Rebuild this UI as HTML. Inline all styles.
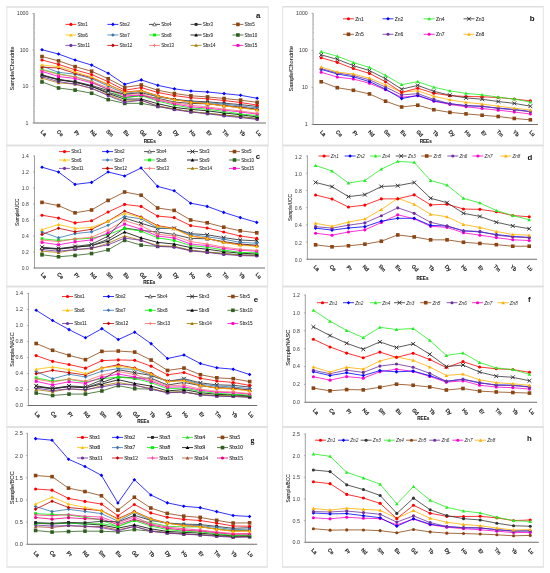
<!DOCTYPE html>
<html><head><meta charset="utf-8"><style>
html,body{margin:0;padding:0;background:#fff;width:550px;height:573px;overflow:hidden}
svg{display:block;filter:blur(0.55px)}

</style></head><body>
<svg width="550" height="573" viewBox="0 0 550 573" font-family='"Liberation Sans", sans-serif'>
<rect width="550" height="573" fill="#fff"/>
<path d="M6.2,6.9H268.8M6.2,145.6H268.8" fill="none" stroke="#e0e0e0" stroke-width="1.5"/>
<path d="M6.8,6.9V145.6M268.2,6.9V145.6" fill="none" stroke="#e6e6e6" stroke-width="1.1"/>
<path d="M34,13.0V123" fill="none" stroke="#8a8a8a" stroke-width="1.0"/>
<path d="M33.5,123H266" fill="none" stroke="#6e6e6e" stroke-width="1.1"/>
<path d="M32.5,13.50H34" stroke="#8c8c8c" stroke-width="0.6"/>
<text x="28.5" y="15.41" font-size="5.3" text-anchor="end" fill="#3a3a3a" stroke="#3a3a3a" stroke-width="0.0">1000</text>
<path d="M32.5,50.00H34" stroke="#8c8c8c" stroke-width="0.6"/>
<text x="28.5" y="51.91" font-size="5.3" text-anchor="end" fill="#3a3a3a" stroke="#3a3a3a" stroke-width="0.0">100</text>
<path d="M32.5,86.50H34" stroke="#8c8c8c" stroke-width="0.6"/>
<text x="28.5" y="88.41" font-size="5.3" text-anchor="end" fill="#3a3a3a" stroke="#3a3a3a" stroke-width="0.0">10</text>
<path d="M32.5,123.00H34" stroke="#8c8c8c" stroke-width="0.6"/>
<text x="28.5" y="124.91" font-size="5.3" text-anchor="end" fill="#3a3a3a" stroke="#3a3a3a" stroke-width="0.0">1</text>
<path d="M34,112.01H35.0" stroke="#9a9a9a" stroke-width="0.5"/>
<path d="M34,105.59H35.0" stroke="#9a9a9a" stroke-width="0.5"/>
<path d="M34,101.02H35.0" stroke="#9a9a9a" stroke-width="0.5"/>
<path d="M34,97.49H35.0" stroke="#9a9a9a" stroke-width="0.5"/>
<path d="M34,94.60H35.0" stroke="#9a9a9a" stroke-width="0.5"/>
<path d="M34,92.15H35.0" stroke="#9a9a9a" stroke-width="0.5"/>
<path d="M34,90.04H35.0" stroke="#9a9a9a" stroke-width="0.5"/>
<path d="M34,88.17H35.0" stroke="#9a9a9a" stroke-width="0.5"/>
<path d="M34,75.51H35.0" stroke="#9a9a9a" stroke-width="0.5"/>
<path d="M34,69.09H35.0" stroke="#9a9a9a" stroke-width="0.5"/>
<path d="M34,64.52H35.0" stroke="#9a9a9a" stroke-width="0.5"/>
<path d="M34,60.99H35.0" stroke="#9a9a9a" stroke-width="0.5"/>
<path d="M34,58.10H35.0" stroke="#9a9a9a" stroke-width="0.5"/>
<path d="M34,55.65H35.0" stroke="#9a9a9a" stroke-width="0.5"/>
<path d="M34,53.54H35.0" stroke="#9a9a9a" stroke-width="0.5"/>
<path d="M34,51.67H35.0" stroke="#9a9a9a" stroke-width="0.5"/>
<path d="M34,39.01H35.0" stroke="#9a9a9a" stroke-width="0.5"/>
<path d="M34,32.59H35.0" stroke="#9a9a9a" stroke-width="0.5"/>
<path d="M34,28.02H35.0" stroke="#9a9a9a" stroke-width="0.5"/>
<path d="M34,24.49H35.0" stroke="#9a9a9a" stroke-width="0.5"/>
<path d="M34,21.60H35.0" stroke="#9a9a9a" stroke-width="0.5"/>
<path d="M34,19.15H35.0" stroke="#9a9a9a" stroke-width="0.5"/>
<path d="M34,17.04H35.0" stroke="#9a9a9a" stroke-width="0.5"/>
<path d="M34,15.17H35.0" stroke="#9a9a9a" stroke-width="0.5"/>
<polyline points="42.00,81.95 58.55,87.98 75.10,90.11 91.65,93.25 108.20,99.59 124.75,103.36 141.30,103.30 157.85,106.41 174.40,109.05 190.95,111.68 207.50,113.37 224.05,115.03 240.60,116.56 257.15,118.39" fill="none" stroke="#2f5f1f" stroke-width="0.8"/>
<rect x="40.20" y="80.15" width="3.60" height="3.60" fill="#2f5f1f"/>
<rect x="56.75" y="86.18" width="3.60" height="3.60" fill="#2f5f1f"/>
<rect x="73.30" y="88.31" width="3.60" height="3.60" fill="#2f5f1f"/>
<rect x="89.85" y="91.45" width="3.60" height="3.60" fill="#2f5f1f"/>
<rect x="106.40" y="97.79" width="3.60" height="3.60" fill="#2f5f1f"/>
<rect x="122.95" y="101.56" width="3.60" height="3.60" fill="#2f5f1f"/>
<rect x="139.50" y="101.50" width="3.60" height="3.60" fill="#2f5f1f"/>
<rect x="156.05" y="104.61" width="3.60" height="3.60" fill="#2f5f1f"/>
<rect x="172.60" y="107.25" width="3.60" height="3.60" fill="#2f5f1f"/>
<rect x="189.15" y="109.88" width="3.60" height="3.60" fill="#2f5f1f"/>
<rect x="205.70" y="111.57" width="3.60" height="3.60" fill="#2f5f1f"/>
<rect x="222.25" y="113.23" width="3.60" height="3.60" fill="#2f5f1f"/>
<rect x="238.80" y="114.76" width="3.60" height="3.60" fill="#2f5f1f"/>
<rect x="255.35" y="116.59" width="3.60" height="3.60" fill="#2f5f1f"/>
<polyline points="42.00,78.13 58.55,82.92 75.10,84.12 91.65,88.64 108.20,94.65 124.75,101.06 141.30,100.29 157.85,105.84 174.40,109.05 190.95,111.68 207.50,113.37 224.05,115.03 240.60,117.04 257.15,118.89" fill="none" stroke="#a67c00" stroke-width="0.8"/>
<polygon points="42.00,76.33 43.80,79.57 40.20,79.57" fill="#a67c00"/>
<polygon points="58.55,81.12 60.35,84.36 56.75,84.36" fill="#a67c00"/>
<polygon points="75.10,82.32 76.90,85.56 73.30,85.56" fill="#a67c00"/>
<polygon points="91.65,86.84 93.45,90.08 89.85,90.08" fill="#a67c00"/>
<polygon points="108.20,92.85 110.00,96.09 106.40,96.09" fill="#a67c00"/>
<polygon points="124.75,99.26 126.55,102.50 122.95,102.50" fill="#a67c00"/>
<polygon points="141.30,98.49 143.10,101.73 139.50,101.73" fill="#a67c00"/>
<polygon points="157.85,104.04 159.65,107.28 156.05,107.28" fill="#a67c00"/>
<polygon points="174.40,107.25 176.20,110.49 172.60,110.49" fill="#a67c00"/>
<polygon points="190.95,109.88 192.75,113.12 189.15,113.12" fill="#a67c00"/>
<polygon points="207.50,111.57 209.30,114.81 205.70,114.81" fill="#a67c00"/>
<polygon points="224.05,113.23 225.85,116.47 222.25,116.47" fill="#a67c00"/>
<polygon points="240.60,115.24 242.40,118.48 238.80,118.48" fill="#a67c00"/>
<polygon points="257.15,117.09 258.95,120.33 255.35,120.33" fill="#a67c00"/>
<polyline points="42.00,76.69 58.55,81.67 75.10,84.05 91.65,88.13 108.20,95.71 124.75,102.13 141.30,100.29 157.85,106.41 174.40,109.65 190.95,112.05 207.50,113.78 224.05,115.93 240.60,117.55 257.15,119.41" fill="none" stroke="#7030a0" stroke-width="0.8"/>
<circle cx="42.00" cy="76.69" r="1.56" fill="#7030a0"/>
<circle cx="58.55" cy="81.67" r="1.56" fill="#7030a0"/>
<circle cx="75.10" cy="84.05" r="1.56" fill="#7030a0"/>
<circle cx="91.65" cy="88.13" r="1.56" fill="#7030a0"/>
<circle cx="108.20" cy="95.71" r="1.56" fill="#7030a0"/>
<circle cx="124.75" cy="102.13" r="1.56" fill="#7030a0"/>
<circle cx="141.30" cy="100.29" r="1.56" fill="#7030a0"/>
<circle cx="157.85" cy="106.41" r="1.56" fill="#7030a0"/>
<circle cx="174.40" cy="109.65" r="1.56" fill="#7030a0"/>
<circle cx="190.95" cy="112.05" r="1.56" fill="#7030a0"/>
<circle cx="207.50" cy="113.78" r="1.56" fill="#7030a0"/>
<circle cx="224.05" cy="115.93" r="1.56" fill="#7030a0"/>
<circle cx="240.60" cy="117.55" r="1.56" fill="#7030a0"/>
<circle cx="257.15" cy="119.41" r="1.56" fill="#7030a0"/>
<polyline points="42.00,75.36 58.55,79.88 75.10,82.11 91.65,86.33 108.20,93.38 124.75,99.20 141.30,98.97 157.85,103.72 174.40,107.38 190.95,109.34 207.50,110.82 224.05,112.97 240.60,114.74 257.15,116.97" fill="none" stroke="#000000" stroke-width="0.8"/>
<polygon points="42.00,73.56 43.80,76.80 40.20,76.80" fill="#000000"/>
<polygon points="58.55,78.08 60.35,81.32 56.75,81.32" fill="#000000"/>
<polygon points="75.10,80.31 76.90,83.55 73.30,83.55" fill="#000000"/>
<polygon points="91.65,84.53 93.45,87.77 89.85,87.77" fill="#000000"/>
<polygon points="108.20,91.58 110.00,94.82 106.40,94.82" fill="#000000"/>
<polygon points="124.75,97.40 126.55,100.64 122.95,100.64" fill="#000000"/>
<polygon points="141.30,97.17 143.10,100.41 139.50,100.41" fill="#000000"/>
<polygon points="157.85,101.92 159.65,105.16 156.05,105.16" fill="#000000"/>
<polygon points="174.40,105.58 176.20,108.82 172.60,108.82" fill="#000000"/>
<polygon points="190.95,107.54 192.75,110.78 189.15,110.78" fill="#000000"/>
<polygon points="207.50,109.02 209.30,112.26 205.70,112.26" fill="#000000"/>
<polygon points="224.05,111.17 225.85,114.41 222.25,114.41" fill="#000000"/>
<polygon points="240.60,112.94 242.40,116.18 238.80,116.18" fill="#000000"/>
<polygon points="257.15,115.17 258.95,118.41 255.35,118.41" fill="#000000"/>
<polyline points="42.00,75.36 58.55,79.55 75.10,82.11 91.65,86.33 108.20,92.28 124.75,97.53 141.30,95.43 157.85,98.32 174.40,102.05 190.95,103.44 207.50,103.84 224.05,105.42 240.60,107.08 257.15,109.24" fill="none" stroke="#262626" stroke-width="0.8"/>
<polygon points="42.00,73.56 43.80,76.80 40.20,76.80" fill="#fff" stroke="#262626" stroke-width="0.6"/>
<polygon points="58.55,77.75 60.35,80.99 56.75,80.99" fill="#fff" stroke="#262626" stroke-width="0.6"/>
<polygon points="75.10,80.31 76.90,83.55 73.30,83.55" fill="#fff" stroke="#262626" stroke-width="0.6"/>
<polygon points="91.65,84.53 93.45,87.77 89.85,87.77" fill="#fff" stroke="#262626" stroke-width="0.6"/>
<polygon points="108.20,90.48 110.00,93.72 106.40,93.72" fill="#fff" stroke="#262626" stroke-width="0.6"/>
<polygon points="124.75,95.73 126.55,98.97 122.95,98.97" fill="#fff" stroke="#262626" stroke-width="0.6"/>
<polygon points="141.30,93.63 143.10,96.87 139.50,96.87" fill="#fff" stroke="#262626" stroke-width="0.6"/>
<polygon points="157.85,96.52 159.65,99.76 156.05,99.76" fill="#fff" stroke="#262626" stroke-width="0.6"/>
<polygon points="174.40,100.25 176.20,103.49 172.60,103.49" fill="#fff" stroke="#262626" stroke-width="0.6"/>
<polygon points="190.95,101.64 192.75,104.88 189.15,104.88" fill="#fff" stroke="#262626" stroke-width="0.6"/>
<polygon points="207.50,102.04 209.30,105.28 205.70,105.28" fill="#fff" stroke="#262626" stroke-width="0.6"/>
<polygon points="224.05,103.62 225.85,106.86 222.25,106.86" fill="#fff" stroke="#262626" stroke-width="0.6"/>
<polygon points="240.60,105.28 242.40,108.52 238.80,108.52" fill="#fff" stroke="#262626" stroke-width="0.6"/>
<polygon points="257.15,107.44 258.95,110.68 255.35,110.68" fill="#fff" stroke="#262626" stroke-width="0.6"/>
<polyline points="42.00,69.37 58.55,73.84 75.10,76.95 91.65,81.83 108.20,89.84 124.75,97.75 141.30,95.74 157.85,101.12 174.40,105.16 190.95,107.86 207.50,109.21 224.05,111.49 240.60,113.91 257.15,115.66" fill="none" stroke="#00ee00" stroke-width="0.8"/>
<rect x="40.56" y="67.93" width="2.88" height="2.88" fill="#00ee00"/>
<rect x="57.11" y="72.40" width="2.88" height="2.88" fill="#00ee00"/>
<rect x="73.66" y="75.51" width="2.88" height="2.88" fill="#00ee00"/>
<rect x="90.21" y="80.39" width="2.88" height="2.88" fill="#00ee00"/>
<rect x="106.76" y="88.40" width="2.88" height="2.88" fill="#00ee00"/>
<rect x="123.31" y="96.31" width="2.88" height="2.88" fill="#00ee00"/>
<rect x="139.86" y="94.30" width="2.88" height="2.88" fill="#00ee00"/>
<rect x="156.41" y="99.68" width="2.88" height="2.88" fill="#00ee00"/>
<rect x="172.96" y="103.72" width="2.88" height="2.88" fill="#00ee00"/>
<rect x="189.51" y="106.42" width="2.88" height="2.88" fill="#00ee00"/>
<rect x="206.06" y="107.77" width="2.88" height="2.88" fill="#00ee00"/>
<rect x="222.61" y="110.05" width="2.88" height="2.88" fill="#00ee00"/>
<rect x="239.16" y="112.47" width="2.88" height="2.88" fill="#00ee00"/>
<rect x="255.71" y="114.22" width="2.88" height="2.88" fill="#00ee00"/>
<polyline points="42.00,71.45 58.55,76.55 75.10,78.48 91.65,82.75 108.20,89.10 124.75,96.05 141.30,94.90 157.85,100.18 174.40,103.84 190.95,106.77 207.50,108.04 224.05,110.14 240.60,111.99 257.15,114.08" fill="none" stroke="#ff00cc" stroke-width="0.8"/>
<rect x="40.56" y="70.01" width="2.88" height="2.88" fill="#ff00cc"/>
<rect x="57.11" y="75.11" width="2.88" height="2.88" fill="#ff00cc"/>
<rect x="73.66" y="77.04" width="2.88" height="2.88" fill="#ff00cc"/>
<rect x="90.21" y="81.31" width="2.88" height="2.88" fill="#ff00cc"/>
<rect x="106.76" y="87.66" width="2.88" height="2.88" fill="#ff00cc"/>
<rect x="123.31" y="94.61" width="2.88" height="2.88" fill="#ff00cc"/>
<rect x="139.86" y="93.46" width="2.88" height="2.88" fill="#ff00cc"/>
<rect x="156.41" y="98.74" width="2.88" height="2.88" fill="#ff00cc"/>
<rect x="172.96" y="102.40" width="2.88" height="2.88" fill="#ff00cc"/>
<rect x="189.51" y="105.33" width="2.88" height="2.88" fill="#ff00cc"/>
<rect x="206.06" y="106.60" width="2.88" height="2.88" fill="#ff00cc"/>
<rect x="222.61" y="108.70" width="2.88" height="2.88" fill="#ff00cc"/>
<rect x="239.16" y="110.55" width="2.88" height="2.88" fill="#ff00cc"/>
<rect x="255.71" y="112.64" width="2.88" height="2.88" fill="#ff00cc"/>
<polyline points="42.00,70.03 58.55,74.50 75.10,76.73 91.65,81.28 108.20,87.92 124.75,94.82 141.30,93.56 157.85,99.37 174.40,102.82 190.95,105.26 207.50,106.95 224.05,109.20 240.60,110.95 257.15,113.34" fill="none" stroke="#ff6f6f" stroke-width="0.8"/>
<path d="M40.32,70.03L43.68,70.03M42.00,68.35L42.00,71.71" stroke="#ff6f6f" stroke-width="0.8"/>
<path d="M56.87,74.50L60.23,74.50M58.55,72.82L58.55,76.18" stroke="#ff6f6f" stroke-width="0.8"/>
<path d="M73.42,76.73L76.78,76.73M75.10,75.05L75.10,78.41" stroke="#ff6f6f" stroke-width="0.8"/>
<path d="M89.97,81.28L93.33,81.28M91.65,79.60L91.65,82.96" stroke="#ff6f6f" stroke-width="0.8"/>
<path d="M106.52,87.92L109.88,87.92M108.20,86.24L108.20,89.60" stroke="#ff6f6f" stroke-width="0.8"/>
<path d="M123.07,94.82L126.43,94.82M124.75,93.14L124.75,96.50" stroke="#ff6f6f" stroke-width="0.8"/>
<path d="M139.62,93.56L142.98,93.56M141.30,91.88L141.30,95.24" stroke="#ff6f6f" stroke-width="0.8"/>
<path d="M156.17,99.37L159.53,99.37M157.85,97.69L157.85,101.05" stroke="#ff6f6f" stroke-width="0.8"/>
<path d="M172.72,102.82L176.08,102.82M174.40,101.14L174.40,104.50" stroke="#ff6f6f" stroke-width="0.8"/>
<path d="M189.27,105.26L192.63,105.26M190.95,103.58L190.95,106.94" stroke="#ff6f6f" stroke-width="0.8"/>
<path d="M205.82,106.95L209.18,106.95M207.50,105.27L207.50,108.63" stroke="#ff6f6f" stroke-width="0.8"/>
<path d="M222.37,109.20L225.73,109.20M224.05,107.52L224.05,110.88" stroke="#ff6f6f" stroke-width="0.8"/>
<path d="M238.92,110.95L242.28,110.95M240.60,109.27L240.60,112.63" stroke="#ff6f6f" stroke-width="0.8"/>
<path d="M255.47,113.34L258.83,113.34M257.15,111.66L257.15,115.02" stroke="#ff6f6f" stroke-width="0.8"/>
<polyline points="42.00,74.74 58.55,79.42 75.10,81.57 91.65,85.45 108.20,90.61 124.75,93.99 141.30,92.65 157.85,96.77 174.40,99.41 190.95,101.06 207.50,101.80 224.05,103.18 240.60,104.63 257.15,106.44" fill="none" stroke="#262626" stroke-width="0.8"/>
<rect x="40.56" y="73.30" width="2.88" height="2.88" fill="#262626"/>
<rect x="57.11" y="77.98" width="2.88" height="2.88" fill="#262626"/>
<rect x="73.66" y="80.13" width="2.88" height="2.88" fill="#262626"/>
<rect x="90.21" y="84.01" width="2.88" height="2.88" fill="#262626"/>
<rect x="106.76" y="89.17" width="2.88" height="2.88" fill="#262626"/>
<rect x="123.31" y="92.55" width="2.88" height="2.88" fill="#262626"/>
<rect x="139.86" y="91.21" width="2.88" height="2.88" fill="#262626"/>
<rect x="156.41" y="95.33" width="2.88" height="2.88" fill="#262626"/>
<rect x="172.96" y="97.97" width="2.88" height="2.88" fill="#262626"/>
<rect x="189.51" y="99.62" width="2.88" height="2.88" fill="#262626"/>
<rect x="206.06" y="100.36" width="2.88" height="2.88" fill="#262626"/>
<rect x="222.61" y="101.74" width="2.88" height="2.88" fill="#262626"/>
<rect x="239.16" y="103.19" width="2.88" height="2.88" fill="#262626"/>
<rect x="255.71" y="105.00" width="2.88" height="2.88" fill="#262626"/>
<polyline points="42.00,66.05 58.55,72.39 75.10,74.14 91.65,78.74 108.20,86.03 124.75,93.52 141.30,91.14 157.85,96.65 174.40,99.60 190.95,101.43 207.50,102.79 224.05,104.04 240.60,106.06 257.15,107.90" fill="none" stroke="#3a76b0" stroke-width="0.8"/>
<polygon points="42.00,64.25 43.80,66.05 42.00,67.85 40.20,66.05" fill="#3a76b0"/>
<polygon points="58.55,70.59 60.35,72.39 58.55,74.19 56.75,72.39" fill="#3a76b0"/>
<polygon points="75.10,72.34 76.90,74.14 75.10,75.94 73.30,74.14" fill="#3a76b0"/>
<polygon points="91.65,76.94 93.45,78.74 91.65,80.54 89.85,78.74" fill="#3a76b0"/>
<polygon points="108.20,84.23 110.00,86.03 108.20,87.83 106.40,86.03" fill="#3a76b0"/>
<polygon points="124.75,91.72 126.55,93.52 124.75,95.32 122.95,93.52" fill="#3a76b0"/>
<polygon points="141.30,89.34 143.10,91.14 141.30,92.94 139.50,91.14" fill="#3a76b0"/>
<polygon points="157.85,94.85 159.65,96.65 157.85,98.45 156.05,96.65" fill="#3a76b0"/>
<polygon points="174.40,97.80 176.20,99.60 174.40,101.40 172.60,99.60" fill="#3a76b0"/>
<polygon points="190.95,99.63 192.75,101.43 190.95,103.23 189.15,101.43" fill="#3a76b0"/>
<polygon points="207.50,100.99 209.30,102.79 207.50,104.59 205.70,102.79" fill="#3a76b0"/>
<polygon points="224.05,102.24 225.85,104.04 224.05,105.84 222.25,104.04" fill="#3a76b0"/>
<polygon points="240.60,104.26 242.40,106.06 240.60,107.86 238.80,106.06" fill="#3a76b0"/>
<polygon points="257.15,106.10 258.95,107.90 257.15,109.70 255.35,107.90" fill="#3a76b0"/>
<polyline points="42.00,67.14 58.55,68.01 75.10,73.35 91.65,77.65 108.20,84.59 124.75,91.97 141.30,90.61 157.85,95.75 174.40,99.44 190.95,102.21 207.50,103.62 224.05,105.91 240.60,107.62 257.15,109.80" fill="none" stroke="#c00000" stroke-width="0.8"/>
<polygon points="42.00,65.34 43.80,67.14 42.00,68.94 40.20,67.14" fill="#c00000"/>
<polygon points="58.55,66.21 60.35,68.01 58.55,69.81 56.75,68.01" fill="#c00000"/>
<polygon points="75.10,71.55 76.90,73.35 75.10,75.15 73.30,73.35" fill="#c00000"/>
<polygon points="91.65,75.85 93.45,77.65 91.65,79.45 89.85,77.65" fill="#c00000"/>
<polygon points="108.20,82.79 110.00,84.59 108.20,86.39 106.40,84.59" fill="#c00000"/>
<polygon points="124.75,90.17 126.55,91.97 124.75,93.77 122.95,91.97" fill="#c00000"/>
<polygon points="141.30,88.81 143.10,90.61 141.30,92.41 139.50,90.61" fill="#c00000"/>
<polygon points="157.85,93.95 159.65,95.75 157.85,97.55 156.05,95.75" fill="#c00000"/>
<polygon points="174.40,97.64 176.20,99.44 174.40,101.24 172.60,99.44" fill="#c00000"/>
<polygon points="190.95,100.41 192.75,102.21 190.95,104.01 189.15,102.21" fill="#c00000"/>
<polygon points="207.50,101.82 209.30,103.62 207.50,105.42 205.70,103.62" fill="#c00000"/>
<polygon points="224.05,104.11 225.85,105.91 224.05,107.71 222.25,105.91" fill="#c00000"/>
<polygon points="240.60,105.82 242.40,107.62 240.60,109.42 238.80,107.62" fill="#c00000"/>
<polygon points="257.15,108.00 258.95,109.80 257.15,111.60 255.35,109.80" fill="#c00000"/>
<polyline points="42.00,65.02 58.55,66.58 75.10,71.90 91.65,76.92 108.20,84.59 124.75,92.54 141.30,90.79 157.85,96.02 174.40,99.60 190.95,102.21 207.50,103.62 224.05,105.91 240.60,107.89 257.15,110.09" fill="none" stroke="#ffc000" stroke-width="0.8"/>
<polygon points="42.00,63.22 43.80,66.46 40.20,66.46" fill="#ffc000"/>
<polygon points="58.55,64.78 60.35,68.02 56.75,68.02" fill="#ffc000"/>
<polygon points="75.10,70.10 76.90,73.34 73.30,73.34" fill="#ffc000"/>
<polygon points="91.65,75.12 93.45,78.36 89.85,78.36" fill="#ffc000"/>
<polygon points="108.20,82.79 110.00,86.03 106.40,86.03" fill="#ffc000"/>
<polygon points="124.75,90.74 126.55,93.98 122.95,93.98" fill="#ffc000"/>
<polygon points="141.30,88.99 143.10,92.23 139.50,92.23" fill="#ffc000"/>
<polygon points="157.85,94.22 159.65,97.46 156.05,97.46" fill="#ffc000"/>
<polygon points="174.40,97.80 176.20,101.04 172.60,101.04" fill="#ffc000"/>
<polygon points="190.95,100.41 192.75,103.65 189.15,103.65" fill="#ffc000"/>
<polygon points="207.50,101.82 209.30,105.06 205.70,105.06" fill="#ffc000"/>
<polygon points="224.05,104.11 225.85,107.35 222.25,107.35" fill="#ffc000"/>
<polygon points="240.60,106.09 242.40,109.33 238.80,109.33" fill="#ffc000"/>
<polygon points="257.15,108.29 258.95,111.53 255.35,111.53" fill="#ffc000"/>
<polyline points="42.00,59.98 58.55,64.40 75.10,69.84 91.65,74.51 108.20,81.74 124.75,90.18 141.30,87.61 157.85,92.51 174.40,95.62 190.95,97.75 207.50,98.85 224.05,100.50 240.60,102.52 257.15,105.10" fill="none" stroke="#ff0000" stroke-width="0.8"/>
<circle cx="42.00" cy="59.98" r="1.56" fill="#ff0000"/>
<circle cx="58.55" cy="64.40" r="1.56" fill="#ff0000"/>
<circle cx="75.10" cy="69.84" r="1.56" fill="#ff0000"/>
<circle cx="91.65" cy="74.51" r="1.56" fill="#ff0000"/>
<circle cx="108.20" cy="81.74" r="1.56" fill="#ff0000"/>
<circle cx="124.75" cy="90.18" r="1.56" fill="#ff0000"/>
<circle cx="141.30" cy="87.61" r="1.56" fill="#ff0000"/>
<circle cx="157.85" cy="92.51" r="1.56" fill="#ff0000"/>
<circle cx="174.40" cy="95.62" r="1.56" fill="#ff0000"/>
<circle cx="190.95" cy="97.75" r="1.56" fill="#ff0000"/>
<circle cx="207.50" cy="98.85" r="1.56" fill="#ff0000"/>
<circle cx="224.05" cy="100.50" r="1.56" fill="#ff0000"/>
<circle cx="240.60" cy="102.52" r="1.56" fill="#ff0000"/>
<circle cx="257.15" cy="105.10" r="1.56" fill="#ff0000"/>
<polyline points="42.00,56.54 58.55,60.87 75.10,66.64 91.65,71.25 108.20,78.76 124.75,87.35 141.30,84.96 157.85,90.22 174.40,93.50 190.95,95.78 207.50,96.91 224.05,98.52 240.60,100.13 257.15,102.35" fill="none" stroke="#8b4513" stroke-width="0.8"/>
<rect x="40.20" y="54.74" width="3.60" height="3.60" fill="#8b4513"/>
<rect x="56.75" y="59.07" width="3.60" height="3.60" fill="#8b4513"/>
<rect x="73.30" y="64.84" width="3.60" height="3.60" fill="#8b4513"/>
<rect x="89.85" y="69.45" width="3.60" height="3.60" fill="#8b4513"/>
<rect x="106.40" y="76.96" width="3.60" height="3.60" fill="#8b4513"/>
<rect x="122.95" y="85.55" width="3.60" height="3.60" fill="#8b4513"/>
<rect x="139.50" y="83.16" width="3.60" height="3.60" fill="#8b4513"/>
<rect x="156.05" y="88.42" width="3.60" height="3.60" fill="#8b4513"/>
<rect x="172.60" y="91.70" width="3.60" height="3.60" fill="#8b4513"/>
<rect x="189.15" y="93.98" width="3.60" height="3.60" fill="#8b4513"/>
<rect x="205.70" y="95.11" width="3.60" height="3.60" fill="#8b4513"/>
<rect x="222.25" y="96.72" width="3.60" height="3.60" fill="#8b4513"/>
<rect x="238.80" y="98.33" width="3.60" height="3.60" fill="#8b4513"/>
<rect x="255.35" y="100.55" width="3.60" height="3.60" fill="#8b4513"/>
<polyline points="42.00,49.73 58.55,54.04 75.10,60.06 91.65,65.08 108.20,73.20 124.75,84.32 141.30,79.92 157.85,85.34 174.40,88.86 190.95,91.02 207.50,92.00 224.05,93.61 240.60,95.32 257.15,98.25" fill="none" stroke="#0000ff" stroke-width="0.8"/>
<polygon points="42.00,47.93 43.80,49.73 42.00,51.53 40.20,49.73" fill="#0000ff"/>
<polygon points="58.55,52.24 60.35,54.04 58.55,55.84 56.75,54.04" fill="#0000ff"/>
<polygon points="75.10,58.26 76.90,60.06 75.10,61.86 73.30,60.06" fill="#0000ff"/>
<polygon points="91.65,63.28 93.45,65.08 91.65,66.88 89.85,65.08" fill="#0000ff"/>
<polygon points="108.20,71.40 110.00,73.20 108.20,75.00 106.40,73.20" fill="#0000ff"/>
<polygon points="124.75,82.52 126.55,84.32 124.75,86.12 122.95,84.32" fill="#0000ff"/>
<polygon points="141.30,78.12 143.10,79.92 141.30,81.72 139.50,79.92" fill="#0000ff"/>
<polygon points="157.85,83.54 159.65,85.34 157.85,87.14 156.05,85.34" fill="#0000ff"/>
<polygon points="174.40,87.06 176.20,88.86 174.40,90.66 172.60,88.86" fill="#0000ff"/>
<polygon points="190.95,89.22 192.75,91.02 190.95,92.82 189.15,91.02" fill="#0000ff"/>
<polygon points="207.50,90.20 209.30,92.00 207.50,93.80 205.70,92.00" fill="#0000ff"/>
<polygon points="224.05,91.81 225.85,93.61 224.05,95.41 222.25,93.61" fill="#0000ff"/>
<polygon points="240.60,93.52 242.40,95.32 240.60,97.12 238.80,95.32" fill="#0000ff"/>
<polygon points="257.15,96.45 258.95,98.25 257.15,100.05 255.35,98.25" fill="#0000ff"/>
<text x="43.80" y="133.00" font-size="5.2" text-anchor="middle" dominant-baseline="central" transform="rotate(45 43.80 133.00)" fill="#262626" stroke="#262626" stroke-width="0.25">La</text>
<text x="60.35" y="133.00" font-size="5.2" text-anchor="middle" dominant-baseline="central" transform="rotate(45 60.35 133.00)" fill="#262626" stroke="#262626" stroke-width="0.25">Ce</text>
<text x="76.90" y="133.00" font-size="5.2" text-anchor="middle" dominant-baseline="central" transform="rotate(45 76.90 133.00)" fill="#262626" stroke="#262626" stroke-width="0.25">Pr</text>
<text x="93.45" y="133.00" font-size="5.2" text-anchor="middle" dominant-baseline="central" transform="rotate(45 93.45 133.00)" fill="#262626" stroke="#262626" stroke-width="0.25">Nd</text>
<text x="110.00" y="133.00" font-size="5.2" text-anchor="middle" dominant-baseline="central" transform="rotate(45 110.00 133.00)" fill="#262626" stroke="#262626" stroke-width="0.25">Sm</text>
<text x="126.55" y="133.00" font-size="5.2" text-anchor="middle" dominant-baseline="central" transform="rotate(45 126.55 133.00)" fill="#262626" stroke="#262626" stroke-width="0.25">Eu</text>
<text x="143.10" y="133.00" font-size="5.2" text-anchor="middle" dominant-baseline="central" transform="rotate(45 143.10 133.00)" fill="#262626" stroke="#262626" stroke-width="0.25">Gd</text>
<text x="159.65" y="133.00" font-size="5.2" text-anchor="middle" dominant-baseline="central" transform="rotate(45 159.65 133.00)" fill="#262626" stroke="#262626" stroke-width="0.25">Tb</text>
<text x="176.20" y="133.00" font-size="5.2" text-anchor="middle" dominant-baseline="central" transform="rotate(45 176.20 133.00)" fill="#262626" stroke="#262626" stroke-width="0.25">Dy</text>
<text x="192.75" y="133.00" font-size="5.2" text-anchor="middle" dominant-baseline="central" transform="rotate(45 192.75 133.00)" fill="#262626" stroke="#262626" stroke-width="0.25">Ho</text>
<text x="209.30" y="133.00" font-size="5.2" text-anchor="middle" dominant-baseline="central" transform="rotate(45 209.30 133.00)" fill="#262626" stroke="#262626" stroke-width="0.25">Er</text>
<text x="225.85" y="133.00" font-size="5.2" text-anchor="middle" dominant-baseline="central" transform="rotate(45 225.85 133.00)" fill="#262626" stroke="#262626" stroke-width="0.25">Tm</text>
<text x="242.40" y="133.00" font-size="5.2" text-anchor="middle" dominant-baseline="central" transform="rotate(45 242.40 133.00)" fill="#262626" stroke="#262626" stroke-width="0.25">Yb</text>
<text x="258.95" y="133.00" font-size="5.2" text-anchor="middle" dominant-baseline="central" transform="rotate(45 258.95 133.00)" fill="#262626" stroke="#262626" stroke-width="0.25">Lu</text>
<path d="M65.4,24.4h11" stroke="#ff0000" stroke-width="0.8"/>
<circle cx="70.90" cy="24.40" r="1.56" fill="#ff0000"/>
<text x="77.60000000000001" y="26.29" font-size="4.5" fill="#262626" stroke="#262626" stroke-width="0.06" font-style="normal" font-family='"Liberation Sans", sans-serif'>Sbx1</text>
<path d="M107.4,24.4h11" stroke="#0000ff" stroke-width="0.8"/>
<polygon points="112.90,22.60 114.70,24.40 112.90,26.20 111.10,24.40" fill="#0000ff"/>
<text x="119.60000000000001" y="26.29" font-size="4.5" fill="#262626" stroke="#262626" stroke-width="0.06" font-style="normal" font-family='"Liberation Sans", sans-serif'>Sbx2</text>
<path d="M149,24.4h11" stroke="#262626" stroke-width="0.8"/>
<polygon points="154.50,22.60 156.30,25.84 152.70,25.84" fill="#fff" stroke="#262626" stroke-width="0.6"/>
<text x="161.2" y="26.29" font-size="4.5" fill="#262626" stroke="#262626" stroke-width="0.06" font-style="normal" font-family='"Liberation Sans", sans-serif'>Sbx4</text>
<path d="M190.6,24.4h11" stroke="#262626" stroke-width="0.8"/>
<rect x="194.66" y="22.96" width="2.88" height="2.88" fill="#262626"/>
<text x="202.79999999999998" y="26.29" font-size="4.5" fill="#262626" stroke="#262626" stroke-width="0.06" font-style="normal" font-family='"Liberation Sans", sans-serif'>Sbx3</text>
<path d="M232.4,24.4h11" stroke="#8b4513" stroke-width="0.8"/>
<rect x="236.10" y="22.60" width="3.60" height="3.60" fill="#8b4513"/>
<text x="244.6" y="26.29" font-size="4.5" fill="#262626" stroke="#262626" stroke-width="0.06" font-style="normal" font-family='"Liberation Sans", sans-serif'>Sbx5</text>
<path d="M65.4,35h11" stroke="#ffc000" stroke-width="0.8"/>
<polygon points="70.90,33.20 72.70,36.44 69.10,36.44" fill="#ffc000"/>
<text x="77.60000000000001" y="36.89" font-size="4.5" fill="#262626" stroke="#262626" stroke-width="0.06" font-style="normal" font-family='"Liberation Sans", sans-serif'>Sbx6</text>
<path d="M107.4,35h11" stroke="#3a76b0" stroke-width="0.8"/>
<polygon points="112.90,33.20 114.70,35.00 112.90,36.80 111.10,35.00" fill="#3a76b0"/>
<text x="119.60000000000001" y="36.89" font-size="4.5" fill="#262626" stroke="#262626" stroke-width="0.06" font-style="normal" font-family='"Liberation Sans", sans-serif'>Sbx7</text>
<path d="M149,35h11" stroke="#00ee00" stroke-width="0.8"/>
<rect x="153.06" y="33.56" width="2.88" height="2.88" fill="#00ee00"/>
<text x="161.2" y="36.89" font-size="4.5" fill="#262626" stroke="#262626" stroke-width="0.06" font-style="normal" font-family='"Liberation Sans", sans-serif'>Sbx8</text>
<path d="M190.6,35h11" stroke="#000000" stroke-width="0.8"/>
<polygon points="196.10,33.20 197.90,36.44 194.30,36.44" fill="#000000"/>
<text x="202.79999999999998" y="36.89" font-size="4.5" fill="#262626" stroke="#262626" stroke-width="0.06" font-style="normal" font-family='"Liberation Sans", sans-serif'>Sbx9</text>
<path d="M232.4,35h11" stroke="#2f5f1f" stroke-width="0.8"/>
<rect x="236.10" y="33.20" width="3.60" height="3.60" fill="#2f5f1f"/>
<text x="244.6" y="36.89" font-size="4.5" fill="#262626" stroke="#262626" stroke-width="0.06" font-style="normal" font-family='"Liberation Sans", sans-serif'>Sbx10</text>
<path d="M65.4,45.4h11" stroke="#7030a0" stroke-width="0.8"/>
<circle cx="70.90" cy="45.40" r="1.56" fill="#7030a0"/>
<text x="77.60000000000001" y="47.29" font-size="4.5" fill="#262626" stroke="#262626" stroke-width="0.06" font-style="normal" font-family='"Liberation Sans", sans-serif'>Sbx11</text>
<path d="M107.4,45.4h11" stroke="#c00000" stroke-width="0.8"/>
<polygon points="112.90,43.60 114.70,45.40 112.90,47.20 111.10,45.40" fill="#c00000"/>
<text x="119.60000000000001" y="47.29" font-size="4.5" fill="#262626" stroke="#262626" stroke-width="0.06" font-style="normal" font-family='"Liberation Sans", sans-serif'>Sbx12</text>
<path d="M149,45.4h11" stroke="#ff6f6f" stroke-width="0.8"/>
<path d="M152.82,45.40L156.18,45.40M154.50,43.72L154.50,47.08" stroke="#ff6f6f" stroke-width="0.8"/>
<text x="161.2" y="47.29" font-size="4.5" fill="#262626" stroke="#262626" stroke-width="0.06" font-style="normal" font-family='"Liberation Sans", sans-serif'>Sbx13</text>
<path d="M190.6,45.4h11" stroke="#a67c00" stroke-width="0.8"/>
<polygon points="196.10,43.60 197.90,46.84 194.30,46.84" fill="#a67c00"/>
<text x="202.79999999999998" y="47.29" font-size="4.5" fill="#262626" stroke="#262626" stroke-width="0.06" font-style="normal" font-family='"Liberation Sans", sans-serif'>Sbx14</text>
<path d="M232.4,45.4h11" stroke="#ff00cc" stroke-width="0.8"/>
<rect x="236.46" y="43.96" width="2.88" height="2.88" fill="#ff00cc"/>
<text x="244.6" y="47.29" font-size="4.5" fill="#262626" stroke="#262626" stroke-width="0.06" font-style="normal" font-family='"Liberation Sans", sans-serif'>Sbx15</text>
<text x="258.2" y="15.8" font-size="7.9" font-weight="bold" text-anchor="middle" dominant-baseline="central" fill="#111" font-family='"Liberation Sans", sans-serif'>a</text>
<text x="12" y="68.4" font-size="5.5" text-anchor="middle" dominant-baseline="central" transform="rotate(-90 12 68.4)" fill="#262626" stroke="#262626" stroke-width="0.08" font-weight="normal">Sample/Chondrite</text>
<text x="149.7" y="141.3" font-size="4.6" font-weight="bold" text-anchor="middle" dominant-baseline="central" fill="#262626" stroke="#262626" stroke-width="0.12">REEs</text>
<path d="M282.09999999999997,6.8H543.9M282.09999999999997,145.6H543.9" fill="none" stroke="#e0e0e0" stroke-width="1.5"/>
<path d="M282.7,6.8V145.6M543.3,6.8V145.6" fill="none" stroke="#e6e6e6" stroke-width="1.1"/>
<path d="M313,12.9V124.5" fill="none" stroke="#a0a0a0" stroke-width="1.0"/>
<path d="M312.5,124.5H538" fill="none" stroke="#6e6e6e" stroke-width="1.1"/>
<path d="M311.5,13.40H313" stroke="#8c8c8c" stroke-width="0.6"/>
<text x="307.8" y="15.31" font-size="5.3" text-anchor="end" fill="#3a3a3a" stroke="#3a3a3a" stroke-width="0.0">1000</text>
<path d="M311.5,50.43H313" stroke="#8c8c8c" stroke-width="0.6"/>
<text x="307.8" y="52.34" font-size="5.3" text-anchor="end" fill="#3a3a3a" stroke="#3a3a3a" stroke-width="0.0">100</text>
<path d="M311.5,87.47H313" stroke="#8c8c8c" stroke-width="0.6"/>
<text x="307.8" y="89.37" font-size="5.3" text-anchor="end" fill="#3a3a3a" stroke="#3a3a3a" stroke-width="0.0">10</text>
<path d="M311.5,124.50H313" stroke="#8c8c8c" stroke-width="0.6"/>
<text x="307.8" y="126.41" font-size="5.3" text-anchor="end" fill="#3a3a3a" stroke="#3a3a3a" stroke-width="0.0">1</text>
<path d="M313,113.35H314.0" stroke="#9a9a9a" stroke-width="0.5"/>
<path d="M313,106.83H314.0" stroke="#9a9a9a" stroke-width="0.5"/>
<path d="M313,102.20H314.0" stroke="#9a9a9a" stroke-width="0.5"/>
<path d="M313,98.61H314.0" stroke="#9a9a9a" stroke-width="0.5"/>
<path d="M313,95.68H314.0" stroke="#9a9a9a" stroke-width="0.5"/>
<path d="M313,93.20H314.0" stroke="#9a9a9a" stroke-width="0.5"/>
<path d="M313,91.06H314.0" stroke="#9a9a9a" stroke-width="0.5"/>
<path d="M313,89.16H314.0" stroke="#9a9a9a" stroke-width="0.5"/>
<path d="M313,76.32H314.0" stroke="#9a9a9a" stroke-width="0.5"/>
<path d="M313,69.80H314.0" stroke="#9a9a9a" stroke-width="0.5"/>
<path d="M313,65.17H314.0" stroke="#9a9a9a" stroke-width="0.5"/>
<path d="M313,61.58H314.0" stroke="#9a9a9a" stroke-width="0.5"/>
<path d="M313,58.65H314.0" stroke="#9a9a9a" stroke-width="0.5"/>
<path d="M313,56.17H314.0" stroke="#9a9a9a" stroke-width="0.5"/>
<path d="M313,54.02H314.0" stroke="#9a9a9a" stroke-width="0.5"/>
<path d="M313,52.13H314.0" stroke="#9a9a9a" stroke-width="0.5"/>
<path d="M313,39.29H314.0" stroke="#9a9a9a" stroke-width="0.5"/>
<path d="M313,32.76H314.0" stroke="#9a9a9a" stroke-width="0.5"/>
<path d="M313,28.14H314.0" stroke="#9a9a9a" stroke-width="0.5"/>
<path d="M313,24.55H314.0" stroke="#9a9a9a" stroke-width="0.5"/>
<path d="M313,21.62H314.0" stroke="#9a9a9a" stroke-width="0.5"/>
<path d="M313,19.14H314.0" stroke="#9a9a9a" stroke-width="0.5"/>
<path d="M313,16.99H314.0" stroke="#9a9a9a" stroke-width="0.5"/>
<path d="M313,15.09H314.0" stroke="#9a9a9a" stroke-width="0.5"/>
<polyline points="321.20,81.74 337.29,87.69 353.38,90.30 369.47,93.94 385.56,101.18 401.65,106.98 417.74,105.22 433.83,109.71 449.92,112.38 466.01,113.89 482.10,115.25 498.19,116.51 514.28,118.46 530.37,119.82" fill="none" stroke="#8b4513" stroke-width="0.8"/>
<rect x="319.40" y="79.94" width="3.60" height="3.60" fill="#8b4513"/>
<rect x="335.49" y="85.89" width="3.60" height="3.60" fill="#8b4513"/>
<rect x="351.58" y="88.50" width="3.60" height="3.60" fill="#8b4513"/>
<rect x="367.67" y="92.14" width="3.60" height="3.60" fill="#8b4513"/>
<rect x="383.76" y="99.38" width="3.60" height="3.60" fill="#8b4513"/>
<rect x="399.85" y="105.18" width="3.60" height="3.60" fill="#8b4513"/>
<rect x="415.94" y="103.42" width="3.60" height="3.60" fill="#8b4513"/>
<rect x="432.03" y="107.91" width="3.60" height="3.60" fill="#8b4513"/>
<rect x="448.12" y="110.58" width="3.60" height="3.60" fill="#8b4513"/>
<rect x="464.21" y="112.09" width="3.60" height="3.60" fill="#8b4513"/>
<rect x="480.30" y="113.45" width="3.60" height="3.60" fill="#8b4513"/>
<rect x="496.39" y="114.71" width="3.60" height="3.60" fill="#8b4513"/>
<rect x="512.48" y="116.66" width="3.60" height="3.60" fill="#8b4513"/>
<rect x="528.57" y="118.02" width="3.60" height="3.60" fill="#8b4513"/>
<polyline points="321.20,72.25 337.29,77.11 353.38,79.00 369.47,83.25 385.56,89.77 401.65,97.29 417.74,95.67 433.83,101.22 449.92,104.41 466.01,106.78 482.10,108.50 498.19,110.17 514.28,112.01 530.37,114.02" fill="none" stroke="#ff00cc" stroke-width="0.8"/>
<circle cx="321.20" cy="72.25" r="1.56" fill="#ff00cc"/>
<circle cx="337.29" cy="77.11" r="1.56" fill="#ff00cc"/>
<circle cx="353.38" cy="79.00" r="1.56" fill="#ff00cc"/>
<circle cx="369.47" cy="83.25" r="1.56" fill="#ff00cc"/>
<circle cx="385.56" cy="89.77" r="1.56" fill="#ff00cc"/>
<circle cx="401.65" cy="97.29" r="1.56" fill="#ff00cc"/>
<circle cx="417.74" cy="95.67" r="1.56" fill="#ff00cc"/>
<circle cx="433.83" cy="101.22" r="1.56" fill="#ff00cc"/>
<circle cx="449.92" cy="104.41" r="1.56" fill="#ff00cc"/>
<circle cx="466.01" cy="106.78" r="1.56" fill="#ff00cc"/>
<circle cx="482.10" cy="108.50" r="1.56" fill="#ff00cc"/>
<circle cx="498.19" cy="110.17" r="1.56" fill="#ff00cc"/>
<circle cx="514.28" cy="112.01" r="1.56" fill="#ff00cc"/>
<circle cx="530.37" cy="114.02" r="1.56" fill="#ff00cc"/>
<polyline points="321.20,69.39 337.29,74.03 353.38,76.78 369.47,81.60 385.56,89.17 401.65,98.62 417.74,95.50 433.83,100.77 449.92,103.73 466.01,105.67 482.10,106.45 498.19,108.03 514.28,109.46 530.37,111.50" fill="none" stroke="#0000ff" stroke-width="0.8"/>
<polygon points="321.20,67.59 323.00,69.39 321.20,71.19 319.40,69.39" fill="#0000ff"/>
<polygon points="337.29,72.23 339.09,74.03 337.29,75.83 335.49,74.03" fill="#0000ff"/>
<polygon points="353.38,74.98 355.18,76.78 353.38,78.58 351.58,76.78" fill="#0000ff"/>
<polygon points="369.47,79.80 371.27,81.60 369.47,83.40 367.67,81.60" fill="#0000ff"/>
<polygon points="385.56,87.37 387.36,89.17 385.56,90.97 383.76,89.17" fill="#0000ff"/>
<polygon points="401.65,96.82 403.45,98.62 401.65,100.42 399.85,98.62" fill="#0000ff"/>
<polygon points="417.74,93.70 419.54,95.50 417.74,97.30 415.94,95.50" fill="#0000ff"/>
<polygon points="433.83,98.97 435.63,100.77 433.83,102.57 432.03,100.77" fill="#0000ff"/>
<polygon points="449.92,101.93 451.72,103.73 449.92,105.53 448.12,103.73" fill="#0000ff"/>
<polygon points="466.01,103.87 467.81,105.67 466.01,107.47 464.21,105.67" fill="#0000ff"/>
<polygon points="482.10,104.65 483.90,106.45 482.10,108.25 480.30,106.45" fill="#0000ff"/>
<polygon points="498.19,106.23 499.99,108.03 498.19,109.83 496.39,108.03" fill="#0000ff"/>
<polygon points="514.28,107.66 516.08,109.46 514.28,111.26 512.48,109.46" fill="#0000ff"/>
<polygon points="530.37,109.70 532.17,111.50 530.37,113.30 528.57,111.50" fill="#0000ff"/>
<polyline points="321.20,68.65 337.29,72.98 353.38,75.42 369.47,79.83 385.56,87.04 401.65,94.95 417.74,93.65 433.83,99.40 449.92,103.73 466.01,105.62 482.10,106.15 498.19,108.48 514.28,109.82 530.37,111.82" fill="none" stroke="#7030a0" stroke-width="0.8"/>
<circle cx="321.20" cy="68.65" r="1.56" fill="#7030a0"/>
<circle cx="337.29" cy="72.98" r="1.56" fill="#7030a0"/>
<circle cx="353.38" cy="75.42" r="1.56" fill="#7030a0"/>
<circle cx="369.47" cy="79.83" r="1.56" fill="#7030a0"/>
<circle cx="385.56" cy="87.04" r="1.56" fill="#7030a0"/>
<circle cx="401.65" cy="94.95" r="1.56" fill="#7030a0"/>
<circle cx="417.74" cy="93.65" r="1.56" fill="#7030a0"/>
<circle cx="433.83" cy="99.40" r="1.56" fill="#7030a0"/>
<circle cx="449.92" cy="103.73" r="1.56" fill="#7030a0"/>
<circle cx="466.01" cy="105.62" r="1.56" fill="#7030a0"/>
<circle cx="482.10" cy="106.15" r="1.56" fill="#7030a0"/>
<circle cx="498.19" cy="108.48" r="1.56" fill="#7030a0"/>
<circle cx="514.28" cy="109.82" r="1.56" fill="#7030a0"/>
<circle cx="530.37" cy="111.82" r="1.56" fill="#7030a0"/>
<polyline points="321.20,67.08 337.29,72.03 353.38,74.02 369.47,78.17 385.56,84.90 401.65,92.21 417.74,90.74 433.83,96.24 449.92,99.80 466.01,102.42 482.10,104.01 498.19,106.18 514.28,108.18 530.37,110.00" fill="none" stroke="#ffb000" stroke-width="0.8"/>
<polygon points="321.20,65.28 323.00,68.52 319.40,68.52" fill="#ffb000"/>
<polygon points="337.29,70.23 339.09,73.47 335.49,73.47" fill="#ffb000"/>
<polygon points="353.38,72.22 355.18,75.46 351.58,75.46" fill="#ffb000"/>
<polygon points="369.47,76.37 371.27,79.61 367.67,79.61" fill="#ffb000"/>
<polygon points="385.56,83.10 387.36,86.34 383.76,86.34" fill="#ffb000"/>
<polygon points="401.65,90.41 403.45,93.65 399.85,93.65" fill="#ffb000"/>
<polygon points="417.74,88.94 419.54,92.18 415.94,92.18" fill="#ffb000"/>
<polygon points="433.83,94.44 435.63,97.68 432.03,97.68" fill="#ffb000"/>
<polygon points="449.92,98.00 451.72,101.24 448.12,101.24" fill="#ffb000"/>
<polygon points="466.01,100.62 467.81,103.86 464.21,103.86" fill="#ffb000"/>
<polygon points="482.10,102.21 483.90,105.45 480.30,105.45" fill="#ffb000"/>
<polygon points="498.19,104.38 499.99,107.62 496.39,107.62" fill="#ffb000"/>
<polygon points="514.28,106.38 516.08,109.62 512.48,109.62" fill="#ffb000"/>
<polygon points="530.37,108.20 532.17,111.44 528.57,111.44" fill="#ffb000"/>
<polyline points="321.20,57.74 337.29,62.37 353.38,68.55 369.47,73.43 385.56,81.77 401.65,92.37 417.74,88.21 433.83,93.17 449.92,95.64 466.01,96.49 482.10,96.78 498.19,97.53 514.28,99.05 530.37,100.86" fill="none" stroke="#ff0000" stroke-width="0.8"/>
<circle cx="321.20" cy="57.74" r="1.56" fill="#ff0000"/>
<circle cx="337.29" cy="62.37" r="1.56" fill="#ff0000"/>
<circle cx="353.38" cy="68.55" r="1.56" fill="#ff0000"/>
<circle cx="369.47" cy="73.43" r="1.56" fill="#ff0000"/>
<circle cx="385.56" cy="81.77" r="1.56" fill="#ff0000"/>
<circle cx="401.65" cy="92.37" r="1.56" fill="#ff0000"/>
<circle cx="417.74" cy="88.21" r="1.56" fill="#ff0000"/>
<circle cx="433.83" cy="93.17" r="1.56" fill="#ff0000"/>
<circle cx="449.92" cy="95.64" r="1.56" fill="#ff0000"/>
<circle cx="466.01" cy="96.49" r="1.56" fill="#ff0000"/>
<circle cx="482.10" cy="96.78" r="1.56" fill="#ff0000"/>
<circle cx="498.19" cy="97.53" r="1.56" fill="#ff0000"/>
<circle cx="514.28" cy="99.05" r="1.56" fill="#ff0000"/>
<circle cx="530.37" cy="100.86" r="1.56" fill="#ff0000"/>
<polyline points="321.20,54.87 337.29,59.36 353.38,65.63 369.47,70.60 385.56,78.79 401.65,89.20 417.74,85.40 433.83,91.32 449.92,95.19 466.01,97.90 482.10,99.24 498.19,101.54 514.28,103.38 530.37,106.18" fill="none" stroke="#333333" stroke-width="0.8"/>
<path d="M319.28,52.95L323.12,56.79M323.12,52.95L319.28,56.79" stroke="#333333" stroke-width="1.0"/>
<path d="M335.37,57.44L339.21,61.28M339.21,57.44L335.37,61.28" stroke="#333333" stroke-width="1.0"/>
<path d="M351.46,63.71L355.30,67.55M355.30,63.71L351.46,67.55" stroke="#333333" stroke-width="1.0"/>
<path d="M367.55,68.68L371.39,72.52M371.39,68.68L367.55,72.52" stroke="#333333" stroke-width="1.0"/>
<path d="M383.64,76.87L387.48,80.71M387.48,76.87L383.64,80.71" stroke="#333333" stroke-width="1.0"/>
<path d="M399.73,87.28L403.57,91.12M403.57,87.28L399.73,91.12" stroke="#333333" stroke-width="1.0"/>
<path d="M415.82,83.48L419.66,87.32M419.66,83.48L415.82,87.32" stroke="#333333" stroke-width="1.0"/>
<path d="M431.91,89.40L435.75,93.24M435.75,89.40L431.91,93.24" stroke="#333333" stroke-width="1.0"/>
<path d="M448.00,93.27L451.84,97.11M451.84,93.27L448.00,97.11" stroke="#333333" stroke-width="1.0"/>
<path d="M464.09,95.98L467.93,99.82M467.93,95.98L464.09,99.82" stroke="#333333" stroke-width="1.0"/>
<path d="M480.18,97.32L484.02,101.16M484.02,97.32L480.18,101.16" stroke="#333333" stroke-width="1.0"/>
<path d="M496.27,99.62L500.11,103.46M500.11,99.62L496.27,103.46" stroke="#333333" stroke-width="1.0"/>
<path d="M512.36,101.46L516.20,105.30M516.20,101.46L512.36,105.30" stroke="#333333" stroke-width="1.0"/>
<path d="M528.45,104.26L532.29,108.10M532.29,104.26L528.45,108.10" stroke="#333333" stroke-width="1.0"/>
<polyline points="321.20,51.66 337.29,56.22 353.38,62.47 369.47,67.41 385.56,75.33 401.65,84.62 417.74,81.65 433.83,87.22 449.92,90.85 466.01,93.39 482.10,94.83 498.19,97.13 514.28,99.05 530.37,102.01" fill="none" stroke="#22ee22" stroke-width="0.8"/>
<polygon points="321.20,49.86 323.00,53.10 319.40,53.10" fill="#22ee22"/>
<polygon points="337.29,54.42 339.09,57.66 335.49,57.66" fill="#22ee22"/>
<polygon points="353.38,60.67 355.18,63.91 351.58,63.91" fill="#22ee22"/>
<polygon points="369.47,65.61 371.27,68.85 367.67,68.85" fill="#22ee22"/>
<polygon points="385.56,73.53 387.36,76.77 383.76,76.77" fill="#22ee22"/>
<polygon points="401.65,82.82 403.45,86.06 399.85,86.06" fill="#22ee22"/>
<polygon points="417.74,79.85 419.54,83.09 415.94,83.09" fill="#22ee22"/>
<polygon points="433.83,85.42 435.63,88.66 432.03,88.66" fill="#22ee22"/>
<polygon points="449.92,89.05 451.72,92.29 448.12,92.29" fill="#22ee22"/>
<polygon points="466.01,91.59 467.81,94.83 464.21,94.83" fill="#22ee22"/>
<polygon points="482.10,93.03 483.90,96.27 480.30,96.27" fill="#22ee22"/>
<polygon points="498.19,95.33 499.99,98.57 496.39,98.57" fill="#22ee22"/>
<polygon points="514.28,97.25 516.08,100.49 512.48,100.49" fill="#22ee22"/>
<polygon points="530.37,100.21 532.17,103.45 528.57,103.45" fill="#22ee22"/>
<text x="323.20" y="133.20" font-size="5.2" text-anchor="middle" dominant-baseline="central" transform="rotate(45 323.20 133.20)" fill="#262626" stroke="#262626" stroke-width="0.25">La</text>
<text x="339.29" y="133.20" font-size="5.2" text-anchor="middle" dominant-baseline="central" transform="rotate(45 339.29 133.20)" fill="#262626" stroke="#262626" stroke-width="0.25">Ce</text>
<text x="355.38" y="133.20" font-size="5.2" text-anchor="middle" dominant-baseline="central" transform="rotate(45 355.38 133.20)" fill="#262626" stroke="#262626" stroke-width="0.25">Pr</text>
<text x="371.47" y="133.20" font-size="5.2" text-anchor="middle" dominant-baseline="central" transform="rotate(45 371.47 133.20)" fill="#262626" stroke="#262626" stroke-width="0.25">Nd</text>
<text x="387.56" y="133.20" font-size="5.2" text-anchor="middle" dominant-baseline="central" transform="rotate(45 387.56 133.20)" fill="#262626" stroke="#262626" stroke-width="0.25">Sm</text>
<text x="403.65" y="133.20" font-size="5.2" text-anchor="middle" dominant-baseline="central" transform="rotate(45 403.65 133.20)" fill="#262626" stroke="#262626" stroke-width="0.25">Eu</text>
<text x="419.74" y="133.20" font-size="5.2" text-anchor="middle" dominant-baseline="central" transform="rotate(45 419.74 133.20)" fill="#262626" stroke="#262626" stroke-width="0.25">Gd</text>
<text x="435.83" y="133.20" font-size="5.2" text-anchor="middle" dominant-baseline="central" transform="rotate(45 435.83 133.20)" fill="#262626" stroke="#262626" stroke-width="0.25">Tb</text>
<text x="451.92" y="133.20" font-size="5.2" text-anchor="middle" dominant-baseline="central" transform="rotate(45 451.92 133.20)" fill="#262626" stroke="#262626" stroke-width="0.25">Dy</text>
<text x="468.01" y="133.20" font-size="5.2" text-anchor="middle" dominant-baseline="central" transform="rotate(45 468.01 133.20)" fill="#262626" stroke="#262626" stroke-width="0.25">Ho</text>
<text x="484.10" y="133.20" font-size="5.2" text-anchor="middle" dominant-baseline="central" transform="rotate(45 484.10 133.20)" fill="#262626" stroke="#262626" stroke-width="0.25">Er</text>
<text x="500.19" y="133.20" font-size="5.2" text-anchor="middle" dominant-baseline="central" transform="rotate(45 500.19 133.20)" fill="#262626" stroke="#262626" stroke-width="0.25">Tm</text>
<text x="516.28" y="133.20" font-size="5.2" text-anchor="middle" dominant-baseline="central" transform="rotate(45 516.28 133.20)" fill="#262626" stroke="#262626" stroke-width="0.25">Yb</text>
<text x="532.37" y="133.20" font-size="5.2" text-anchor="middle" dominant-baseline="central" transform="rotate(45 532.37 133.20)" fill="#262626" stroke="#262626" stroke-width="0.25">Lu</text>
<path d="M343,18.8h11" stroke="#ff0000" stroke-width="0.8"/>
<circle cx="348.50" cy="18.80" r="1.56" fill="#ff0000"/>
<text x="355.2" y="20.90" font-size="5.0" fill="#262626" stroke="#262626" stroke-width="0.06" font-style="normal" font-family='"Liberation Sans", sans-serif'>Zn1</text>
<path d="M382.5,18.8h11" stroke="#0000ff" stroke-width="0.8"/>
<polygon points="388.00,17.00 389.80,18.80 388.00,20.60 386.20,18.80" fill="#0000ff"/>
<text x="394.7" y="20.90" font-size="5.0" fill="#262626" stroke="#262626" stroke-width="0.06" font-style="normal" font-family='"Liberation Sans", sans-serif'>Zn2</text>
<path d="M423.7,18.8h11" stroke="#22ee22" stroke-width="0.8"/>
<polygon points="429.20,17.00 431.00,20.24 427.40,20.24" fill="#22ee22"/>
<text x="435.9" y="20.90" font-size="5.0" fill="#262626" stroke="#262626" stroke-width="0.06" font-style="normal" font-family='"Liberation Sans", sans-serif'>Zn4</text>
<path d="M463.5,18.8h11" stroke="#333333" stroke-width="0.8"/>
<path d="M467.08,16.88L470.92,20.72M470.92,16.88L467.08,20.72" stroke="#333333" stroke-width="1.0"/>
<text x="475.7" y="20.90" font-size="5.0" fill="#262626" stroke="#262626" stroke-width="0.06" font-style="normal" font-family='"Liberation Sans", sans-serif'>Zn3</text>
<path d="M343,34.3h11" stroke="#8b4513" stroke-width="0.8"/>
<rect x="346.70" y="32.50" width="3.60" height="3.60" fill="#8b4513"/>
<text x="355.2" y="36.40" font-size="5.0" fill="#262626" stroke="#262626" stroke-width="0.06" font-style="normal" font-family='"Liberation Sans", sans-serif'>Zn5</text>
<path d="M382.5,34.3h11" stroke="#7030a0" stroke-width="0.8"/>
<circle cx="388.00" cy="34.30" r="1.56" fill="#7030a0"/>
<text x="394.7" y="36.40" font-size="5.0" fill="#262626" stroke="#262626" stroke-width="0.06" font-style="normal" font-family='"Liberation Sans", sans-serif'>Zn6</text>
<path d="M423.7,34.3h11" stroke="#ff00cc" stroke-width="0.8"/>
<circle cx="429.20" cy="34.30" r="1.56" fill="#ff00cc"/>
<text x="435.9" y="36.40" font-size="5.0" fill="#262626" stroke="#262626" stroke-width="0.06" font-style="normal" font-family='"Liberation Sans", sans-serif'>Zn7</text>
<path d="M463.5,34.3h11" stroke="#ffb000" stroke-width="0.8"/>
<polygon points="469.00,32.50 470.80,35.74 467.20,35.74" fill="#ffb000"/>
<text x="475.7" y="36.40" font-size="5.0" fill="#262626" stroke="#262626" stroke-width="0.06" font-style="normal" font-family='"Liberation Sans", sans-serif'>Zn8</text>
<text x="532.1" y="18.1" font-size="7.9" font-weight="bold" text-anchor="middle" dominant-baseline="central" fill="#111" font-family='"Liberation Sans", sans-serif'>b</text>
<text x="290.8" y="68.8" font-size="5.7" text-anchor="middle" dominant-baseline="central" transform="rotate(-90 290.8 68.8)" fill="#262626" stroke="#262626" stroke-width="0.08" font-weight="normal">Sample/Chondrite</text>
<text x="425.7" y="141.5" font-size="4.6" font-weight="bold" text-anchor="middle" dominant-baseline="central" fill="#262626" stroke="#262626" stroke-width="0.12">REEs</text>
<path d="M6.2,145.6H268.20000000000005M6.2,286.5H268.20000000000005" fill="none" stroke="#e0e0e0" stroke-width="1.5"/>
<path d="M6.8,145.6V286.5M267.6,145.6V286.5" fill="none" stroke="#e6e6e6" stroke-width="1.1"/>
<path d="M34.5,155.5V268" fill="none" stroke="#a0a0a0" stroke-width="1.0"/>
<path d="M34.0,268H265" fill="none" stroke="#6e6e6e" stroke-width="1.1"/>
<path d="M33.0,156.00H34.5" stroke="#8c8c8c" stroke-width="0.6"/>
<text x="28.8" y="157.80" font-size="5.0" text-anchor="end" fill="#3a3a3a" stroke="#3a3a3a" stroke-width="0.0">1.4</text>
<path d="M33.0,172.00H34.5" stroke="#8c8c8c" stroke-width="0.6"/>
<text x="28.8" y="173.80" font-size="5.0" text-anchor="end" fill="#3a3a3a" stroke="#3a3a3a" stroke-width="0.0">1.2</text>
<path d="M33.0,188.00H34.5" stroke="#8c8c8c" stroke-width="0.6"/>
<text x="28.8" y="189.80" font-size="5.0" text-anchor="end" fill="#3a3a3a" stroke="#3a3a3a" stroke-width="0.0">1.0</text>
<path d="M33.0,204.00H34.5" stroke="#8c8c8c" stroke-width="0.6"/>
<text x="28.8" y="205.80" font-size="5.0" text-anchor="end" fill="#3a3a3a" stroke="#3a3a3a" stroke-width="0.0">0.8</text>
<path d="M33.0,220.00H34.5" stroke="#8c8c8c" stroke-width="0.6"/>
<text x="28.8" y="221.80" font-size="5.0" text-anchor="end" fill="#3a3a3a" stroke="#3a3a3a" stroke-width="0.0">0.6</text>
<path d="M33.0,236.00H34.5" stroke="#8c8c8c" stroke-width="0.6"/>
<text x="28.8" y="237.80" font-size="5.0" text-anchor="end" fill="#3a3a3a" stroke="#3a3a3a" stroke-width="0.0">0.4</text>
<path d="M33.0,252.00H34.5" stroke="#8c8c8c" stroke-width="0.6"/>
<text x="28.8" y="253.80" font-size="5.0" text-anchor="end" fill="#3a3a3a" stroke="#3a3a3a" stroke-width="0.0">0.2</text>
<path d="M33.0,268.00H34.5" stroke="#8c8c8c" stroke-width="0.6"/>
<text x="28.8" y="269.80" font-size="5.0" text-anchor="end" fill="#3a3a3a" stroke="#3a3a3a" stroke-width="0.0">0.0</text>
<polyline points="42.00,254.80 58.52,256.72 75.04,255.44 91.56,253.52 108.08,249.84 124.60,240.32 141.12,245.12 157.64,246.40 174.16,246.40 190.68,250.40 207.20,252.00 223.72,253.60 240.24,254.80 256.76,255.20" fill="none" stroke="#2f5f1f" stroke-width="0.8"/>
<rect x="40.20" y="253.00" width="3.60" height="3.60" fill="#2f5f1f"/>
<rect x="56.72" y="254.92" width="3.60" height="3.60" fill="#2f5f1f"/>
<rect x="73.24" y="253.64" width="3.60" height="3.60" fill="#2f5f1f"/>
<rect x="89.76" y="251.72" width="3.60" height="3.60" fill="#2f5f1f"/>
<rect x="106.28" y="248.04" width="3.60" height="3.60" fill="#2f5f1f"/>
<rect x="122.80" y="238.52" width="3.60" height="3.60" fill="#2f5f1f"/>
<rect x="139.32" y="243.32" width="3.60" height="3.60" fill="#2f5f1f"/>
<rect x="155.84" y="244.60" width="3.60" height="3.60" fill="#2f5f1f"/>
<rect x="172.36" y="244.60" width="3.60" height="3.60" fill="#2f5f1f"/>
<rect x="188.88" y="248.60" width="3.60" height="3.60" fill="#2f5f1f"/>
<rect x="205.40" y="250.20" width="3.60" height="3.60" fill="#2f5f1f"/>
<rect x="221.92" y="251.80" width="3.60" height="3.60" fill="#2f5f1f"/>
<rect x="238.44" y="253.00" width="3.60" height="3.60" fill="#2f5f1f"/>
<rect x="254.96" y="253.40" width="3.60" height="3.60" fill="#2f5f1f"/>
<polyline points="42.00,251.20 58.52,252.48 75.04,249.68 91.56,248.64 108.08,243.20 124.60,236.00 141.12,240.32 157.64,245.60 174.16,246.40 190.68,250.40 207.20,252.00 223.72,253.60 240.24,255.20 256.76,255.60" fill="none" stroke="#a67c00" stroke-width="0.8"/>
<polygon points="42.00,249.40 43.80,252.64 40.20,252.64" fill="#a67c00"/>
<polygon points="58.52,250.68 60.32,253.92 56.72,253.92" fill="#a67c00"/>
<polygon points="75.04,247.88 76.84,251.12 73.24,251.12" fill="#a67c00"/>
<polygon points="91.56,246.84 93.36,250.08 89.76,250.08" fill="#a67c00"/>
<polygon points="108.08,241.40 109.88,244.64 106.28,244.64" fill="#a67c00"/>
<polygon points="124.60,234.20 126.40,237.44 122.80,237.44" fill="#a67c00"/>
<polygon points="141.12,238.52 142.92,241.76 139.32,241.76" fill="#a67c00"/>
<polygon points="157.64,243.80 159.44,247.04 155.84,247.04" fill="#a67c00"/>
<polygon points="174.16,244.60 175.96,247.84 172.36,247.84" fill="#a67c00"/>
<polygon points="190.68,248.60 192.48,251.84 188.88,251.84" fill="#a67c00"/>
<polygon points="207.20,250.20 209.00,253.44 205.40,253.44" fill="#a67c00"/>
<polygon points="223.72,251.80 225.52,255.04 221.92,255.04" fill="#a67c00"/>
<polygon points="240.24,253.40 242.04,256.64 238.44,256.64" fill="#a67c00"/>
<polygon points="256.76,253.80 258.56,257.04 254.96,257.04" fill="#a67c00"/>
<polyline points="42.00,249.60 58.52,251.20 75.04,249.60 91.56,248.00 108.08,244.80 124.60,238.08 141.12,240.32 157.64,246.40 174.16,247.20 190.68,250.80 207.20,252.40 223.72,254.40 240.24,255.60 256.76,256.00" fill="none" stroke="#7030a0" stroke-width="0.8"/>
<circle cx="42.00" cy="249.60" r="1.56" fill="#7030a0"/>
<circle cx="58.52" cy="251.20" r="1.56" fill="#7030a0"/>
<circle cx="75.04" cy="249.60" r="1.56" fill="#7030a0"/>
<circle cx="91.56" cy="248.00" r="1.56" fill="#7030a0"/>
<circle cx="108.08" cy="244.80" r="1.56" fill="#7030a0"/>
<circle cx="124.60" cy="238.08" r="1.56" fill="#7030a0"/>
<circle cx="141.12" cy="240.32" r="1.56" fill="#7030a0"/>
<circle cx="157.64" cy="246.40" r="1.56" fill="#7030a0"/>
<circle cx="174.16" cy="247.20" r="1.56" fill="#7030a0"/>
<circle cx="190.68" cy="250.80" r="1.56" fill="#7030a0"/>
<circle cx="207.20" cy="252.40" r="1.56" fill="#7030a0"/>
<circle cx="223.72" cy="254.40" r="1.56" fill="#7030a0"/>
<circle cx="240.24" cy="255.60" r="1.56" fill="#7030a0"/>
<circle cx="256.76" cy="256.00" r="1.56" fill="#7030a0"/>
<polyline points="42.00,248.00 58.52,249.20 75.04,247.20 91.56,245.60 108.08,241.12 124.60,232.00 141.12,237.92 157.64,242.40 174.16,244.00 190.68,247.60 207.20,249.20 223.72,251.60 240.24,253.20 256.76,254.00" fill="none" stroke="#000000" stroke-width="0.8"/>
<polygon points="42.00,246.20 43.80,249.44 40.20,249.44" fill="#000000"/>
<polygon points="58.52,247.40 60.32,250.64 56.72,250.64" fill="#000000"/>
<polygon points="75.04,245.40 76.84,248.64 73.24,248.64" fill="#000000"/>
<polygon points="91.56,243.80 93.36,247.04 89.76,247.04" fill="#000000"/>
<polygon points="108.08,239.32 109.88,242.56 106.28,242.56" fill="#000000"/>
<polygon points="124.60,230.20 126.40,233.44 122.80,233.44" fill="#000000"/>
<polygon points="141.12,236.12 142.92,239.36 139.32,239.36" fill="#000000"/>
<polygon points="157.64,240.60 159.44,243.84 155.84,243.84" fill="#000000"/>
<polygon points="174.16,242.20 175.96,245.44 172.36,245.44" fill="#000000"/>
<polygon points="190.68,245.80 192.48,249.04 188.88,249.04" fill="#000000"/>
<polygon points="207.20,247.40 209.00,250.64 205.40,250.64" fill="#000000"/>
<polygon points="223.72,249.80 225.52,253.04 221.92,253.04" fill="#000000"/>
<polygon points="240.24,251.40 242.04,254.64 238.44,254.64" fill="#000000"/>
<polygon points="256.76,252.20 258.56,255.44 254.96,255.44" fill="#000000"/>
<polyline points="42.00,248.00 58.52,248.80 75.04,247.20 91.56,245.60 108.08,239.20 124.60,228.00 141.12,230.40 157.64,232.00 174.16,234.40 190.68,238.40 207.20,238.80 223.72,241.60 240.24,244.00 256.76,245.20" fill="none" stroke="#262626" stroke-width="0.8"/>
<polygon points="42.00,246.20 43.80,249.44 40.20,249.44" fill="#fff" stroke="#262626" stroke-width="0.6"/>
<polygon points="58.52,247.00 60.32,250.24 56.72,250.24" fill="#fff" stroke="#262626" stroke-width="0.6"/>
<polygon points="75.04,245.40 76.84,248.64 73.24,248.64" fill="#fff" stroke="#262626" stroke-width="0.6"/>
<polygon points="91.56,243.80 93.36,247.04 89.76,247.04" fill="#fff" stroke="#262626" stroke-width="0.6"/>
<polygon points="108.08,237.40 109.88,240.64 106.28,240.64" fill="#fff" stroke="#262626" stroke-width="0.6"/>
<polygon points="124.60,226.20 126.40,229.44 122.80,229.44" fill="#fff" stroke="#262626" stroke-width="0.6"/>
<polygon points="141.12,228.60 142.92,231.84 139.32,231.84" fill="#fff" stroke="#262626" stroke-width="0.6"/>
<polygon points="157.64,230.20 159.44,233.44 155.84,233.44" fill="#fff" stroke="#262626" stroke-width="0.6"/>
<polygon points="174.16,232.60 175.96,235.84 172.36,235.84" fill="#fff" stroke="#262626" stroke-width="0.6"/>
<polygon points="190.68,236.60 192.48,239.84 188.88,239.84" fill="#fff" stroke="#262626" stroke-width="0.6"/>
<polygon points="207.20,237.00 209.00,240.24 205.40,240.24" fill="#fff" stroke="#262626" stroke-width="0.6"/>
<polygon points="223.72,239.80 225.52,243.04 221.92,243.04" fill="#fff" stroke="#262626" stroke-width="0.6"/>
<polygon points="240.24,242.20 242.04,245.44 238.44,245.44" fill="#fff" stroke="#262626" stroke-width="0.6"/>
<polygon points="256.76,243.40 258.56,246.64 254.96,246.64" fill="#fff" stroke="#262626" stroke-width="0.6"/>
<polyline points="42.00,238.80 58.52,240.48 75.04,239.20 91.56,238.24 108.08,234.40 124.60,228.56 141.12,231.12 157.64,237.84 174.16,240.40 190.68,245.60 207.20,247.20 223.72,250.00 240.24,252.40 256.76,252.80" fill="none" stroke="#00ee00" stroke-width="0.8"/>
<rect x="40.56" y="237.36" width="2.88" height="2.88" fill="#00ee00"/>
<rect x="57.08" y="239.04" width="2.88" height="2.88" fill="#00ee00"/>
<rect x="73.60" y="237.76" width="2.88" height="2.88" fill="#00ee00"/>
<rect x="90.12" y="236.80" width="2.88" height="2.88" fill="#00ee00"/>
<rect x="106.64" y="232.96" width="2.88" height="2.88" fill="#00ee00"/>
<rect x="123.16" y="227.12" width="2.88" height="2.88" fill="#00ee00"/>
<rect x="139.68" y="229.68" width="2.88" height="2.88" fill="#00ee00"/>
<rect x="156.20" y="236.40" width="2.88" height="2.88" fill="#00ee00"/>
<rect x="172.72" y="238.96" width="2.88" height="2.88" fill="#00ee00"/>
<rect x="189.24" y="244.16" width="2.88" height="2.88" fill="#00ee00"/>
<rect x="205.76" y="245.76" width="2.88" height="2.88" fill="#00ee00"/>
<rect x="222.28" y="248.56" width="2.88" height="2.88" fill="#00ee00"/>
<rect x="238.80" y="250.96" width="2.88" height="2.88" fill="#00ee00"/>
<rect x="255.32" y="251.36" width="2.88" height="2.88" fill="#00ee00"/>
<polyline points="42.00,242.40 58.52,244.80 75.04,241.84 91.56,239.92 108.08,232.80 124.60,224.08 141.12,229.12 157.64,236.00 174.16,238.00 190.68,244.00 207.20,245.60 223.72,248.40 240.24,250.40 256.76,251.20" fill="none" stroke="#ff00cc" stroke-width="0.8"/>
<rect x="40.56" y="240.96" width="2.88" height="2.88" fill="#ff00cc"/>
<rect x="57.08" y="243.36" width="2.88" height="2.88" fill="#ff00cc"/>
<rect x="73.60" y="240.40" width="2.88" height="2.88" fill="#ff00cc"/>
<rect x="90.12" y="238.48" width="2.88" height="2.88" fill="#ff00cc"/>
<rect x="106.64" y="231.36" width="2.88" height="2.88" fill="#ff00cc"/>
<rect x="123.16" y="222.64" width="2.88" height="2.88" fill="#ff00cc"/>
<rect x="139.68" y="227.68" width="2.88" height="2.88" fill="#ff00cc"/>
<rect x="156.20" y="234.56" width="2.88" height="2.88" fill="#ff00cc"/>
<rect x="172.72" y="236.56" width="2.88" height="2.88" fill="#ff00cc"/>
<rect x="189.24" y="242.56" width="2.88" height="2.88" fill="#ff00cc"/>
<rect x="205.76" y="244.16" width="2.88" height="2.88" fill="#ff00cc"/>
<rect x="222.28" y="246.96" width="2.88" height="2.88" fill="#ff00cc"/>
<rect x="238.80" y="248.96" width="2.88" height="2.88" fill="#ff00cc"/>
<rect x="255.32" y="249.76" width="2.88" height="2.88" fill="#ff00cc"/>
<polyline points="42.00,240.00 58.52,241.60 75.04,238.80 91.56,237.20 108.08,230.08 124.60,220.56 141.12,225.68 157.64,234.32 174.16,236.00 190.68,241.60 207.20,244.00 223.72,247.20 240.24,249.20 256.76,250.40" fill="none" stroke="#ff6f6f" stroke-width="0.8"/>
<path d="M40.32,240.00L43.68,240.00M42.00,238.32L42.00,241.68" stroke="#ff6f6f" stroke-width="0.8"/>
<path d="M56.84,241.60L60.20,241.60M58.52,239.92L58.52,243.28" stroke="#ff6f6f" stroke-width="0.8"/>
<path d="M73.36,238.80L76.72,238.80M75.04,237.12L75.04,240.48" stroke="#ff6f6f" stroke-width="0.8"/>
<path d="M89.88,237.20L93.24,237.20M91.56,235.52L91.56,238.88" stroke="#ff6f6f" stroke-width="0.8"/>
<path d="M106.40,230.08L109.76,230.08M108.08,228.40L108.08,231.76" stroke="#ff6f6f" stroke-width="0.8"/>
<path d="M122.92,220.56L126.28,220.56M124.60,218.88L124.60,222.24" stroke="#ff6f6f" stroke-width="0.8"/>
<path d="M139.44,225.68L142.80,225.68M141.12,224.00L141.12,227.36" stroke="#ff6f6f" stroke-width="0.8"/>
<path d="M155.96,234.32L159.32,234.32M157.64,232.64L157.64,236.00" stroke="#ff6f6f" stroke-width="0.8"/>
<path d="M172.48,236.00L175.84,236.00M174.16,234.32L174.16,237.68" stroke="#ff6f6f" stroke-width="0.8"/>
<path d="M189.00,241.60L192.36,241.60M190.68,239.92L190.68,243.28" stroke="#ff6f6f" stroke-width="0.8"/>
<path d="M205.52,244.00L208.88,244.00M207.20,242.32L207.20,245.68" stroke="#ff6f6f" stroke-width="0.8"/>
<path d="M222.04,247.20L225.40,247.20M223.72,245.52L223.72,248.88" stroke="#ff6f6f" stroke-width="0.8"/>
<path d="M238.56,249.20L241.92,249.20M240.24,247.52L240.24,250.88" stroke="#ff6f6f" stroke-width="0.8"/>
<path d="M255.08,250.40L258.44,250.40M256.76,248.72L256.76,252.08" stroke="#ff6f6f" stroke-width="0.8"/>
<polyline points="42.00,247.20 58.52,248.64 75.04,246.48 91.56,244.32 108.08,236.00 124.60,218.00 141.12,223.20 157.64,228.32 174.16,228.32 190.68,233.60 207.20,234.80 223.72,237.60 240.24,240.00 256.76,240.80" fill="none" stroke="#262626" stroke-width="0.8"/>
<path d="M40.08,245.28L43.92,249.12M43.92,245.28L40.08,249.12" stroke="#262626" stroke-width="1.0"/>
<path d="M56.60,246.72L60.44,250.56M60.44,246.72L56.60,250.56" stroke="#262626" stroke-width="1.0"/>
<path d="M73.12,244.56L76.96,248.40M76.96,244.56L73.12,248.40" stroke="#262626" stroke-width="1.0"/>
<path d="M89.64,242.40L93.48,246.24M93.48,242.40L89.64,246.24" stroke="#262626" stroke-width="1.0"/>
<path d="M106.16,234.08L110.00,237.92M110.00,234.08L106.16,237.92" stroke="#262626" stroke-width="1.0"/>
<path d="M122.68,216.08L126.52,219.92M126.52,216.08L122.68,219.92" stroke="#262626" stroke-width="1.0"/>
<path d="M139.20,221.28L143.04,225.12M143.04,221.28L139.20,225.12" stroke="#262626" stroke-width="1.0"/>
<path d="M155.72,226.40L159.56,230.24M159.56,226.40L155.72,230.24" stroke="#262626" stroke-width="1.0"/>
<path d="M172.24,226.40L176.08,230.24M176.08,226.40L172.24,230.24" stroke="#262626" stroke-width="1.0"/>
<path d="M188.76,231.68L192.60,235.52M192.60,231.68L188.76,235.52" stroke="#262626" stroke-width="1.0"/>
<path d="M205.28,232.88L209.12,236.72M209.12,232.88L205.28,236.72" stroke="#262626" stroke-width="1.0"/>
<path d="M221.80,235.68L225.64,239.52M225.64,235.68L221.80,239.52" stroke="#262626" stroke-width="1.0"/>
<path d="M238.32,238.08L242.16,241.92M242.16,238.08L238.32,241.92" stroke="#262626" stroke-width="1.0"/>
<path d="M254.84,238.88L258.68,242.72M258.68,238.88L254.84,242.72" stroke="#262626" stroke-width="1.0"/>
<polyline points="42.00,232.00 58.52,237.84 75.04,233.60 91.56,231.84 108.08,225.28 124.60,216.48 141.12,218.72 157.64,228.00 174.16,228.80 190.68,234.40 207.20,236.80 223.72,239.20 240.24,242.40 256.76,243.20" fill="none" stroke="#3a76b0" stroke-width="0.8"/>
<polygon points="42.00,230.20 43.80,232.00 42.00,233.80 40.20,232.00" fill="#3a76b0"/>
<polygon points="58.52,236.04 60.32,237.84 58.52,239.64 56.72,237.84" fill="#3a76b0"/>
<polygon points="75.04,231.80 76.84,233.60 75.04,235.40 73.24,233.60" fill="#3a76b0"/>
<polygon points="91.56,230.04 93.36,231.84 91.56,233.64 89.76,231.84" fill="#3a76b0"/>
<polygon points="108.08,223.48 109.88,225.28 108.08,227.08 106.28,225.28" fill="#3a76b0"/>
<polygon points="124.60,214.68 126.40,216.48 124.60,218.28 122.80,216.48" fill="#3a76b0"/>
<polygon points="141.12,216.92 142.92,218.72 141.12,220.52 139.32,218.72" fill="#3a76b0"/>
<polygon points="157.64,226.20 159.44,228.00 157.64,229.80 155.84,228.00" fill="#3a76b0"/>
<polygon points="174.16,227.00 175.96,228.80 174.16,230.60 172.36,228.80" fill="#3a76b0"/>
<polygon points="190.68,232.60 192.48,234.40 190.68,236.20 188.88,234.40" fill="#3a76b0"/>
<polygon points="207.20,235.00 209.00,236.80 207.20,238.60 205.40,236.80" fill="#3a76b0"/>
<polygon points="223.72,237.40 225.52,239.20 223.72,241.00 221.92,239.20" fill="#3a76b0"/>
<polygon points="240.24,240.60 242.04,242.40 240.24,244.20 238.44,242.40" fill="#3a76b0"/>
<polygon points="256.76,241.40 258.56,243.20 256.76,245.00 254.96,243.20" fill="#3a76b0"/>
<polyline points="42.00,234.40 58.52,228.24 75.04,231.84 91.56,229.28 108.08,221.20 124.60,211.20 141.12,217.04 157.64,225.68 174.16,228.40 190.68,236.00 207.20,238.40 223.72,242.40 240.24,244.80 256.76,246.00" fill="none" stroke="#c00000" stroke-width="0.8"/>
<polygon points="42.00,232.60 43.80,234.40 42.00,236.20 40.20,234.40" fill="#c00000"/>
<polygon points="58.52,226.44 60.32,228.24 58.52,230.04 56.72,228.24" fill="#c00000"/>
<polygon points="75.04,230.04 76.84,231.84 75.04,233.64 73.24,231.84" fill="#c00000"/>
<polygon points="91.56,227.48 93.36,229.28 91.56,231.08 89.76,229.28" fill="#c00000"/>
<polygon points="108.08,219.40 109.88,221.20 108.08,223.00 106.28,221.20" fill="#c00000"/>
<polygon points="124.60,209.40 126.40,211.20 124.60,213.00 122.80,211.20" fill="#c00000"/>
<polygon points="141.12,215.24 142.92,217.04 141.12,218.84 139.32,217.04" fill="#c00000"/>
<polygon points="157.64,223.88 159.44,225.68 157.64,227.48 155.84,225.68" fill="#c00000"/>
<polygon points="174.16,226.60 175.96,228.40 174.16,230.20 172.36,228.40" fill="#c00000"/>
<polygon points="190.68,234.20 192.48,236.00 190.68,237.80 188.88,236.00" fill="#c00000"/>
<polygon points="207.20,236.60 209.00,238.40 207.20,240.20 205.40,238.40" fill="#c00000"/>
<polygon points="223.72,240.60 225.52,242.40 223.72,244.20 221.92,242.40" fill="#c00000"/>
<polygon points="240.24,243.00 242.04,244.80 240.24,246.60 238.44,244.80" fill="#c00000"/>
<polygon points="256.76,244.20 258.56,246.00 256.76,247.80 254.96,246.00" fill="#c00000"/>
<polyline points="42.00,229.60 58.52,224.48 75.04,228.40 91.56,227.44 108.08,221.20 124.60,213.20 141.12,217.60 157.64,226.40 174.16,228.80 190.68,236.00 207.20,238.40 223.72,242.40 240.24,245.20 256.76,246.40" fill="none" stroke="#ffc000" stroke-width="0.8"/>
<polygon points="42.00,227.80 43.80,231.04 40.20,231.04" fill="#ffc000"/>
<polygon points="58.52,222.68 60.32,225.92 56.72,225.92" fill="#ffc000"/>
<polygon points="75.04,226.60 76.84,229.84 73.24,229.84" fill="#ffc000"/>
<polygon points="91.56,225.64 93.36,228.88 89.76,228.88" fill="#ffc000"/>
<polygon points="108.08,219.40 109.88,222.64 106.28,222.64" fill="#ffc000"/>
<polygon points="124.60,211.40 126.40,214.64 122.80,214.64" fill="#ffc000"/>
<polygon points="141.12,215.80 142.92,219.04 139.32,219.04" fill="#ffc000"/>
<polygon points="157.64,224.60 159.44,227.84 155.84,227.84" fill="#ffc000"/>
<polygon points="174.16,227.00 175.96,230.24 172.36,230.24" fill="#ffc000"/>
<polygon points="190.68,234.20 192.48,237.44 188.88,237.44" fill="#ffc000"/>
<polygon points="207.20,236.60 209.00,239.84 205.40,239.84" fill="#ffc000"/>
<polygon points="223.72,240.60 225.52,243.84 221.92,243.84" fill="#ffc000"/>
<polygon points="240.24,243.40 242.04,246.64 238.44,246.64" fill="#ffc000"/>
<polygon points="256.76,244.60 258.56,247.84 254.96,247.84" fill="#ffc000"/>
<polyline points="42.00,215.20 58.52,218.08 75.04,222.88 91.56,220.80 108.08,212.00 124.60,204.40 141.12,206.40 157.64,216.08 174.16,217.60 190.68,225.60 207.20,228.00 223.72,232.00 240.24,236.00 256.76,238.40" fill="none" stroke="#ff0000" stroke-width="0.8"/>
<circle cx="42.00" cy="215.20" r="1.56" fill="#ff0000"/>
<circle cx="58.52" cy="218.08" r="1.56" fill="#ff0000"/>
<circle cx="75.04" cy="222.88" r="1.56" fill="#ff0000"/>
<circle cx="91.56" cy="220.80" r="1.56" fill="#ff0000"/>
<circle cx="108.08" cy="212.00" r="1.56" fill="#ff0000"/>
<circle cx="124.60" cy="204.40" r="1.56" fill="#ff0000"/>
<circle cx="141.12" cy="206.40" r="1.56" fill="#ff0000"/>
<circle cx="157.64" cy="216.08" r="1.56" fill="#ff0000"/>
<circle cx="174.16" cy="217.60" r="1.56" fill="#ff0000"/>
<circle cx="190.68" cy="225.60" r="1.56" fill="#ff0000"/>
<circle cx="207.20" cy="228.00" r="1.56" fill="#ff0000"/>
<circle cx="223.72" cy="232.00" r="1.56" fill="#ff0000"/>
<circle cx="240.24" cy="236.00" r="1.56" fill="#ff0000"/>
<circle cx="256.76" cy="238.40" r="1.56" fill="#ff0000"/>
<polyline points="42.00,202.40 58.52,205.60 75.04,212.80 91.56,210.00 108.08,200.40 124.60,192.00 141.12,195.20 157.64,208.00 174.16,210.40 190.68,220.00 207.20,222.80 223.72,227.20 240.24,230.80 256.76,232.80" fill="none" stroke="#8b4513" stroke-width="0.8"/>
<rect x="40.20" y="200.60" width="3.60" height="3.60" fill="#8b4513"/>
<rect x="56.72" y="203.80" width="3.60" height="3.60" fill="#8b4513"/>
<rect x="73.24" y="211.00" width="3.60" height="3.60" fill="#8b4513"/>
<rect x="89.76" y="208.20" width="3.60" height="3.60" fill="#8b4513"/>
<rect x="106.28" y="198.60" width="3.60" height="3.60" fill="#8b4513"/>
<rect x="122.80" y="190.20" width="3.60" height="3.60" fill="#8b4513"/>
<rect x="139.32" y="193.40" width="3.60" height="3.60" fill="#8b4513"/>
<rect x="155.84" y="206.20" width="3.60" height="3.60" fill="#8b4513"/>
<rect x="172.36" y="208.60" width="3.60" height="3.60" fill="#8b4513"/>
<rect x="188.88" y="218.20" width="3.60" height="3.60" fill="#8b4513"/>
<rect x="205.40" y="221.00" width="3.60" height="3.60" fill="#8b4513"/>
<rect x="221.92" y="225.40" width="3.60" height="3.60" fill="#8b4513"/>
<rect x="238.44" y="229.00" width="3.60" height="3.60" fill="#8b4513"/>
<rect x="254.96" y="231.00" width="3.60" height="3.60" fill="#8b4513"/>
<polyline points="42.00,167.20 58.52,172.00 75.04,184.40 91.56,182.40 108.08,172.00 124.60,176.00 141.12,168.00 157.64,186.40 174.16,190.80 190.68,203.20 207.20,206.40 223.72,212.40 240.24,217.60 256.76,222.40" fill="none" stroke="#0000ff" stroke-width="0.8"/>
<polygon points="42.00,165.40 43.80,167.20 42.00,169.00 40.20,167.20" fill="#0000ff"/>
<polygon points="58.52,170.20 60.32,172.00 58.52,173.80 56.72,172.00" fill="#0000ff"/>
<polygon points="75.04,182.60 76.84,184.40 75.04,186.20 73.24,184.40" fill="#0000ff"/>
<polygon points="91.56,180.60 93.36,182.40 91.56,184.20 89.76,182.40" fill="#0000ff"/>
<polygon points="108.08,170.20 109.88,172.00 108.08,173.80 106.28,172.00" fill="#0000ff"/>
<polygon points="124.60,174.20 126.40,176.00 124.60,177.80 122.80,176.00" fill="#0000ff"/>
<polygon points="141.12,166.20 142.92,168.00 141.12,169.80 139.32,168.00" fill="#0000ff"/>
<polygon points="157.64,184.60 159.44,186.40 157.64,188.20 155.84,186.40" fill="#0000ff"/>
<polygon points="174.16,189.00 175.96,190.80 174.16,192.60 172.36,190.80" fill="#0000ff"/>
<polygon points="190.68,201.40 192.48,203.20 190.68,205.00 188.88,203.20" fill="#0000ff"/>
<polygon points="207.20,204.60 209.00,206.40 207.20,208.20 205.40,206.40" fill="#0000ff"/>
<polygon points="223.72,210.60 225.52,212.40 223.72,214.20 221.92,212.40" fill="#0000ff"/>
<polygon points="240.24,215.80 242.04,217.60 240.24,219.40 238.44,217.60" fill="#0000ff"/>
<polygon points="256.76,220.60 258.56,222.40 256.76,224.20 254.96,222.40" fill="#0000ff"/>
<text x="44.00" y="275.50" font-size="5.2" text-anchor="middle" dominant-baseline="central" transform="rotate(45 44.00 275.50)" fill="#262626" stroke="#262626" stroke-width="0.25">La</text>
<text x="60.52" y="275.50" font-size="5.2" text-anchor="middle" dominant-baseline="central" transform="rotate(45 60.52 275.50)" fill="#262626" stroke="#262626" stroke-width="0.25">Ce</text>
<text x="77.04" y="275.50" font-size="5.2" text-anchor="middle" dominant-baseline="central" transform="rotate(45 77.04 275.50)" fill="#262626" stroke="#262626" stroke-width="0.25">Pr</text>
<text x="93.56" y="275.50" font-size="5.2" text-anchor="middle" dominant-baseline="central" transform="rotate(45 93.56 275.50)" fill="#262626" stroke="#262626" stroke-width="0.25">Nd</text>
<text x="110.08" y="275.50" font-size="5.2" text-anchor="middle" dominant-baseline="central" transform="rotate(45 110.08 275.50)" fill="#262626" stroke="#262626" stroke-width="0.25">Sm</text>
<text x="126.60" y="275.50" font-size="5.2" text-anchor="middle" dominant-baseline="central" transform="rotate(45 126.60 275.50)" fill="#262626" stroke="#262626" stroke-width="0.25">Eu</text>
<text x="143.12" y="275.50" font-size="5.2" text-anchor="middle" dominant-baseline="central" transform="rotate(45 143.12 275.50)" fill="#262626" stroke="#262626" stroke-width="0.25">Gd</text>
<text x="159.64" y="275.50" font-size="5.2" text-anchor="middle" dominant-baseline="central" transform="rotate(45 159.64 275.50)" fill="#262626" stroke="#262626" stroke-width="0.25">Tb</text>
<text x="176.16" y="275.50" font-size="5.2" text-anchor="middle" dominant-baseline="central" transform="rotate(45 176.16 275.50)" fill="#262626" stroke="#262626" stroke-width="0.25">Dy</text>
<text x="192.68" y="275.50" font-size="5.2" text-anchor="middle" dominant-baseline="central" transform="rotate(45 192.68 275.50)" fill="#262626" stroke="#262626" stroke-width="0.25">Ho</text>
<text x="209.20" y="275.50" font-size="5.2" text-anchor="middle" dominant-baseline="central" transform="rotate(45 209.20 275.50)" fill="#262626" stroke="#262626" stroke-width="0.25">Er</text>
<text x="225.72" y="275.50" font-size="5.2" text-anchor="middle" dominant-baseline="central" transform="rotate(45 225.72 275.50)" fill="#262626" stroke="#262626" stroke-width="0.25">Tm</text>
<text x="242.24" y="275.50" font-size="5.2" text-anchor="middle" dominant-baseline="central" transform="rotate(45 242.24 275.50)" fill="#262626" stroke="#262626" stroke-width="0.25">Yb</text>
<text x="258.76" y="275.50" font-size="5.2" text-anchor="middle" dominant-baseline="central" transform="rotate(45 258.76 275.50)" fill="#262626" stroke="#262626" stroke-width="0.25">Lu</text>
<path d="M59,151.6h11" stroke="#ff0000" stroke-width="0.8"/>
<circle cx="64.50" cy="151.60" r="1.56" fill="#ff0000"/>
<text x="71.2" y="153.49" font-size="4.5" fill="#262626" stroke="#262626" stroke-width="0.06" font-style="normal" font-family='"Liberation Sans", sans-serif'>Sbx1</text>
<path d="M102,151.6h11" stroke="#0000ff" stroke-width="0.8"/>
<polygon points="107.50,149.80 109.30,151.60 107.50,153.40 105.70,151.60" fill="#0000ff"/>
<text x="114.2" y="153.49" font-size="4.5" fill="#262626" stroke="#262626" stroke-width="0.06" font-style="normal" font-family='"Liberation Sans", sans-serif'>Sbx2</text>
<path d="M144,151.6h11" stroke="#262626" stroke-width="0.8"/>
<polygon points="149.50,149.80 151.30,153.04 147.70,153.04" fill="#fff" stroke="#262626" stroke-width="0.6"/>
<text x="156.2" y="153.49" font-size="4.5" fill="#262626" stroke="#262626" stroke-width="0.06" font-style="normal" font-family='"Liberation Sans", sans-serif'>Sbx4</text>
<path d="M187,151.6h11" stroke="#262626" stroke-width="0.8"/>
<path d="M190.58,149.68L194.42,153.52M194.42,149.68L190.58,153.52" stroke="#262626" stroke-width="1.0"/>
<text x="199.2" y="153.49" font-size="4.5" fill="#262626" stroke="#262626" stroke-width="0.06" font-style="normal" font-family='"Liberation Sans", sans-serif'>Sbx3</text>
<path d="M229,151.6h11" stroke="#8b4513" stroke-width="0.8"/>
<rect x="232.70" y="149.80" width="3.60" height="3.60" fill="#8b4513"/>
<text x="241.2" y="153.49" font-size="4.5" fill="#262626" stroke="#262626" stroke-width="0.06" font-style="normal" font-family='"Liberation Sans", sans-serif'>Sbx5</text>
<path d="M59,160h11" stroke="#ffc000" stroke-width="0.8"/>
<polygon points="64.50,158.20 66.30,161.44 62.70,161.44" fill="#ffc000"/>
<text x="71.2" y="161.89" font-size="4.5" fill="#262626" stroke="#262626" stroke-width="0.06" font-style="normal" font-family='"Liberation Sans", sans-serif'>Sbx6</text>
<path d="M102,160h11" stroke="#3a76b0" stroke-width="0.8"/>
<polygon points="107.50,158.20 109.30,160.00 107.50,161.80 105.70,160.00" fill="#3a76b0"/>
<text x="114.2" y="161.89" font-size="4.5" fill="#262626" stroke="#262626" stroke-width="0.06" font-style="normal" font-family='"Liberation Sans", sans-serif'>Sbx7</text>
<path d="M144,160h11" stroke="#00ee00" stroke-width="0.8"/>
<rect x="148.06" y="158.56" width="2.88" height="2.88" fill="#00ee00"/>
<text x="156.2" y="161.89" font-size="4.5" fill="#262626" stroke="#262626" stroke-width="0.06" font-style="normal" font-family='"Liberation Sans", sans-serif'>Sbx8</text>
<path d="M187,160h11" stroke="#000000" stroke-width="0.8"/>
<polygon points="192.50,158.20 194.30,161.44 190.70,161.44" fill="#000000"/>
<text x="199.2" y="161.89" font-size="4.5" fill="#262626" stroke="#262626" stroke-width="0.06" font-style="normal" font-family='"Liberation Sans", sans-serif'>Sbx9</text>
<path d="M229,160h11" stroke="#2f5f1f" stroke-width="0.8"/>
<rect x="232.70" y="158.20" width="3.60" height="3.60" fill="#2f5f1f"/>
<text x="241.2" y="161.89" font-size="4.5" fill="#262626" stroke="#262626" stroke-width="0.06" font-style="normal" font-family='"Liberation Sans", sans-serif'>Sbx10</text>
<path d="M59,168.4h11" stroke="#7030a0" stroke-width="0.8"/>
<circle cx="64.50" cy="168.40" r="1.56" fill="#7030a0"/>
<text x="71.2" y="170.29" font-size="4.5" fill="#262626" stroke="#262626" stroke-width="0.06" font-style="normal" font-family='"Liberation Sans", sans-serif'>Sbx11</text>
<path d="M102,168.4h11" stroke="#c00000" stroke-width="0.8"/>
<polygon points="107.50,166.60 109.30,168.40 107.50,170.20 105.70,168.40" fill="#c00000"/>
<text x="114.2" y="170.29" font-size="4.5" fill="#262626" stroke="#262626" stroke-width="0.06" font-style="normal" font-family='"Liberation Sans", sans-serif'>Sbx12</text>
<path d="M144,168.4h11" stroke="#ff6f6f" stroke-width="0.8"/>
<path d="M147.82,168.40L151.18,168.40M149.50,166.72L149.50,170.08" stroke="#ff6f6f" stroke-width="0.8"/>
<text x="156.2" y="170.29" font-size="4.5" fill="#262626" stroke="#262626" stroke-width="0.06" font-style="normal" font-family='"Liberation Sans", sans-serif'>Sbx13</text>
<path d="M187,168.4h11" stroke="#a67c00" stroke-width="0.8"/>
<polygon points="192.50,166.60 194.30,169.84 190.70,169.84" fill="#a67c00"/>
<text x="199.2" y="170.29" font-size="4.5" fill="#262626" stroke="#262626" stroke-width="0.06" font-style="normal" font-family='"Liberation Sans", sans-serif'>Sbx14</text>
<path d="M229,168.4h11" stroke="#ff00cc" stroke-width="0.8"/>
<rect x="233.06" y="166.96" width="2.88" height="2.88" fill="#ff00cc"/>
<text x="241.2" y="170.29" font-size="4.5" fill="#262626" stroke="#262626" stroke-width="0.06" font-style="normal" font-family='"Liberation Sans", sans-serif'>Sbx15</text>
<text x="258" y="156.4" font-size="7.9" font-weight="bold" text-anchor="middle" dominant-baseline="central" fill="#111" font-family='"Liberation Sans", sans-serif'>c</text>
<text x="17.6" y="212.3" font-size="4.7" text-anchor="middle" dominant-baseline="central" transform="rotate(-90 17.6 212.3)" fill="#262626" stroke="#262626" stroke-width="0.08" font-weight="normal">Sample/UCC</text>
<text x="149.3" y="282.2" font-size="4.6" font-weight="bold" text-anchor="middle" dominant-baseline="central" fill="#262626" stroke="#262626" stroke-width="0.12">REEs</text>
<path d="M282.29999999999995,145.6H543.6M282.29999999999995,286.6H543.6" fill="none" stroke="#e0e0e0" stroke-width="1.5"/>
<path d="M282.9,145.6V286.6M543,145.6V286.6" fill="none" stroke="#e6e6e6" stroke-width="1.1"/>
<path d="M307.4,155.5V259.3" fill="none" stroke="#a0a0a0" stroke-width="1.0"/>
<path d="M306.9,259.3H537" fill="none" stroke="#6e6e6e" stroke-width="1.1"/>
<path d="M305.9,156.00H307.4" stroke="#8c8c8c" stroke-width="0.6"/>
<text x="301.8" y="158.60" font-size="5.0" text-anchor="end" fill="#3a3a3a" stroke="#3a3a3a" stroke-width="0.0">1.2</text>
<path d="M305.9,173.22H307.4" stroke="#8c8c8c" stroke-width="0.6"/>
<text x="301.8" y="175.82" font-size="5.0" text-anchor="end" fill="#3a3a3a" stroke="#3a3a3a" stroke-width="0.0">1.0</text>
<path d="M305.9,190.43H307.4" stroke="#8c8c8c" stroke-width="0.6"/>
<text x="301.8" y="193.03" font-size="5.0" text-anchor="end" fill="#3a3a3a" stroke="#3a3a3a" stroke-width="0.0">0.8</text>
<path d="M305.9,207.65H307.4" stroke="#8c8c8c" stroke-width="0.6"/>
<text x="301.8" y="210.25" font-size="5.0" text-anchor="end" fill="#3a3a3a" stroke="#3a3a3a" stroke-width="0.0">0.6</text>
<path d="M305.9,224.87H307.4" stroke="#8c8c8c" stroke-width="0.6"/>
<text x="301.8" y="227.47" font-size="5.0" text-anchor="end" fill="#3a3a3a" stroke="#3a3a3a" stroke-width="0.0">0.4</text>
<path d="M305.9,242.08H307.4" stroke="#8c8c8c" stroke-width="0.6"/>
<text x="301.8" y="244.68" font-size="5.0" text-anchor="end" fill="#3a3a3a" stroke="#3a3a3a" stroke-width="0.0">0.2</text>
<path d="M305.9,259.30H307.4" stroke="#8c8c8c" stroke-width="0.6"/>
<text x="301.8" y="261.90" font-size="5.0" text-anchor="end" fill="#3a3a3a" stroke="#3a3a3a" stroke-width="0.0">0.0</text>
<polyline points="315.60,244.84 332.03,246.82 348.46,245.78 364.89,244.15 381.32,241.22 397.75,234.94 414.18,236.92 430.61,239.85 447.04,239.85 463.47,242.26 479.90,243.46 496.33,244.67 512.76,246.22 529.19,246.22" fill="none" stroke="#8b4513" stroke-width="0.8"/>
<rect x="313.80" y="243.04" width="3.60" height="3.60" fill="#8b4513"/>
<rect x="330.23" y="245.02" width="3.60" height="3.60" fill="#8b4513"/>
<rect x="346.66" y="243.98" width="3.60" height="3.60" fill="#8b4513"/>
<rect x="363.09" y="242.35" width="3.60" height="3.60" fill="#8b4513"/>
<rect x="379.52" y="239.42" width="3.60" height="3.60" fill="#8b4513"/>
<rect x="395.95" y="233.14" width="3.60" height="3.60" fill="#8b4513"/>
<rect x="412.38" y="235.12" width="3.60" height="3.60" fill="#8b4513"/>
<rect x="428.81" y="238.05" width="3.60" height="3.60" fill="#8b4513"/>
<rect x="445.24" y="238.05" width="3.60" height="3.60" fill="#8b4513"/>
<rect x="461.67" y="240.46" width="3.60" height="3.60" fill="#8b4513"/>
<rect x="478.10" y="241.66" width="3.60" height="3.60" fill="#8b4513"/>
<rect x="494.53" y="242.87" width="3.60" height="3.60" fill="#8b4513"/>
<rect x="510.96" y="244.42" width="3.60" height="3.60" fill="#8b4513"/>
<rect x="527.39" y="244.42" width="3.60" height="3.60" fill="#8b4513"/>
<polyline points="315.60,233.22 332.03,235.20 348.46,232.01 364.89,229.86 381.32,222.54 397.75,214.79 414.18,218.75 430.61,226.33 447.04,227.36 463.47,232.79 479.90,235.20 496.33,237.61 512.76,239.76 529.19,240.53" fill="none" stroke="#ff00cc" stroke-width="0.8"/>
<circle cx="315.60" cy="233.22" r="1.56" fill="#ff00cc"/>
<circle cx="332.03" cy="235.20" r="1.56" fill="#ff00cc"/>
<circle cx="348.46" cy="232.01" r="1.56" fill="#ff00cc"/>
<circle cx="364.89" cy="229.86" r="1.56" fill="#ff00cc"/>
<circle cx="381.32" cy="222.54" r="1.56" fill="#ff00cc"/>
<circle cx="397.75" cy="214.79" r="1.56" fill="#ff00cc"/>
<circle cx="414.18" cy="218.75" r="1.56" fill="#ff00cc"/>
<circle cx="430.61" cy="226.33" r="1.56" fill="#ff00cc"/>
<circle cx="447.04" cy="227.36" r="1.56" fill="#ff00cc"/>
<circle cx="463.47" cy="232.79" r="1.56" fill="#ff00cc"/>
<circle cx="479.90" cy="235.20" r="1.56" fill="#ff00cc"/>
<circle cx="496.33" cy="237.61" r="1.56" fill="#ff00cc"/>
<circle cx="512.76" cy="239.76" r="1.56" fill="#ff00cc"/>
<circle cx="529.19" cy="240.53" r="1.56" fill="#ff00cc"/>
<polyline points="315.60,228.14 332.03,230.12 348.46,227.97 364.89,226.67 381.32,221.17 397.75,218.32 414.18,218.32 430.61,225.38 447.04,225.99 463.47,230.89 479.90,231.93 496.33,234.51 512.76,236.40 529.19,237.35" fill="none" stroke="#0000ff" stroke-width="0.8"/>
<polygon points="315.60,226.34 317.40,228.14 315.60,229.94 313.80,228.14" fill="#0000ff"/>
<polygon points="332.03,228.32 333.83,230.12 332.03,231.92 330.23,230.12" fill="#0000ff"/>
<polygon points="348.46,226.17 350.26,227.97 348.46,229.77 346.66,227.97" fill="#0000ff"/>
<polygon points="364.89,224.87 366.69,226.67 364.89,228.47 363.09,226.67" fill="#0000ff"/>
<polygon points="381.32,219.37 383.12,221.17 381.32,222.97 379.52,221.17" fill="#0000ff"/>
<polygon points="397.75,216.52 399.55,218.32 397.75,220.12 395.95,218.32" fill="#0000ff"/>
<polygon points="414.18,216.52 415.98,218.32 414.18,220.12 412.38,218.32" fill="#0000ff"/>
<polygon points="430.61,223.58 432.41,225.38 430.61,227.18 428.81,225.38" fill="#0000ff"/>
<polygon points="447.04,224.19 448.84,225.99 447.04,227.79 445.24,225.99" fill="#0000ff"/>
<polygon points="463.47,229.09 465.27,230.89 463.47,232.69 461.67,230.89" fill="#0000ff"/>
<polygon points="479.90,230.13 481.70,231.93 479.90,233.73 478.10,231.93" fill="#0000ff"/>
<polygon points="496.33,232.71 498.13,234.51 496.33,236.31 494.53,234.51" fill="#0000ff"/>
<polygon points="512.76,234.60 514.56,236.40 512.76,238.20 510.96,236.40" fill="#0000ff"/>
<polygon points="529.19,235.55 530.99,237.35 529.19,239.15 527.39,237.35" fill="#0000ff"/>
<polyline points="315.60,226.67 332.03,228.14 348.46,225.21 364.89,222.89 381.32,215.74 397.75,207.82 414.18,213.33 430.61,222.37 447.04,225.99 463.47,230.81 479.90,231.41 496.33,235.20 512.76,236.92 529.19,237.78" fill="none" stroke="#7030a0" stroke-width="0.8"/>
<circle cx="315.60" cy="226.67" r="1.56" fill="#7030a0"/>
<circle cx="332.03" cy="228.14" r="1.56" fill="#7030a0"/>
<circle cx="348.46" cy="225.21" r="1.56" fill="#7030a0"/>
<circle cx="364.89" cy="222.89" r="1.56" fill="#7030a0"/>
<circle cx="381.32" cy="215.74" r="1.56" fill="#7030a0"/>
<circle cx="397.75" cy="207.82" r="1.56" fill="#7030a0"/>
<circle cx="414.18" cy="213.33" r="1.56" fill="#7030a0"/>
<circle cx="430.61" cy="222.37" r="1.56" fill="#7030a0"/>
<circle cx="447.04" cy="225.99" r="1.56" fill="#7030a0"/>
<circle cx="463.47" cy="230.81" r="1.56" fill="#7030a0"/>
<circle cx="479.90" cy="231.41" r="1.56" fill="#7030a0"/>
<circle cx="496.33" cy="235.20" r="1.56" fill="#7030a0"/>
<circle cx="512.76" cy="236.92" r="1.56" fill="#7030a0"/>
<circle cx="529.19" cy="237.78" r="1.56" fill="#7030a0"/>
<polyline points="315.60,223.32 332.03,226.24 348.46,222.11 364.89,218.93 381.32,209.54 397.75,198.27 414.18,204.21 430.61,214.36 447.04,216.77 463.47,224.52 479.90,227.45 496.33,231.50 512.76,234.51 529.19,235.20" fill="none" stroke="#ffb000" stroke-width="0.8"/>
<polygon points="315.60,221.52 317.40,224.76 313.80,224.76" fill="#ffb000"/>
<polygon points="332.03,224.44 333.83,227.68 330.23,227.68" fill="#ffb000"/>
<polygon points="348.46,220.31 350.26,223.55 346.66,223.55" fill="#ffb000"/>
<polygon points="364.89,217.13 366.69,220.37 363.09,220.37" fill="#ffb000"/>
<polygon points="381.32,207.74 383.12,210.98 379.52,210.98" fill="#ffb000"/>
<polygon points="397.75,196.47 399.55,199.71 395.95,199.71" fill="#ffb000"/>
<polygon points="414.18,202.41 415.98,205.65 412.38,205.65" fill="#ffb000"/>
<polygon points="430.61,212.56 432.41,215.80 428.81,215.80" fill="#ffb000"/>
<polygon points="447.04,214.97 448.84,218.21 445.24,218.21" fill="#ffb000"/>
<polygon points="463.47,222.72 465.27,225.96 461.67,225.96" fill="#ffb000"/>
<polygon points="479.90,225.65 481.70,228.89 478.10,228.89" fill="#ffb000"/>
<polygon points="496.33,229.70 498.13,232.94 494.53,232.94" fill="#ffb000"/>
<polygon points="512.76,232.71 514.56,235.95 510.96,235.95" fill="#ffb000"/>
<polygon points="529.19,233.40 530.99,236.64 527.39,236.64" fill="#ffb000"/>
<polyline points="315.60,195.00 332.03,199.04 348.46,207.05 364.89,205.07 381.32,198.87 397.75,198.87 414.18,194.82 430.61,204.90 447.04,204.21 463.47,209.03 479.90,209.37 496.33,211.70 512.76,215.57 529.19,216.77" fill="none" stroke="#ff0000" stroke-width="0.8"/>
<circle cx="315.60" cy="195.00" r="1.56" fill="#ff0000"/>
<circle cx="332.03" cy="199.04" r="1.56" fill="#ff0000"/>
<circle cx="348.46" cy="207.05" r="1.56" fill="#ff0000"/>
<circle cx="364.89" cy="205.07" r="1.56" fill="#ff0000"/>
<circle cx="381.32" cy="198.87" r="1.56" fill="#ff0000"/>
<circle cx="397.75" cy="198.87" r="1.56" fill="#ff0000"/>
<circle cx="414.18" cy="194.82" r="1.56" fill="#ff0000"/>
<circle cx="430.61" cy="204.90" r="1.56" fill="#ff0000"/>
<circle cx="447.04" cy="204.21" r="1.56" fill="#ff0000"/>
<circle cx="463.47" cy="209.03" r="1.56" fill="#ff0000"/>
<circle cx="479.90" cy="209.37" r="1.56" fill="#ff0000"/>
<circle cx="496.33" cy="211.70" r="1.56" fill="#ff0000"/>
<circle cx="512.76" cy="215.57" r="1.56" fill="#ff0000"/>
<circle cx="529.19" cy="216.77" r="1.56" fill="#ff0000"/>
<polyline points="315.60,182.43 332.03,186.65 348.46,196.63 364.89,194.65 381.32,186.56 397.75,185.70 414.18,182.51 430.61,198.27 447.04,202.66 463.47,213.25 479.90,216.43 496.33,222.20 512.76,225.90 529.19,228.74" fill="none" stroke="#333333" stroke-width="0.8"/>
<path d="M313.68,180.51L317.52,184.35M317.52,180.51L313.68,184.35" stroke="#333333" stroke-width="1.0"/>
<path d="M330.11,184.73L333.95,188.57M333.95,184.73L330.11,188.57" stroke="#333333" stroke-width="1.0"/>
<path d="M346.54,194.71L350.38,198.55M350.38,194.71L346.54,198.55" stroke="#333333" stroke-width="1.0"/>
<path d="M362.97,192.73L366.81,196.57M366.81,192.73L362.97,196.57" stroke="#333333" stroke-width="1.0"/>
<path d="M379.40,184.64L383.24,188.48M383.24,184.64L379.40,188.48" stroke="#333333" stroke-width="1.0"/>
<path d="M395.83,183.78L399.67,187.62M399.67,183.78L395.83,187.62" stroke="#333333" stroke-width="1.0"/>
<path d="M412.26,180.59L416.10,184.43M416.10,180.59L412.26,184.43" stroke="#333333" stroke-width="1.0"/>
<path d="M428.69,196.35L432.53,200.19M432.53,196.35L428.69,200.19" stroke="#333333" stroke-width="1.0"/>
<path d="M445.12,200.74L448.96,204.58M448.96,200.74L445.12,204.58" stroke="#333333" stroke-width="1.0"/>
<path d="M461.55,211.33L465.39,215.17M465.39,211.33L461.55,215.17" stroke="#333333" stroke-width="1.0"/>
<path d="M477.98,214.51L481.82,218.35M481.82,214.51L477.98,218.35" stroke="#333333" stroke-width="1.0"/>
<path d="M494.41,220.28L498.25,224.12M498.25,220.28L494.41,224.12" stroke="#333333" stroke-width="1.0"/>
<path d="M510.84,223.98L514.68,227.82M514.68,223.98L510.84,227.82" stroke="#333333" stroke-width="1.0"/>
<path d="M527.27,226.82L531.11,230.66M531.11,226.82L527.27,230.66" stroke="#333333" stroke-width="1.0"/>
<polyline points="315.60,165.47 332.03,170.98 348.46,183.03 364.89,180.45 381.32,169.08 397.75,161.42 414.18,162.37 430.61,180.53 447.04,185.10 463.47,198.35 479.90,202.92 496.33,210.49 512.76,215.57 529.19,219.70" fill="none" stroke="#22ee22" stroke-width="0.8"/>
<polygon points="315.60,163.67 317.40,166.91 313.80,166.91" fill="#22ee22"/>
<polygon points="332.03,169.18 333.83,172.42 330.23,172.42" fill="#22ee22"/>
<polygon points="348.46,181.23 350.26,184.47 346.66,184.47" fill="#22ee22"/>
<polygon points="364.89,178.65 366.69,181.89 363.09,181.89" fill="#22ee22"/>
<polygon points="381.32,167.28 383.12,170.52 379.52,170.52" fill="#22ee22"/>
<polygon points="397.75,159.62 399.55,162.86 395.95,162.86" fill="#22ee22"/>
<polygon points="414.18,160.57 415.98,163.81 412.38,163.81" fill="#22ee22"/>
<polygon points="430.61,178.73 432.41,181.97 428.81,181.97" fill="#22ee22"/>
<polygon points="447.04,183.30 448.84,186.54 445.24,186.54" fill="#22ee22"/>
<polygon points="463.47,196.55 465.27,199.79 461.67,199.79" fill="#22ee22"/>
<polygon points="479.90,201.12 481.70,204.36 478.10,204.36" fill="#22ee22"/>
<polygon points="496.33,208.69 498.13,211.93 494.53,211.93" fill="#22ee22"/>
<polygon points="512.76,213.77 514.56,217.01 510.96,217.01" fill="#22ee22"/>
<polygon points="529.19,217.90 530.99,221.14 527.39,221.14" fill="#22ee22"/>
<text x="316.60" y="267.90" font-size="5.2" text-anchor="middle" dominant-baseline="central" transform="rotate(45 316.60 267.90)" fill="#262626" stroke="#262626" stroke-width="0.25">La</text>
<text x="333.03" y="267.90" font-size="5.2" text-anchor="middle" dominant-baseline="central" transform="rotate(45 333.03 267.90)" fill="#262626" stroke="#262626" stroke-width="0.25">Ce</text>
<text x="349.46" y="267.90" font-size="5.2" text-anchor="middle" dominant-baseline="central" transform="rotate(45 349.46 267.90)" fill="#262626" stroke="#262626" stroke-width="0.25">Pr</text>
<text x="365.89" y="267.90" font-size="5.2" text-anchor="middle" dominant-baseline="central" transform="rotate(45 365.89 267.90)" fill="#262626" stroke="#262626" stroke-width="0.25">Nd</text>
<text x="382.32" y="267.90" font-size="5.2" text-anchor="middle" dominant-baseline="central" transform="rotate(45 382.32 267.90)" fill="#262626" stroke="#262626" stroke-width="0.25">Sm</text>
<text x="398.75" y="267.90" font-size="5.2" text-anchor="middle" dominant-baseline="central" transform="rotate(45 398.75 267.90)" fill="#262626" stroke="#262626" stroke-width="0.25">Eu</text>
<text x="415.18" y="267.90" font-size="5.2" text-anchor="middle" dominant-baseline="central" transform="rotate(45 415.18 267.90)" fill="#262626" stroke="#262626" stroke-width="0.25">Gd</text>
<text x="431.61" y="267.90" font-size="5.2" text-anchor="middle" dominant-baseline="central" transform="rotate(45 431.61 267.90)" fill="#262626" stroke="#262626" stroke-width="0.25">Tb</text>
<text x="448.04" y="267.90" font-size="5.2" text-anchor="middle" dominant-baseline="central" transform="rotate(45 448.04 267.90)" fill="#262626" stroke="#262626" stroke-width="0.25">Dy</text>
<text x="464.47" y="267.90" font-size="5.2" text-anchor="middle" dominant-baseline="central" transform="rotate(45 464.47 267.90)" fill="#262626" stroke="#262626" stroke-width="0.25">Ho</text>
<text x="480.90" y="267.90" font-size="5.2" text-anchor="middle" dominant-baseline="central" transform="rotate(45 480.90 267.90)" fill="#262626" stroke="#262626" stroke-width="0.25">Er</text>
<text x="497.33" y="267.90" font-size="5.2" text-anchor="middle" dominant-baseline="central" transform="rotate(45 497.33 267.90)" fill="#262626" stroke="#262626" stroke-width="0.25">Tm</text>
<text x="513.76" y="267.90" font-size="5.2" text-anchor="middle" dominant-baseline="central" transform="rotate(45 513.76 267.90)" fill="#262626" stroke="#262626" stroke-width="0.25">Yb</text>
<text x="530.19" y="267.90" font-size="5.2" text-anchor="middle" dominant-baseline="central" transform="rotate(45 530.19 267.90)" fill="#262626" stroke="#262626" stroke-width="0.25">Lu</text>
<path d="M318.6,156h11" stroke="#ff0000" stroke-width="0.8"/>
<circle cx="324.10" cy="156.00" r="1.56" fill="#ff0000"/>
<text x="330.8" y="157.93" font-size="4.6" fill="#262626" stroke="#262626" stroke-width="0" font-style="italic" font-family='"Liberation Sans", sans-serif'>Zn1</text>
<path d="M344.6,156h11" stroke="#0000ff" stroke-width="0.8"/>
<polygon points="350.10,154.20 351.90,156.00 350.10,157.80 348.30,156.00" fill="#0000ff"/>
<text x="356.8" y="157.93" font-size="4.6" fill="#262626" stroke="#262626" stroke-width="0" font-style="italic" font-family='"Liberation Sans", sans-serif'>Zn2</text>
<path d="M370,156h11" stroke="#22ee22" stroke-width="0.8"/>
<polygon points="375.50,154.20 377.30,157.44 373.70,157.44" fill="#22ee22"/>
<text x="382.2" y="157.93" font-size="4.6" fill="#262626" stroke="#262626" stroke-width="0" font-style="italic" font-family='"Liberation Sans", sans-serif'>Zn4</text>
<path d="M395.7,156h11" stroke="#333333" stroke-width="0.8"/>
<path d="M399.28,154.08L403.12,157.92M403.12,154.08L399.28,157.92" stroke="#333333" stroke-width="1.0"/>
<text x="407.9" y="157.93" font-size="4.6" fill="#262626" stroke="#262626" stroke-width="0" font-style="italic" font-family='"Liberation Sans", sans-serif'>Zn3</text>
<path d="M421.2,156h11" stroke="#8b4513" stroke-width="0.8"/>
<rect x="424.90" y="154.20" width="3.60" height="3.60" fill="#8b4513"/>
<text x="433.4" y="157.93" font-size="4.6" fill="#262626" stroke="#262626" stroke-width="0" font-style="italic" font-family='"Liberation Sans", sans-serif'>Zn5</text>
<path d="M447.3,156h11" stroke="#7030a0" stroke-width="0.8"/>
<circle cx="452.80" cy="156.00" r="1.56" fill="#7030a0"/>
<text x="459.5" y="157.93" font-size="4.6" fill="#262626" stroke="#262626" stroke-width="0" font-style="italic" font-family='"Liberation Sans", sans-serif'>Zn6</text>
<path d="M472.4,156h11" stroke="#ff00cc" stroke-width="0.8"/>
<circle cx="477.90" cy="156.00" r="1.56" fill="#ff00cc"/>
<text x="484.59999999999997" y="157.93" font-size="4.6" fill="#262626" stroke="#262626" stroke-width="0" font-style="italic" font-family='"Liberation Sans", sans-serif'>Zn7</text>
<path d="M500.3,156h11" stroke="#ffb000" stroke-width="0.8"/>
<polygon points="505.80,154.20 507.60,157.44 504.00,157.44" fill="#ffb000"/>
<text x="512.5" y="157.93" font-size="4.6" fill="#262626" stroke="#262626" stroke-width="0" font-style="italic" font-family='"Liberation Sans", sans-serif'>Zn8</text>
<text x="529.8" y="157.8" font-size="7.8" font-weight="bold" text-anchor="middle" dominant-baseline="central" fill="#111" font-family='"Liberation Sans", sans-serif'>d</text>
<text x="290.5" y="207.7" font-size="4.6" text-anchor="middle" dominant-baseline="central" transform="rotate(-90 290.5 207.7)" fill="#262626" stroke="#262626" stroke-width="0.08" font-weight="normal">Sample/UCC</text>
<text x="422.5" y="278" font-size="4.6" font-weight="bold" text-anchor="middle" dominant-baseline="central" fill="#262626" stroke="#262626" stroke-width="0.12">REEs</text>
<path d="M6.2,286.5H267.90000000000003M6.2,427.1H267.90000000000003" fill="none" stroke="#e0e0e0" stroke-width="1.5"/>
<path d="M6.8,286.5V427.1M267.3,286.5V427.1" fill="none" stroke="#e6e6e6" stroke-width="1.1"/>
<path d="M28.4,292.9V405.5" fill="none" stroke="#a0a0a0" stroke-width="1.0"/>
<path d="M27.9,405.5H257.2" fill="none" stroke="#6e6e6e" stroke-width="1.1"/>
<path d="M26.9,293.40H28.4" stroke="#8c8c8c" stroke-width="0.6"/>
<text x="23" y="295.34" font-size="5.4" text-anchor="end" fill="#3a3a3a" stroke="#3a3a3a" stroke-width="0.0">1.4</text>
<path d="M26.9,309.41H28.4" stroke="#8c8c8c" stroke-width="0.6"/>
<text x="23" y="311.36" font-size="5.4" text-anchor="end" fill="#3a3a3a" stroke="#3a3a3a" stroke-width="0.0">1.2</text>
<path d="M26.9,325.43H28.4" stroke="#8c8c8c" stroke-width="0.6"/>
<text x="23" y="327.37" font-size="5.4" text-anchor="end" fill="#3a3a3a" stroke="#3a3a3a" stroke-width="0.0">1.0</text>
<path d="M26.9,341.44H28.4" stroke="#8c8c8c" stroke-width="0.6"/>
<text x="23" y="343.39" font-size="5.4" text-anchor="end" fill="#3a3a3a" stroke="#3a3a3a" stroke-width="0.0">0.8</text>
<path d="M26.9,357.46H28.4" stroke="#8c8c8c" stroke-width="0.6"/>
<text x="23" y="359.40" font-size="5.4" text-anchor="end" fill="#3a3a3a" stroke="#3a3a3a" stroke-width="0.0">0.6</text>
<path d="M26.9,373.47H28.4" stroke="#8c8c8c" stroke-width="0.6"/>
<text x="23" y="375.42" font-size="5.4" text-anchor="end" fill="#3a3a3a" stroke="#3a3a3a" stroke-width="0.0">0.4</text>
<path d="M26.9,389.49H28.4" stroke="#8c8c8c" stroke-width="0.6"/>
<text x="23" y="391.43" font-size="5.4" text-anchor="end" fill="#3a3a3a" stroke="#3a3a3a" stroke-width="0.0">0.2</text>
<path d="M26.9,405.50H28.4" stroke="#8c8c8c" stroke-width="0.6"/>
<text x="23" y="407.44" font-size="5.4" text-anchor="end" fill="#3a3a3a" stroke="#3a3a3a" stroke-width="0.0">0.0</text>
<polyline points="36.20,393.03 52.62,395.52 69.04,394.10 85.46,394.05 101.88,390.96 118.30,385.66 134.72,388.71 151.14,389.13 167.56,392.36 183.98,391.78 200.40,394.61 216.82,395.73 233.24,395.99 249.66,396.81" fill="none" stroke="#2f5f1f" stroke-width="0.8"/>
<rect x="34.40" y="391.23" width="3.60" height="3.60" fill="#2f5f1f"/>
<rect x="50.82" y="393.72" width="3.60" height="3.60" fill="#2f5f1f"/>
<rect x="67.24" y="392.30" width="3.60" height="3.60" fill="#2f5f1f"/>
<rect x="83.66" y="392.25" width="3.60" height="3.60" fill="#2f5f1f"/>
<rect x="100.08" y="389.16" width="3.60" height="3.60" fill="#2f5f1f"/>
<rect x="116.50" y="383.86" width="3.60" height="3.60" fill="#2f5f1f"/>
<rect x="132.92" y="386.91" width="3.60" height="3.60" fill="#2f5f1f"/>
<rect x="149.34" y="387.33" width="3.60" height="3.60" fill="#2f5f1f"/>
<rect x="165.76" y="390.56" width="3.60" height="3.60" fill="#2f5f1f"/>
<rect x="182.18" y="389.98" width="3.60" height="3.60" fill="#2f5f1f"/>
<rect x="198.60" y="392.81" width="3.60" height="3.60" fill="#2f5f1f"/>
<rect x="215.02" y="393.93" width="3.60" height="3.60" fill="#2f5f1f"/>
<rect x="231.44" y="394.19" width="3.60" height="3.60" fill="#2f5f1f"/>
<rect x="247.86" y="395.01" width="3.60" height="3.60" fill="#2f5f1f"/>
<polyline points="36.20,389.63 52.62,391.77 69.04,388.87 85.46,390.19 101.88,385.64 118.30,382.57 134.72,385.19 151.14,388.53 167.56,392.36 183.98,391.78 200.40,394.61 216.82,395.73 233.24,396.28 249.66,397.09" fill="none" stroke="#a67c00" stroke-width="0.8"/>
<polygon points="36.20,387.83 38.00,391.07 34.40,391.07" fill="#a67c00"/>
<polygon points="52.62,389.97 54.42,393.21 50.82,393.21" fill="#a67c00"/>
<polygon points="69.04,387.07 70.84,390.31 67.24,390.31" fill="#a67c00"/>
<polygon points="85.46,388.39 87.26,391.63 83.66,391.63" fill="#a67c00"/>
<polygon points="101.88,383.84 103.68,387.08 100.08,387.08" fill="#a67c00"/>
<polygon points="118.30,380.77 120.10,384.01 116.50,384.01" fill="#a67c00"/>
<polygon points="134.72,383.39 136.52,386.63 132.92,386.63" fill="#a67c00"/>
<polygon points="151.14,386.73 152.94,389.97 149.34,389.97" fill="#a67c00"/>
<polygon points="167.56,390.56 169.36,393.80 165.76,393.80" fill="#a67c00"/>
<polygon points="183.98,389.98 185.78,393.22 182.18,393.22" fill="#a67c00"/>
<polygon points="200.40,392.81 202.20,396.05 198.60,396.05" fill="#a67c00"/>
<polygon points="216.82,393.93 218.62,397.17 215.02,397.17" fill="#a67c00"/>
<polygon points="233.24,394.48 235.04,397.72 231.44,397.72" fill="#a67c00"/>
<polygon points="249.66,395.29 251.46,398.53 247.86,398.53" fill="#a67c00"/>
<polyline points="36.20,388.11 52.62,390.64 69.04,388.80 85.46,389.69 101.88,386.92 118.30,384.06 134.72,385.19 151.14,389.13 167.56,392.84 183.98,392.09 200.40,394.88 216.82,396.27 233.24,396.56 249.66,397.36" fill="none" stroke="#7030a0" stroke-width="0.8"/>
<circle cx="36.20" cy="388.11" r="1.56" fill="#7030a0"/>
<circle cx="52.62" cy="390.64" r="1.56" fill="#7030a0"/>
<circle cx="69.04" cy="388.80" r="1.56" fill="#7030a0"/>
<circle cx="85.46" cy="389.69" r="1.56" fill="#7030a0"/>
<circle cx="101.88" cy="386.92" r="1.56" fill="#7030a0"/>
<circle cx="118.30" cy="384.06" r="1.56" fill="#7030a0"/>
<circle cx="134.72" cy="385.19" r="1.56" fill="#7030a0"/>
<circle cx="151.14" cy="389.13" r="1.56" fill="#7030a0"/>
<circle cx="167.56" cy="392.84" r="1.56" fill="#7030a0"/>
<circle cx="183.98" cy="392.09" r="1.56" fill="#7030a0"/>
<circle cx="200.40" cy="394.88" r="1.56" fill="#7030a0"/>
<circle cx="216.82" cy="396.27" r="1.56" fill="#7030a0"/>
<circle cx="233.24" cy="396.56" r="1.56" fill="#7030a0"/>
<circle cx="249.66" cy="397.36" r="1.56" fill="#7030a0"/>
<polyline points="36.20,386.60 52.62,388.87 69.04,386.62 85.46,387.79 101.88,383.98 118.30,379.70 134.72,383.43 151.14,386.10 167.56,390.89 183.98,389.59 200.40,392.70 216.82,394.37 233.24,394.83 249.66,396.00" fill="none" stroke="#000000" stroke-width="0.8"/>
<polygon points="36.20,384.80 38.00,388.04 34.40,388.04" fill="#000000"/>
<polygon points="52.62,387.07 54.42,390.31 50.82,390.31" fill="#000000"/>
<polygon points="69.04,384.82 70.84,388.06 67.24,388.06" fill="#000000"/>
<polygon points="85.46,385.99 87.26,389.23 83.66,389.23" fill="#000000"/>
<polygon points="101.88,382.18 103.68,385.42 100.08,385.42" fill="#000000"/>
<polygon points="118.30,377.90 120.10,381.14 116.50,381.14" fill="#000000"/>
<polygon points="134.72,381.63 136.52,384.87 132.92,384.87" fill="#000000"/>
<polygon points="151.14,384.30 152.94,387.54 149.34,387.54" fill="#000000"/>
<polygon points="167.56,389.09 169.36,392.33 165.76,392.33" fill="#000000"/>
<polygon points="183.98,387.79 185.78,391.03 182.18,391.03" fill="#000000"/>
<polygon points="200.40,390.90 202.20,394.14 198.60,394.14" fill="#000000"/>
<polygon points="216.82,392.57 218.62,395.81 215.02,395.81" fill="#000000"/>
<polygon points="233.24,393.03 235.04,396.27 231.44,396.27" fill="#000000"/>
<polygon points="249.66,394.20 251.46,397.44 247.86,397.44" fill="#000000"/>
<polyline points="36.20,386.60 52.62,388.51 69.04,386.62 85.46,387.79 101.88,382.44 118.30,376.83 134.72,377.91 151.14,378.22 167.56,385.05 183.98,382.42 200.40,385.63 216.82,387.58 233.24,388.20 249.66,390.03" fill="none" stroke="#262626" stroke-width="0.8"/>
<polygon points="36.20,384.80 38.00,388.04 34.40,388.04" fill="#fff" stroke="#262626" stroke-width="0.6"/>
<polygon points="52.62,386.71 54.42,389.95 50.82,389.95" fill="#fff" stroke="#262626" stroke-width="0.6"/>
<polygon points="69.04,384.82 70.84,388.06 67.24,388.06" fill="#fff" stroke="#262626" stroke-width="0.6"/>
<polygon points="85.46,385.99 87.26,389.23 83.66,389.23" fill="#fff" stroke="#262626" stroke-width="0.6"/>
<polygon points="101.88,380.64 103.68,383.88 100.08,383.88" fill="#fff" stroke="#262626" stroke-width="0.6"/>
<polygon points="118.30,375.03 120.10,378.27 116.50,378.27" fill="#fff" stroke="#262626" stroke-width="0.6"/>
<polygon points="134.72,376.11 136.52,379.35 132.92,379.35" fill="#fff" stroke="#262626" stroke-width="0.6"/>
<polygon points="151.14,376.42 152.94,379.66 149.34,379.66" fill="#fff" stroke="#262626" stroke-width="0.6"/>
<polygon points="167.56,383.25 169.36,386.49 165.76,386.49" fill="#fff" stroke="#262626" stroke-width="0.6"/>
<polygon points="183.98,380.62 185.78,383.86 182.18,383.86" fill="#fff" stroke="#262626" stroke-width="0.6"/>
<polygon points="200.40,383.83 202.20,387.07 198.60,387.07" fill="#fff" stroke="#262626" stroke-width="0.6"/>
<polygon points="216.82,385.78 218.62,389.02 215.02,389.02" fill="#fff" stroke="#262626" stroke-width="0.6"/>
<polygon points="233.24,386.40 235.04,389.64 231.44,389.64" fill="#fff" stroke="#262626" stroke-width="0.6"/>
<polygon points="249.66,388.23 251.46,391.47 247.86,391.47" fill="#fff" stroke="#262626" stroke-width="0.6"/>
<polyline points="36.20,377.91 52.62,381.15 69.04,379.36 85.46,381.97 101.88,378.60 118.30,377.24 134.72,378.44 151.14,382.65 167.56,388.70 183.98,388.03 200.40,391.34 216.82,393.29 233.24,394.26 249.66,395.19" fill="none" stroke="#00ee00" stroke-width="0.8"/>
<rect x="34.76" y="376.47" width="2.88" height="2.88" fill="#00ee00"/>
<rect x="51.18" y="379.71" width="2.88" height="2.88" fill="#00ee00"/>
<rect x="67.60" y="377.92" width="2.88" height="2.88" fill="#00ee00"/>
<rect x="84.02" y="380.53" width="2.88" height="2.88" fill="#00ee00"/>
<rect x="100.44" y="377.16" width="2.88" height="2.88" fill="#00ee00"/>
<rect x="116.86" y="375.80" width="2.88" height="2.88" fill="#00ee00"/>
<rect x="133.28" y="377.00" width="2.88" height="2.88" fill="#00ee00"/>
<rect x="149.70" y="381.21" width="2.88" height="2.88" fill="#00ee00"/>
<rect x="166.12" y="387.26" width="2.88" height="2.88" fill="#00ee00"/>
<rect x="182.54" y="386.59" width="2.88" height="2.88" fill="#00ee00"/>
<rect x="198.96" y="389.90" width="2.88" height="2.88" fill="#00ee00"/>
<rect x="215.38" y="391.85" width="2.88" height="2.88" fill="#00ee00"/>
<rect x="231.80" y="392.82" width="2.88" height="2.88" fill="#00ee00"/>
<rect x="248.22" y="393.75" width="2.88" height="2.88" fill="#00ee00"/>
<polyline points="36.20,381.31 52.62,384.97 69.04,381.75 85.46,383.30 101.88,377.31 118.30,374.03 134.72,376.98 151.14,381.25 167.56,387.24 183.98,386.79 200.40,390.25 216.82,392.20 233.24,392.82 249.66,394.10" fill="none" stroke="#ff00cc" stroke-width="0.8"/>
<rect x="34.76" y="379.87" width="2.88" height="2.88" fill="#ff00cc"/>
<rect x="51.18" y="383.53" width="2.88" height="2.88" fill="#ff00cc"/>
<rect x="67.60" y="380.31" width="2.88" height="2.88" fill="#ff00cc"/>
<rect x="84.02" y="381.86" width="2.88" height="2.88" fill="#ff00cc"/>
<rect x="100.44" y="375.87" width="2.88" height="2.88" fill="#ff00cc"/>
<rect x="116.86" y="372.59" width="2.88" height="2.88" fill="#ff00cc"/>
<rect x="133.28" y="375.54" width="2.88" height="2.88" fill="#ff00cc"/>
<rect x="149.70" y="379.81" width="2.88" height="2.88" fill="#ff00cc"/>
<rect x="166.12" y="385.80" width="2.88" height="2.88" fill="#ff00cc"/>
<rect x="182.54" y="385.35" width="2.88" height="2.88" fill="#ff00cc"/>
<rect x="198.96" y="388.81" width="2.88" height="2.88" fill="#ff00cc"/>
<rect x="215.38" y="390.76" width="2.88" height="2.88" fill="#ff00cc"/>
<rect x="231.80" y="391.38" width="2.88" height="2.88" fill="#ff00cc"/>
<rect x="248.22" y="392.66" width="2.88" height="2.88" fill="#ff00cc"/>
<polyline points="36.20,379.04 52.62,382.14 69.04,378.99 85.46,381.15 101.88,375.14 118.30,371.50 134.72,374.45 151.14,379.98 167.56,386.03 183.98,384.92 200.40,389.17 216.82,391.39 233.24,391.95 249.66,393.56" fill="none" stroke="#ff6f6f" stroke-width="0.8"/>
<path d="M34.52,379.04L37.88,379.04M36.20,377.36L36.20,380.72" stroke="#ff6f6f" stroke-width="0.8"/>
<path d="M50.94,382.14L54.30,382.14M52.62,380.46L52.62,383.82" stroke="#ff6f6f" stroke-width="0.8"/>
<path d="M67.36,378.99L70.72,378.99M69.04,377.31L69.04,380.67" stroke="#ff6f6f" stroke-width="0.8"/>
<path d="M83.78,381.15L87.14,381.15M85.46,379.47L85.46,382.83" stroke="#ff6f6f" stroke-width="0.8"/>
<path d="M100.20,375.14L103.56,375.14M101.88,373.46L101.88,376.82" stroke="#ff6f6f" stroke-width="0.8"/>
<path d="M116.62,371.50L119.98,371.50M118.30,369.82L118.30,373.18" stroke="#ff6f6f" stroke-width="0.8"/>
<path d="M133.04,374.45L136.40,374.45M134.72,372.77L134.72,376.13" stroke="#ff6f6f" stroke-width="0.8"/>
<path d="M149.46,379.98L152.82,379.98M151.14,378.30L151.14,381.66" stroke="#ff6f6f" stroke-width="0.8"/>
<path d="M165.88,386.03L169.24,386.03M167.56,384.35L167.56,387.71" stroke="#ff6f6f" stroke-width="0.8"/>
<path d="M182.30,384.92L185.66,384.92M183.98,383.24L183.98,386.60" stroke="#ff6f6f" stroke-width="0.8"/>
<path d="M198.72,389.17L202.08,389.17M200.40,387.49L200.40,390.85" stroke="#ff6f6f" stroke-width="0.8"/>
<path d="M215.14,391.39L218.50,391.39M216.82,389.71L216.82,393.07" stroke="#ff6f6f" stroke-width="0.8"/>
<path d="M231.56,391.95L234.92,391.95M233.24,390.27L233.24,393.63" stroke="#ff6f6f" stroke-width="0.8"/>
<path d="M247.98,393.56L251.34,393.56M249.66,391.88L249.66,395.24" stroke="#ff6f6f" stroke-width="0.8"/>
<polyline points="36.20,385.85 52.62,388.37 69.04,385.96 85.46,386.78 101.88,379.88 118.30,369.67 134.72,372.63 151.14,375.44 167.56,381.35 183.98,378.68 200.40,382.90 216.82,384.87 233.24,385.32 249.66,387.04" fill="none" stroke="#262626" stroke-width="0.8"/>
<path d="M34.28,383.93L38.12,387.77M38.12,383.93L34.28,387.77" stroke="#262626" stroke-width="1.0"/>
<path d="M50.70,386.45L54.54,390.29M54.54,386.45L50.70,390.29" stroke="#262626" stroke-width="1.0"/>
<path d="M67.12,384.04L70.96,387.88M70.96,384.04L67.12,387.88" stroke="#262626" stroke-width="1.0"/>
<path d="M83.54,384.86L87.38,388.70M87.38,384.86L83.54,388.70" stroke="#262626" stroke-width="1.0"/>
<path d="M99.96,377.96L103.80,381.80M103.80,377.96L99.96,381.80" stroke="#262626" stroke-width="1.0"/>
<path d="M116.38,367.75L120.22,371.59M120.22,367.75L116.38,371.59" stroke="#262626" stroke-width="1.0"/>
<path d="M132.80,370.71L136.64,374.55M136.64,370.71L132.80,374.55" stroke="#262626" stroke-width="1.0"/>
<path d="M149.22,373.52L153.06,377.36M153.06,373.52L149.22,377.36" stroke="#262626" stroke-width="1.0"/>
<path d="M165.64,379.43L169.48,383.27M169.48,379.43L165.64,383.27" stroke="#262626" stroke-width="1.0"/>
<path d="M182.06,376.76L185.90,380.60M185.90,376.76L182.06,380.60" stroke="#262626" stroke-width="1.0"/>
<path d="M198.48,380.98L202.32,384.82M202.32,380.98L198.48,384.82" stroke="#262626" stroke-width="1.0"/>
<path d="M214.90,382.95L218.74,386.79M218.74,382.95L214.90,386.79" stroke="#262626" stroke-width="1.0"/>
<path d="M231.32,383.40L235.16,387.24M235.16,383.40L231.32,387.24" stroke="#262626" stroke-width="1.0"/>
<path d="M247.74,385.12L251.58,388.96M251.58,385.12L247.74,388.96" stroke="#262626" stroke-width="1.0"/>
<polyline points="36.20,371.49 52.62,378.81 69.04,374.27 85.46,376.91 101.88,371.29 118.30,368.58 134.72,369.35 151.14,375.19 167.56,381.65 183.98,379.30 200.40,384.27 216.82,385.96 233.24,387.05 249.66,388.67" fill="none" stroke="#3a76b0" stroke-width="0.8"/>
<polygon points="36.20,369.69 38.00,371.49 36.20,373.29 34.40,371.49" fill="#3a76b0"/>
<polygon points="52.62,377.01 54.42,378.81 52.62,380.61 50.82,378.81" fill="#3a76b0"/>
<polygon points="69.04,372.47 70.84,374.27 69.04,376.07 67.24,374.27" fill="#3a76b0"/>
<polygon points="85.46,375.11 87.26,376.91 85.46,378.71 83.66,376.91" fill="#3a76b0"/>
<polygon points="101.88,369.49 103.68,371.29 101.88,373.09 100.08,371.29" fill="#3a76b0"/>
<polygon points="118.30,366.78 120.10,368.58 118.30,370.38 116.50,368.58" fill="#3a76b0"/>
<polygon points="134.72,367.55 136.52,369.35 134.72,371.15 132.92,369.35" fill="#3a76b0"/>
<polygon points="151.14,373.39 152.94,375.19 151.14,376.99 149.34,375.19" fill="#3a76b0"/>
<polygon points="167.56,379.85 169.36,381.65 167.56,383.45 165.76,381.65" fill="#3a76b0"/>
<polygon points="183.98,377.50 185.78,379.30 183.98,381.10 182.18,379.30" fill="#3a76b0"/>
<polygon points="200.40,382.47 202.20,384.27 200.40,386.07 198.60,384.27" fill="#3a76b0"/>
<polygon points="216.82,384.16 218.62,385.96 216.82,387.76 215.02,385.96" fill="#3a76b0"/>
<polygon points="233.24,385.25 235.04,387.05 233.24,388.85 231.44,387.05" fill="#3a76b0"/>
<polygon points="249.66,386.87 251.46,388.67 249.66,390.47 247.86,388.67" fill="#3a76b0"/>
<polyline points="36.20,373.75 52.62,370.32 69.04,372.67 85.46,374.88 101.88,368.03 118.30,364.79 134.72,368.11 151.14,373.44 167.56,381.40 183.98,380.55 200.40,385.35 216.82,388.13 233.24,388.78 249.66,390.57" fill="none" stroke="#c00000" stroke-width="0.8"/>
<polygon points="36.20,371.95 38.00,373.75 36.20,375.55 34.40,373.75" fill="#c00000"/>
<polygon points="52.62,368.52 54.42,370.32 52.62,372.12 50.82,370.32" fill="#c00000"/>
<polygon points="69.04,370.87 70.84,372.67 69.04,374.47 67.24,372.67" fill="#c00000"/>
<polygon points="85.46,373.08 87.26,374.88 85.46,376.68 83.66,374.88" fill="#c00000"/>
<polygon points="101.88,366.23 103.68,368.03 101.88,369.83 100.08,368.03" fill="#c00000"/>
<polygon points="118.30,362.99 120.10,364.79 118.30,366.59 116.50,364.79" fill="#c00000"/>
<polygon points="134.72,366.31 136.52,368.11 134.72,369.91 132.92,368.11" fill="#c00000"/>
<polygon points="151.14,371.64 152.94,373.44 151.14,375.24 149.34,373.44" fill="#c00000"/>
<polygon points="167.56,379.60 169.36,381.40 167.56,383.20 165.76,381.40" fill="#c00000"/>
<polygon points="183.98,378.75 185.78,380.55 183.98,382.35 182.18,380.55" fill="#c00000"/>
<polygon points="200.40,383.55 202.20,385.35 200.40,387.15 198.60,385.35" fill="#c00000"/>
<polygon points="216.82,386.33 218.62,388.13 216.82,389.93 215.02,388.13" fill="#c00000"/>
<polygon points="233.24,386.98 235.04,388.78 233.24,390.58 231.44,388.78" fill="#c00000"/>
<polygon points="249.66,388.77 251.46,390.57 249.66,392.37 247.86,390.57" fill="#c00000"/>
<polyline points="36.20,369.22 52.62,366.99 69.04,369.55 85.46,373.43 101.88,368.03 118.30,366.23 134.72,368.52 151.14,373.98 167.56,381.65 183.98,380.55 200.40,385.35 216.82,388.13 233.24,389.07 249.66,390.84" fill="none" stroke="#ffc000" stroke-width="0.8"/>
<polygon points="36.20,367.42 38.00,370.66 34.40,370.66" fill="#ffc000"/>
<polygon points="52.62,365.19 54.42,368.43 50.82,368.43" fill="#ffc000"/>
<polygon points="69.04,367.75 70.84,370.99 67.24,370.99" fill="#ffc000"/>
<polygon points="85.46,371.63 87.26,374.87 83.66,374.87" fill="#ffc000"/>
<polygon points="101.88,366.23 103.68,369.47 100.08,369.47" fill="#ffc000"/>
<polygon points="118.30,364.43 120.10,367.67 116.50,367.67" fill="#ffc000"/>
<polygon points="134.72,366.72 136.52,369.96 132.92,369.96" fill="#ffc000"/>
<polygon points="151.14,372.18 152.94,375.42 149.34,375.42" fill="#ffc000"/>
<polygon points="167.56,379.85 169.36,383.09 165.76,383.09" fill="#ffc000"/>
<polygon points="183.98,378.75 185.78,381.99 182.18,381.99" fill="#ffc000"/>
<polygon points="200.40,383.55 202.20,386.79 198.60,386.79" fill="#ffc000"/>
<polygon points="216.82,386.33 218.62,389.57 215.02,389.57" fill="#ffc000"/>
<polygon points="233.24,387.27 235.04,390.51 231.44,390.51" fill="#ffc000"/>
<polygon points="249.66,389.04 251.46,392.28 247.86,392.28" fill="#ffc000"/>
<polyline points="36.20,355.61 52.62,361.33 69.04,364.54 85.46,368.18 101.88,360.66 118.30,359.92 134.72,360.31 151.14,366.16 167.56,374.83 183.98,372.44 200.40,378.28 216.82,381.07 233.24,382.44 249.66,385.41" fill="none" stroke="#ff0000" stroke-width="0.8"/>
<circle cx="36.20" cy="355.61" r="1.56" fill="#ff0000"/>
<circle cx="52.62" cy="361.33" r="1.56" fill="#ff0000"/>
<circle cx="69.04" cy="364.54" r="1.56" fill="#ff0000"/>
<circle cx="85.46" cy="368.18" r="1.56" fill="#ff0000"/>
<circle cx="101.88" cy="360.66" r="1.56" fill="#ff0000"/>
<circle cx="118.30" cy="359.92" r="1.56" fill="#ff0000"/>
<circle cx="134.72" cy="360.31" r="1.56" fill="#ff0000"/>
<circle cx="151.14" cy="366.16" r="1.56" fill="#ff0000"/>
<circle cx="167.56" cy="374.83" r="1.56" fill="#ff0000"/>
<circle cx="183.98" cy="372.44" r="1.56" fill="#ff0000"/>
<circle cx="200.40" cy="378.28" r="1.56" fill="#ff0000"/>
<circle cx="216.82" cy="381.07" r="1.56" fill="#ff0000"/>
<circle cx="233.24" cy="382.44" r="1.56" fill="#ff0000"/>
<circle cx="249.66" cy="385.41" r="1.56" fill="#ff0000"/>
<polyline points="36.20,343.52 52.62,350.29 69.04,355.39 85.46,359.64 101.88,351.37 118.30,351.04 134.72,352.09 151.14,360.04 167.56,370.45 183.98,368.07 200.40,374.74 216.82,377.81 233.24,378.69 249.66,381.61" fill="none" stroke="#8b4513" stroke-width="0.8"/>
<rect x="34.40" y="341.72" width="3.60" height="3.60" fill="#8b4513"/>
<rect x="50.82" y="348.49" width="3.60" height="3.60" fill="#8b4513"/>
<rect x="67.24" y="353.59" width="3.60" height="3.60" fill="#8b4513"/>
<rect x="83.66" y="357.84" width="3.60" height="3.60" fill="#8b4513"/>
<rect x="100.08" y="349.57" width="3.60" height="3.60" fill="#8b4513"/>
<rect x="116.50" y="349.24" width="3.60" height="3.60" fill="#8b4513"/>
<rect x="132.92" y="350.29" width="3.60" height="3.60" fill="#8b4513"/>
<rect x="149.34" y="358.24" width="3.60" height="3.60" fill="#8b4513"/>
<rect x="165.76" y="368.65" width="3.60" height="3.60" fill="#8b4513"/>
<rect x="182.18" y="366.27" width="3.60" height="3.60" fill="#8b4513"/>
<rect x="198.60" y="372.94" width="3.60" height="3.60" fill="#8b4513"/>
<rect x="215.02" y="376.01" width="3.60" height="3.60" fill="#8b4513"/>
<rect x="231.44" y="376.89" width="3.60" height="3.60" fill="#8b4513"/>
<rect x="247.86" y="379.81" width="3.60" height="3.60" fill="#8b4513"/>
<polyline points="36.20,310.26 52.62,320.56 69.04,329.61 85.46,337.82 101.88,328.63 118.30,339.57 134.72,332.13 151.14,343.67 167.56,358.52 183.98,354.98 200.40,363.57 216.82,367.77 233.24,369.18 249.66,374.56" fill="none" stroke="#0000ff" stroke-width="0.8"/>
<polygon points="36.20,308.46 38.00,310.26 36.20,312.06 34.40,310.26" fill="#0000ff"/>
<polygon points="52.62,318.76 54.42,320.56 52.62,322.36 50.82,320.56" fill="#0000ff"/>
<polygon points="69.04,327.81 70.84,329.61 69.04,331.41 67.24,329.61" fill="#0000ff"/>
<polygon points="85.46,336.02 87.26,337.82 85.46,339.62 83.66,337.82" fill="#0000ff"/>
<polygon points="101.88,326.83 103.68,328.63 101.88,330.43 100.08,328.63" fill="#0000ff"/>
<polygon points="118.30,337.77 120.10,339.57 118.30,341.37 116.50,339.57" fill="#0000ff"/>
<polygon points="134.72,330.33 136.52,332.13 134.72,333.93 132.92,332.13" fill="#0000ff"/>
<polygon points="151.14,341.87 152.94,343.67 151.14,345.47 149.34,343.67" fill="#0000ff"/>
<polygon points="167.56,356.72 169.36,358.52 167.56,360.32 165.76,358.52" fill="#0000ff"/>
<polygon points="183.98,353.18 185.78,354.98 183.98,356.78 182.18,354.98" fill="#0000ff"/>
<polygon points="200.40,361.77 202.20,363.57 200.40,365.37 198.60,363.57" fill="#0000ff"/>
<polygon points="216.82,365.97 218.62,367.77 216.82,369.57 215.02,367.77" fill="#0000ff"/>
<polygon points="233.24,367.38 235.04,369.18 233.24,370.98 231.44,369.18" fill="#0000ff"/>
<polygon points="249.66,372.76 251.46,374.56 249.66,376.36 247.86,374.56" fill="#0000ff"/>
<text x="37.70" y="414.50" font-size="5.2" text-anchor="middle" dominant-baseline="central" transform="rotate(45 37.70 414.50)" fill="#262626" stroke="#262626" stroke-width="0.25">La</text>
<text x="54.12" y="414.50" font-size="5.2" text-anchor="middle" dominant-baseline="central" transform="rotate(45 54.12 414.50)" fill="#262626" stroke="#262626" stroke-width="0.25">Ce</text>
<text x="70.54" y="414.50" font-size="5.2" text-anchor="middle" dominant-baseline="central" transform="rotate(45 70.54 414.50)" fill="#262626" stroke="#262626" stroke-width="0.25">Pr</text>
<text x="86.96" y="414.50" font-size="5.2" text-anchor="middle" dominant-baseline="central" transform="rotate(45 86.96 414.50)" fill="#262626" stroke="#262626" stroke-width="0.25">Nd</text>
<text x="103.38" y="414.50" font-size="5.2" text-anchor="middle" dominant-baseline="central" transform="rotate(45 103.38 414.50)" fill="#262626" stroke="#262626" stroke-width="0.25">Sm</text>
<text x="119.80" y="414.50" font-size="5.2" text-anchor="middle" dominant-baseline="central" transform="rotate(45 119.80 414.50)" fill="#262626" stroke="#262626" stroke-width="0.25">Eu</text>
<text x="136.22" y="414.50" font-size="5.2" text-anchor="middle" dominant-baseline="central" transform="rotate(45 136.22 414.50)" fill="#262626" stroke="#262626" stroke-width="0.25">Gd</text>
<text x="152.64" y="414.50" font-size="5.2" text-anchor="middle" dominant-baseline="central" transform="rotate(45 152.64 414.50)" fill="#262626" stroke="#262626" stroke-width="0.25">Tb</text>
<text x="169.06" y="414.50" font-size="5.2" text-anchor="middle" dominant-baseline="central" transform="rotate(45 169.06 414.50)" fill="#262626" stroke="#262626" stroke-width="0.25">Dy</text>
<text x="185.48" y="414.50" font-size="5.2" text-anchor="middle" dominant-baseline="central" transform="rotate(45 185.48 414.50)" fill="#262626" stroke="#262626" stroke-width="0.25">Ho</text>
<text x="201.90" y="414.50" font-size="5.2" text-anchor="middle" dominant-baseline="central" transform="rotate(45 201.90 414.50)" fill="#262626" stroke="#262626" stroke-width="0.25">Er</text>
<text x="218.32" y="414.50" font-size="5.2" text-anchor="middle" dominant-baseline="central" transform="rotate(45 218.32 414.50)" fill="#262626" stroke="#262626" stroke-width="0.25">Tm</text>
<text x="234.74" y="414.50" font-size="5.2" text-anchor="middle" dominant-baseline="central" transform="rotate(45 234.74 414.50)" fill="#262626" stroke="#262626" stroke-width="0.25">Yb</text>
<text x="251.16" y="414.50" font-size="5.2" text-anchor="middle" dominant-baseline="central" transform="rotate(45 251.16 414.50)" fill="#262626" stroke="#262626" stroke-width="0.25">Lu</text>
<path d="M62,296.5h11" stroke="#ff0000" stroke-width="0.8"/>
<circle cx="67.50" cy="296.50" r="1.56" fill="#ff0000"/>
<text x="74.2" y="298.43" font-size="4.6" fill="#262626" stroke="#262626" stroke-width="0.06" font-style="normal" font-family='"Liberation Sans", sans-serif'>Sbx1</text>
<path d="M103,296.5h11" stroke="#0000ff" stroke-width="0.8"/>
<polygon points="108.50,294.70 110.30,296.50 108.50,298.30 106.70,296.50" fill="#0000ff"/>
<text x="115.2" y="298.43" font-size="4.6" fill="#262626" stroke="#262626" stroke-width="0.06" font-style="normal" font-family='"Liberation Sans", sans-serif'>Sbx2</text>
<path d="M144.8,296.5h11" stroke="#262626" stroke-width="0.8"/>
<polygon points="150.30,294.70 152.10,297.94 148.50,297.94" fill="#fff" stroke="#262626" stroke-width="0.6"/>
<text x="157.0" y="298.43" font-size="4.6" fill="#262626" stroke="#262626" stroke-width="0.06" font-style="normal" font-family='"Liberation Sans", sans-serif'>Sbx4</text>
<path d="M186.6,296.5h11" stroke="#262626" stroke-width="0.8"/>
<path d="M190.18,294.58L194.02,298.42M194.02,294.58L190.18,298.42" stroke="#262626" stroke-width="1.0"/>
<text x="198.79999999999998" y="298.43" font-size="4.6" fill="#262626" stroke="#262626" stroke-width="0.06" font-style="normal" font-family='"Liberation Sans", sans-serif'>Sbx3</text>
<path d="M227.4,296.5h11" stroke="#8b4513" stroke-width="0.8"/>
<rect x="231.10" y="294.70" width="3.60" height="3.60" fill="#8b4513"/>
<text x="239.6" y="298.43" font-size="4.6" fill="#262626" stroke="#262626" stroke-width="0.06" font-style="normal" font-family='"Liberation Sans", sans-serif'>Sbx5</text>
<path d="M62,310.3h11" stroke="#ffc000" stroke-width="0.8"/>
<polygon points="67.50,308.50 69.30,311.74 65.70,311.74" fill="#ffc000"/>
<text x="74.2" y="312.23" font-size="4.6" fill="#262626" stroke="#262626" stroke-width="0.06" font-style="normal" font-family='"Liberation Sans", sans-serif'>Sbx6</text>
<path d="M103,310.3h11" stroke="#3a76b0" stroke-width="0.8"/>
<polygon points="108.50,308.50 110.30,310.30 108.50,312.10 106.70,310.30" fill="#3a76b0"/>
<text x="115.2" y="312.23" font-size="4.6" fill="#262626" stroke="#262626" stroke-width="0.06" font-style="normal" font-family='"Liberation Sans", sans-serif'>Sbx7</text>
<path d="M144.8,310.3h11" stroke="#00ee00" stroke-width="0.8"/>
<rect x="148.86" y="308.86" width="2.88" height="2.88" fill="#00ee00"/>
<text x="157.0" y="312.23" font-size="4.6" fill="#262626" stroke="#262626" stroke-width="0.06" font-style="normal" font-family='"Liberation Sans", sans-serif'>Sbx8</text>
<path d="M186.6,310.3h11" stroke="#000000" stroke-width="0.8"/>
<polygon points="192.10,308.50 193.90,311.74 190.30,311.74" fill="#000000"/>
<text x="198.79999999999998" y="312.23" font-size="4.6" fill="#262626" stroke="#262626" stroke-width="0.06" font-style="normal" font-family='"Liberation Sans", sans-serif'>Sbx9</text>
<path d="M227.4,310.3h11" stroke="#2f5f1f" stroke-width="0.8"/>
<rect x="231.10" y="308.50" width="3.60" height="3.60" fill="#2f5f1f"/>
<text x="239.6" y="312.23" font-size="4.6" fill="#262626" stroke="#262626" stroke-width="0.06" font-style="normal" font-family='"Liberation Sans", sans-serif'>Sbx10</text>
<path d="M62,323.5h11" stroke="#7030a0" stroke-width="0.8"/>
<circle cx="67.50" cy="323.50" r="1.56" fill="#7030a0"/>
<text x="74.2" y="325.43" font-size="4.6" fill="#262626" stroke="#262626" stroke-width="0.06" font-style="normal" font-family='"Liberation Sans", sans-serif'>Sbx11</text>
<path d="M103,323.5h11" stroke="#c00000" stroke-width="0.8"/>
<polygon points="108.50,321.70 110.30,323.50 108.50,325.30 106.70,323.50" fill="#c00000"/>
<text x="115.2" y="325.43" font-size="4.6" fill="#262626" stroke="#262626" stroke-width="0.06" font-style="normal" font-family='"Liberation Sans", sans-serif'>Sbx12</text>
<path d="M144.8,323.5h11" stroke="#ff6f6f" stroke-width="0.8"/>
<path d="M148.62,323.50L151.98,323.50M150.30,321.82L150.30,325.18" stroke="#ff6f6f" stroke-width="0.8"/>
<text x="157.0" y="325.43" font-size="4.6" fill="#262626" stroke="#262626" stroke-width="0.06" font-style="normal" font-family='"Liberation Sans", sans-serif'>Sbx13</text>
<path d="M186.6,323.5h11" stroke="#a67c00" stroke-width="0.8"/>
<polygon points="192.10,321.70 193.90,324.94 190.30,324.94" fill="#a67c00"/>
<text x="198.79999999999998" y="325.43" font-size="4.6" fill="#262626" stroke="#262626" stroke-width="0.06" font-style="normal" font-family='"Liberation Sans", sans-serif'>Sbx14</text>
<path d="M227.4,323.5h11" stroke="#ff00cc" stroke-width="0.8"/>
<rect x="231.46" y="322.06" width="2.88" height="2.88" fill="#ff00cc"/>
<text x="239.6" y="325.43" font-size="4.6" fill="#262626" stroke="#262626" stroke-width="0.06" font-style="normal" font-family='"Liberation Sans", sans-serif'>Sbx15</text>
<text x="256" y="299.2" font-size="7.9" font-weight="bold" text-anchor="middle" dominant-baseline="central" fill="#111" font-family='"Liberation Sans", sans-serif'>e</text>
<text x="12.1" y="349.6" font-size="5.3" text-anchor="middle" dominant-baseline="central" transform="rotate(-90 12.1 349.6)" fill="#262626" stroke="#262626" stroke-width="0.08" font-weight="normal">Sample/NASC</text>
<text x="143.2" y="421.9" font-size="4.6" font-weight="bold" text-anchor="middle" dominant-baseline="central" fill="#262626" stroke="#262626" stroke-width="0.12">REEs</text>
<path d="M282.0,286.6H543.6M282.0,427.1H543.6" fill="none" stroke="#e0e0e0" stroke-width="1.5"/>
<path d="M282.6,286.6V427.1M543,286.6V427.1" fill="none" stroke="#e6e6e6" stroke-width="1.1"/>
<path d="M305.3,294.5V402.3" fill="none" stroke="#a0a0a0" stroke-width="1.0"/>
<path d="M304.8,402.3H537" fill="none" stroke="#6e6e6e" stroke-width="1.1"/>
<path d="M303.8,295.00H305.3" stroke="#8c8c8c" stroke-width="0.6"/>
<text x="300" y="296.87" font-size="5.2" text-anchor="end" fill="#3a3a3a" stroke="#3a3a3a" stroke-width="0.0">1.2</text>
<path d="M303.8,312.88H305.3" stroke="#8c8c8c" stroke-width="0.6"/>
<text x="300" y="314.76" font-size="5.2" text-anchor="end" fill="#3a3a3a" stroke="#3a3a3a" stroke-width="0.0">1.0</text>
<path d="M303.8,330.77H305.3" stroke="#8c8c8c" stroke-width="0.6"/>
<text x="300" y="332.64" font-size="5.2" text-anchor="end" fill="#3a3a3a" stroke="#3a3a3a" stroke-width="0.0">0.8</text>
<path d="M303.8,348.65H305.3" stroke="#8c8c8c" stroke-width="0.6"/>
<text x="300" y="350.52" font-size="5.2" text-anchor="end" fill="#3a3a3a" stroke="#3a3a3a" stroke-width="0.0">0.6</text>
<path d="M303.8,366.53H305.3" stroke="#8c8c8c" stroke-width="0.6"/>
<text x="300" y="368.41" font-size="5.2" text-anchor="end" fill="#3a3a3a" stroke="#3a3a3a" stroke-width="0.0">0.4</text>
<path d="M303.8,384.42H305.3" stroke="#8c8c8c" stroke-width="0.6"/>
<text x="300" y="386.29" font-size="5.2" text-anchor="end" fill="#3a3a3a" stroke="#3a3a3a" stroke-width="0.0">0.2</text>
<path d="M303.8,402.30H305.3" stroke="#8c8c8c" stroke-width="0.6"/>
<text x="300" y="404.17" font-size="5.2" text-anchor="end" fill="#3a3a3a" stroke="#3a3a3a" stroke-width="0.0">0.0</text>
<polyline points="313.40,388.12 330.02,390.84 346.64,389.57 363.26,389.87 379.88,387.28 396.50,384.18 413.12,385.26 429.74,387.00 446.36,390.01 462.98,388.51 479.60,391.11 496.22,391.99 512.84,392.51 529.46,393.09" fill="none" stroke="#8b4513" stroke-width="0.8"/>
<rect x="311.60" y="386.32" width="3.60" height="3.60" fill="#8b4513"/>
<rect x="328.22" y="389.04" width="3.60" height="3.60" fill="#8b4513"/>
<rect x="344.84" y="387.77" width="3.60" height="3.60" fill="#8b4513"/>
<rect x="361.46" y="388.07" width="3.60" height="3.60" fill="#8b4513"/>
<rect x="378.08" y="385.48" width="3.60" height="3.60" fill="#8b4513"/>
<rect x="394.70" y="382.38" width="3.60" height="3.60" fill="#8b4513"/>
<rect x="411.32" y="383.46" width="3.60" height="3.60" fill="#8b4513"/>
<rect x="427.94" y="385.20" width="3.60" height="3.60" fill="#8b4513"/>
<rect x="444.56" y="388.21" width="3.60" height="3.60" fill="#8b4513"/>
<rect x="461.18" y="386.71" width="3.60" height="3.60" fill="#8b4513"/>
<rect x="477.80" y="389.31" width="3.60" height="3.60" fill="#8b4513"/>
<rect x="494.42" y="390.19" width="3.60" height="3.60" fill="#8b4513"/>
<rect x="511.04" y="390.71" width="3.60" height="3.60" fill="#8b4513"/>
<rect x="527.66" y="391.29" width="3.60" height="3.60" fill="#8b4513"/>
<polyline points="313.40,376.72 330.02,380.17 346.64,376.59 363.26,378.14 379.88,371.76 396.50,369.20 413.12,371.43 429.74,376.38 446.36,382.13 462.98,380.85 479.60,385.28 496.22,387.02 512.84,387.69 529.46,389.08" fill="none" stroke="#ff00cc" stroke-width="0.8"/>
<circle cx="313.40" cy="376.72" r="1.56" fill="#ff00cc"/>
<circle cx="330.02" cy="380.17" r="1.56" fill="#ff00cc"/>
<circle cx="346.64" cy="376.59" r="1.56" fill="#ff00cc"/>
<circle cx="363.26" cy="378.14" r="1.56" fill="#ff00cc"/>
<circle cx="379.88" cy="371.76" r="1.56" fill="#ff00cc"/>
<circle cx="396.50" cy="369.20" r="1.56" fill="#ff00cc"/>
<circle cx="413.12" cy="371.43" r="1.56" fill="#ff00cc"/>
<circle cx="429.74" cy="376.38" r="1.56" fill="#ff00cc"/>
<circle cx="446.36" cy="382.13" r="1.56" fill="#ff00cc"/>
<circle cx="462.98" cy="380.85" r="1.56" fill="#ff00cc"/>
<circle cx="479.60" cy="385.28" r="1.56" fill="#ff00cc"/>
<circle cx="496.22" cy="387.02" r="1.56" fill="#ff00cc"/>
<circle cx="512.84" cy="387.69" r="1.56" fill="#ff00cc"/>
<circle cx="529.46" cy="389.08" r="1.56" fill="#ff00cc"/>
<polyline points="313.40,371.74 330.02,375.50 346.64,372.78 363.26,375.53 379.88,370.61 396.50,371.83 413.12,371.10 429.74,375.63 446.36,381.26 462.98,379.31 479.60,382.96 496.22,384.84 512.84,385.17 529.46,386.84" fill="none" stroke="#0000ff" stroke-width="0.8"/>
<polygon points="313.40,369.94 315.20,371.74 313.40,373.54 311.60,371.74" fill="#0000ff"/>
<polygon points="330.02,373.70 331.82,375.50 330.02,377.30 328.22,375.50" fill="#0000ff"/>
<polygon points="346.64,370.98 348.44,372.78 346.64,374.58 344.84,372.78" fill="#0000ff"/>
<polygon points="363.26,373.73 365.06,375.53 363.26,377.33 361.46,375.53" fill="#0000ff"/>
<polygon points="379.88,368.81 381.68,370.61 379.88,372.41 378.08,370.61" fill="#0000ff"/>
<polygon points="396.50,370.03 398.30,371.83 396.50,373.63 394.70,371.83" fill="#0000ff"/>
<polygon points="413.12,369.30 414.92,371.10 413.12,372.90 411.32,371.10" fill="#0000ff"/>
<polygon points="429.74,373.83 431.54,375.63 429.74,377.43 427.94,375.63" fill="#0000ff"/>
<polygon points="446.36,379.46 448.16,381.26 446.36,383.06 444.56,381.26" fill="#0000ff"/>
<polygon points="462.98,377.51 464.78,379.31 462.98,381.11 461.18,379.31" fill="#0000ff"/>
<polygon points="479.60,381.16 481.40,382.96 479.60,384.76 477.80,382.96" fill="#0000ff"/>
<polygon points="496.22,383.04 498.02,384.84 496.22,386.64 494.42,384.84" fill="#0000ff"/>
<polygon points="512.84,383.37 514.64,385.17 512.84,386.97 511.04,385.17" fill="#0000ff"/>
<polygon points="529.46,385.04 531.26,386.84 529.46,388.64 527.66,386.84" fill="#0000ff"/>
<polyline points="313.40,370.31 330.02,373.69 346.64,370.18 363.26,372.42 379.88,366.10 396.50,364.01 413.12,367.30 429.74,373.26 446.36,381.26 462.98,379.24 479.60,382.60 496.22,385.33 512.84,385.56 529.46,387.14" fill="none" stroke="#7030a0" stroke-width="0.8"/>
<circle cx="313.40" cy="370.31" r="1.56" fill="#7030a0"/>
<circle cx="330.02" cy="373.69" r="1.56" fill="#7030a0"/>
<circle cx="346.64" cy="370.18" r="1.56" fill="#7030a0"/>
<circle cx="363.26" cy="372.42" r="1.56" fill="#7030a0"/>
<circle cx="379.88" cy="366.10" r="1.56" fill="#7030a0"/>
<circle cx="396.50" cy="364.01" r="1.56" fill="#7030a0"/>
<circle cx="413.12" cy="367.30" r="1.56" fill="#7030a0"/>
<circle cx="429.74" cy="373.26" r="1.56" fill="#7030a0"/>
<circle cx="446.36" cy="381.26" r="1.56" fill="#7030a0"/>
<circle cx="462.98" cy="379.24" r="1.56" fill="#7030a0"/>
<circle cx="479.60" cy="382.60" r="1.56" fill="#7030a0"/>
<circle cx="496.22" cy="385.33" r="1.56" fill="#7030a0"/>
<circle cx="512.84" cy="385.56" r="1.56" fill="#7030a0"/>
<circle cx="529.46" cy="387.14" r="1.56" fill="#7030a0"/>
<polyline points="313.40,367.02 330.02,371.95 346.64,367.26 363.26,369.17 379.88,360.95 396.50,356.91 413.12,360.35 429.74,366.97 446.36,375.44 462.98,374.16 479.60,379.80 496.22,382.72 512.84,383.76 529.46,385.33" fill="none" stroke="#ffb000" stroke-width="0.8"/>
<polygon points="313.40,365.22 315.20,368.46 311.60,368.46" fill="#ffb000"/>
<polygon points="330.02,370.15 331.82,373.39 328.22,373.39" fill="#ffb000"/>
<polygon points="346.64,365.46 348.44,368.70 344.84,368.70" fill="#ffb000"/>
<polygon points="363.26,367.37 365.06,370.61 361.46,370.61" fill="#ffb000"/>
<polygon points="379.88,359.15 381.68,362.39 378.08,362.39" fill="#ffb000"/>
<polygon points="396.50,355.11 398.30,358.35 394.70,358.35" fill="#ffb000"/>
<polygon points="413.12,358.55 414.92,361.79 411.32,361.79" fill="#ffb000"/>
<polygon points="429.74,365.17 431.54,368.41 427.94,368.41" fill="#ffb000"/>
<polygon points="446.36,373.64 448.16,376.88 444.56,376.88" fill="#ffb000"/>
<polygon points="462.98,372.36 464.78,375.60 461.18,375.60" fill="#ffb000"/>
<polygon points="479.60,378.00 481.40,381.24 477.80,381.24" fill="#ffb000"/>
<polygon points="496.22,380.92 498.02,384.16 494.42,384.16" fill="#ffb000"/>
<polygon points="512.84,381.96 514.64,385.20 511.04,385.20" fill="#ffb000"/>
<polygon points="529.46,383.53 531.26,386.77 527.66,386.77" fill="#ffb000"/>
<polyline points="313.40,339.25 330.02,346.97 346.64,353.07 363.26,357.80 379.88,352.08 396.50,357.36 413.12,353.21 429.74,359.52 446.36,367.51 462.98,361.62 479.60,367.03 496.22,368.77 512.84,369.59 529.46,372.35" fill="none" stroke="#ff0000" stroke-width="0.8"/>
<circle cx="313.40" cy="339.25" r="1.56" fill="#ff0000"/>
<circle cx="330.02" cy="346.97" r="1.56" fill="#ff0000"/>
<circle cx="346.64" cy="353.07" r="1.56" fill="#ff0000"/>
<circle cx="363.26" cy="357.80" r="1.56" fill="#ff0000"/>
<circle cx="379.88" cy="352.08" r="1.56" fill="#ff0000"/>
<circle cx="396.50" cy="357.36" r="1.56" fill="#ff0000"/>
<circle cx="413.12" cy="353.21" r="1.56" fill="#ff0000"/>
<circle cx="429.74" cy="359.52" r="1.56" fill="#ff0000"/>
<circle cx="446.36" cy="367.51" r="1.56" fill="#ff0000"/>
<circle cx="462.98" cy="361.62" r="1.56" fill="#ff0000"/>
<circle cx="479.60" cy="367.03" r="1.56" fill="#ff0000"/>
<circle cx="496.22" cy="368.77" r="1.56" fill="#ff0000"/>
<circle cx="512.84" cy="369.59" r="1.56" fill="#ff0000"/>
<circle cx="529.46" cy="372.35" r="1.56" fill="#ff0000"/>
<polyline points="313.40,326.92 330.02,335.59 346.64,343.26 363.26,349.25 379.88,341.85 396.50,347.56 413.12,343.84 429.74,354.31 446.36,366.53 462.98,365.03 479.60,372.02 496.22,376.17 512.84,377.32 529.46,380.78" fill="none" stroke="#333333" stroke-width="0.8"/>
<path d="M311.48,325.00L315.32,328.84M315.32,325.00L311.48,328.84" stroke="#333333" stroke-width="1.0"/>
<path d="M328.10,333.67L331.94,337.51M331.94,333.67L328.10,337.51" stroke="#333333" stroke-width="1.0"/>
<path d="M344.72,341.34L348.56,345.18M348.56,341.34L344.72,345.18" stroke="#333333" stroke-width="1.0"/>
<path d="M361.34,347.33L365.18,351.17M365.18,347.33L361.34,351.17" stroke="#333333" stroke-width="1.0"/>
<path d="M377.96,339.93L381.80,343.77M381.80,339.93L377.96,343.77" stroke="#333333" stroke-width="1.0"/>
<path d="M394.58,345.64L398.42,349.48M398.42,345.64L394.58,349.48" stroke="#333333" stroke-width="1.0"/>
<path d="M411.20,341.92L415.04,345.76M415.04,341.92L411.20,345.76" stroke="#333333" stroke-width="1.0"/>
<path d="M427.82,352.39L431.66,356.23M431.66,352.39L427.82,356.23" stroke="#333333" stroke-width="1.0"/>
<path d="M444.44,364.61L448.28,368.45M448.28,364.61L444.44,368.45" stroke="#333333" stroke-width="1.0"/>
<path d="M461.06,363.11L464.90,366.95M464.90,363.11L461.06,366.95" stroke="#333333" stroke-width="1.0"/>
<path d="M477.68,370.10L481.52,373.94M481.52,370.10L477.68,373.94" stroke="#333333" stroke-width="1.0"/>
<path d="M494.30,374.25L498.14,378.09M498.14,374.25L494.30,378.09" stroke="#333333" stroke-width="1.0"/>
<path d="M510.92,375.40L514.76,379.24M514.76,375.40L510.92,379.24" stroke="#333333" stroke-width="1.0"/>
<path d="M527.54,378.86L531.38,382.70M531.38,378.86L527.54,382.70" stroke="#333333" stroke-width="1.0"/>
<polyline points="313.40,310.29 330.02,321.20 346.64,330.44 363.26,337.59 379.88,327.33 396.50,329.51 413.12,328.50 429.74,340.37 446.36,355.44 462.98,352.98 479.60,362.47 496.22,367.93 512.84,369.59 529.46,374.41" fill="none" stroke="#22ee22" stroke-width="0.8"/>
<polygon points="313.40,308.49 315.20,311.73 311.60,311.73" fill="#22ee22"/>
<polygon points="330.02,319.40 331.82,322.64 328.22,322.64" fill="#22ee22"/>
<polygon points="346.64,328.64 348.44,331.88 344.84,331.88" fill="#22ee22"/>
<polygon points="363.26,335.79 365.06,339.03 361.46,339.03" fill="#22ee22"/>
<polygon points="379.88,325.53 381.68,328.77 378.08,328.77" fill="#22ee22"/>
<polygon points="396.50,327.71 398.30,330.95 394.70,330.95" fill="#22ee22"/>
<polygon points="413.12,326.70 414.92,329.94 411.32,329.94" fill="#22ee22"/>
<polygon points="429.74,338.57 431.54,341.81 427.94,341.81" fill="#22ee22"/>
<polygon points="446.36,353.64 448.16,356.88 444.56,356.88" fill="#22ee22"/>
<polygon points="462.98,351.18 464.78,354.42 461.18,354.42" fill="#22ee22"/>
<polygon points="479.60,360.67 481.40,363.91 477.80,363.91" fill="#22ee22"/>
<polygon points="496.22,366.13 498.02,369.37 494.42,369.37" fill="#22ee22"/>
<polygon points="512.84,367.79 514.64,371.03 511.04,371.03" fill="#22ee22"/>
<polygon points="529.46,372.61 531.26,375.85 527.66,375.85" fill="#22ee22"/>
<text x="315.90" y="411.50" font-size="5.2" text-anchor="middle" dominant-baseline="central" transform="rotate(45 315.90 411.50)" fill="#262626" stroke="#262626" stroke-width="0.25">La</text>
<text x="332.52" y="411.50" font-size="5.2" text-anchor="middle" dominant-baseline="central" transform="rotate(45 332.52 411.50)" fill="#262626" stroke="#262626" stroke-width="0.25">Ce</text>
<text x="349.14" y="411.50" font-size="5.2" text-anchor="middle" dominant-baseline="central" transform="rotate(45 349.14 411.50)" fill="#262626" stroke="#262626" stroke-width="0.25">Pr</text>
<text x="365.76" y="411.50" font-size="5.2" text-anchor="middle" dominant-baseline="central" transform="rotate(45 365.76 411.50)" fill="#262626" stroke="#262626" stroke-width="0.25">Nd</text>
<text x="382.38" y="411.50" font-size="5.2" text-anchor="middle" dominant-baseline="central" transform="rotate(45 382.38 411.50)" fill="#262626" stroke="#262626" stroke-width="0.25">Sm</text>
<text x="399.00" y="411.50" font-size="5.2" text-anchor="middle" dominant-baseline="central" transform="rotate(45 399.00 411.50)" fill="#262626" stroke="#262626" stroke-width="0.25">Eu</text>
<text x="415.62" y="411.50" font-size="5.2" text-anchor="middle" dominant-baseline="central" transform="rotate(45 415.62 411.50)" fill="#262626" stroke="#262626" stroke-width="0.25">Gd</text>
<text x="432.24" y="411.50" font-size="5.2" text-anchor="middle" dominant-baseline="central" transform="rotate(45 432.24 411.50)" fill="#262626" stroke="#262626" stroke-width="0.25">Tb</text>
<text x="448.86" y="411.50" font-size="5.2" text-anchor="middle" dominant-baseline="central" transform="rotate(45 448.86 411.50)" fill="#262626" stroke="#262626" stroke-width="0.25">Dy</text>
<text x="465.48" y="411.50" font-size="5.2" text-anchor="middle" dominant-baseline="central" transform="rotate(45 465.48 411.50)" fill="#262626" stroke="#262626" stroke-width="0.25">Ho</text>
<text x="482.10" y="411.50" font-size="5.2" text-anchor="middle" dominant-baseline="central" transform="rotate(45 482.10 411.50)" fill="#262626" stroke="#262626" stroke-width="0.25">Er</text>
<text x="498.72" y="411.50" font-size="5.2" text-anchor="middle" dominant-baseline="central" transform="rotate(45 498.72 411.50)" fill="#262626" stroke="#262626" stroke-width="0.25">Tm</text>
<text x="515.34" y="411.50" font-size="5.2" text-anchor="middle" dominant-baseline="central" transform="rotate(45 515.34 411.50)" fill="#262626" stroke="#262626" stroke-width="0.25">Yb</text>
<text x="531.96" y="411.50" font-size="5.2" text-anchor="middle" dominant-baseline="central" transform="rotate(45 531.96 411.50)" fill="#262626" stroke="#262626" stroke-width="0.25">Lu</text>
<path d="M317,302.7h11" stroke="#ff0000" stroke-width="0.8"/>
<circle cx="322.50" cy="302.70" r="1.56" fill="#ff0000"/>
<text x="329.2" y="304.67" font-size="4.7" fill="#262626" stroke="#262626" stroke-width="0" font-style="italic" font-family='"Liberation Sans", sans-serif'>Zn1</text>
<path d="M343,302.7h11" stroke="#0000ff" stroke-width="0.8"/>
<polygon points="348.50,300.90 350.30,302.70 348.50,304.50 346.70,302.70" fill="#0000ff"/>
<text x="355.2" y="304.67" font-size="4.7" fill="#262626" stroke="#262626" stroke-width="0" font-style="italic" font-family='"Liberation Sans", sans-serif'>Zn2</text>
<path d="M370,302.7h11" stroke="#22ee22" stroke-width="0.8"/>
<polygon points="375.50,300.90 377.30,304.14 373.70,304.14" fill="#22ee22"/>
<text x="382.2" y="304.67" font-size="4.7" fill="#262626" stroke="#262626" stroke-width="0" font-style="italic" font-family='"Liberation Sans", sans-serif'>Zn4</text>
<path d="M394,302.7h11" stroke="#333333" stroke-width="0.8"/>
<path d="M397.58,300.78L401.42,304.62M401.42,300.78L397.58,304.62" stroke="#333333" stroke-width="1.0"/>
<text x="406.2" y="304.67" font-size="4.7" fill="#262626" stroke="#262626" stroke-width="0" font-style="italic" font-family='"Liberation Sans", sans-serif'>Zn3</text>
<path d="M420.2,302.7h11" stroke="#8b4513" stroke-width="0.8"/>
<rect x="423.90" y="300.90" width="3.60" height="3.60" fill="#8b4513"/>
<text x="432.4" y="304.67" font-size="4.7" fill="#262626" stroke="#262626" stroke-width="0" font-style="italic" font-family='"Liberation Sans", sans-serif'>Zn5</text>
<path d="M446.5,302.7h11" stroke="#7030a0" stroke-width="0.8"/>
<circle cx="452.00" cy="302.70" r="1.56" fill="#7030a0"/>
<text x="458.7" y="304.67" font-size="4.7" fill="#262626" stroke="#262626" stroke-width="0" font-style="italic" font-family='"Liberation Sans", sans-serif'>Zn6</text>
<path d="M472,302.7h11" stroke="#ff00cc" stroke-width="0.8"/>
<circle cx="477.50" cy="302.70" r="1.56" fill="#ff00cc"/>
<text x="484.2" y="304.67" font-size="4.7" fill="#262626" stroke="#262626" stroke-width="0" font-style="italic" font-family='"Liberation Sans", sans-serif'>Zn7</text>
<path d="M497.5,302.7h11" stroke="#ffb000" stroke-width="0.8"/>
<polygon points="503.00,300.90 504.80,304.14 501.20,304.14" fill="#ffb000"/>
<text x="509.7" y="304.67" font-size="4.7" fill="#262626" stroke="#262626" stroke-width="0" font-style="italic" font-family='"Liberation Sans", sans-serif'>Zn8</text>
<text x="529.3" y="299.2" font-size="7.8" font-weight="bold" text-anchor="middle" dominant-baseline="central" fill="#111" font-family='"Liberation Sans", sans-serif'>f</text>
<text x="287.7" y="347.8" font-size="5.6" text-anchor="middle" dominant-baseline="central" transform="rotate(-90 287.7 347.8)" fill="#262626" stroke="#262626" stroke-width="0.08" font-weight="normal">Sample/NASC</text>
<text x="423.3" y="418.6" font-size="4.6" font-weight="bold" text-anchor="middle" dominant-baseline="central" fill="#262626" stroke="#262626" stroke-width="0.12">REEs</text>
<path d="M6.4,427.1H267.8M6.4,566.9H267.8" fill="none" stroke="#e0e0e0" stroke-width="1.5"/>
<path d="M7,427.1V566.9M267.2,427.1V566.9" fill="none" stroke="#e6e6e6" stroke-width="1.1"/>
<path d="M27.4,432.9V544.3" fill="none" stroke="#a0a0a0" stroke-width="1.0"/>
<path d="M26.9,544.3H257.2" fill="none" stroke="#6e6e6e" stroke-width="1.1"/>
<path d="M25.9,433.40H27.4" stroke="#8c8c8c" stroke-width="0.6"/>
<text x="22.8" y="435.42" font-size="5.6" text-anchor="end" fill="#3a3a3a" stroke="#3a3a3a" stroke-width="0.0">2.5</text>
<path d="M25.9,455.58H27.4" stroke="#8c8c8c" stroke-width="0.6"/>
<text x="22.8" y="457.60" font-size="5.6" text-anchor="end" fill="#3a3a3a" stroke="#3a3a3a" stroke-width="0.0">2.0</text>
<path d="M25.9,477.76H27.4" stroke="#8c8c8c" stroke-width="0.6"/>
<text x="22.8" y="479.78" font-size="5.6" text-anchor="end" fill="#3a3a3a" stroke="#3a3a3a" stroke-width="0.0">1.5</text>
<path d="M25.9,499.94H27.4" stroke="#8c8c8c" stroke-width="0.6"/>
<text x="22.8" y="501.96" font-size="5.6" text-anchor="end" fill="#3a3a3a" stroke="#3a3a3a" stroke-width="0.0">1.0</text>
<path d="M25.9,522.12H27.4" stroke="#8c8c8c" stroke-width="0.6"/>
<text x="22.8" y="524.14" font-size="5.6" text-anchor="end" fill="#3a3a3a" stroke="#3a3a3a" stroke-width="0.0">0.5</text>
<path d="M25.9,544.30H27.4" stroke="#8c8c8c" stroke-width="0.6"/>
<text x="22.8" y="546.32" font-size="5.6" text-anchor="end" fill="#3a3a3a" stroke="#3a3a3a" stroke-width="0.0">0.0</text>
<polyline points="35.60,530.47 52.06,532.07 68.52,531.52 84.98,531.13 101.44,531.26 117.90,531.87 134.36,529.52 150.82,531.24 167.28,532.71 183.74,533.97 200.20,534.78 216.66,535.84 233.12,536.76 249.58,536.49" fill="none" stroke="#2f5f1f" stroke-width="0.8"/>
<rect x="33.80" y="528.67" width="3.60" height="3.60" fill="#2f5f1f"/>
<rect x="50.26" y="530.27" width="3.60" height="3.60" fill="#2f5f1f"/>
<rect x="66.72" y="529.72" width="3.60" height="3.60" fill="#2f5f1f"/>
<rect x="83.18" y="529.33" width="3.60" height="3.60" fill="#2f5f1f"/>
<rect x="99.64" y="529.46" width="3.60" height="3.60" fill="#2f5f1f"/>
<rect x="116.10" y="530.07" width="3.60" height="3.60" fill="#2f5f1f"/>
<rect x="132.56" y="527.72" width="3.60" height="3.60" fill="#2f5f1f"/>
<rect x="149.02" y="529.44" width="3.60" height="3.60" fill="#2f5f1f"/>
<rect x="165.48" y="530.91" width="3.60" height="3.60" fill="#2f5f1f"/>
<rect x="181.94" y="532.17" width="3.60" height="3.60" fill="#2f5f1f"/>
<rect x="198.40" y="532.98" width="3.60" height="3.60" fill="#2f5f1f"/>
<rect x="214.86" y="534.04" width="3.60" height="3.60" fill="#2f5f1f"/>
<rect x="231.32" y="534.96" width="3.60" height="3.60" fill="#2f5f1f"/>
<rect x="247.78" y="534.69" width="3.60" height="3.60" fill="#2f5f1f"/>
<polyline points="35.60,526.69 52.06,527.48 68.52,525.66 84.98,526.69 101.44,526.49 117.90,529.93 134.36,526.42 150.82,530.76 167.28,532.71 183.74,533.97 200.20,534.78 216.66,535.84 233.12,536.99 249.58,536.74" fill="none" stroke="#a0522d" stroke-width="0.8"/>
<polygon points="35.60,524.89 37.40,528.13 33.80,528.13" fill="#a0522d"/>
<polygon points="52.06,525.68 53.86,528.92 50.26,528.92" fill="#a0522d"/>
<polygon points="68.52,523.86 70.32,527.10 66.72,527.10" fill="#a0522d"/>
<polygon points="84.98,524.89 86.78,528.13 83.18,528.13" fill="#a0522d"/>
<polygon points="101.44,524.69 103.24,527.93 99.64,527.93" fill="#a0522d"/>
<polygon points="117.90,528.13 119.70,531.37 116.10,531.37" fill="#a0522d"/>
<polygon points="134.36,524.62 136.16,527.86 132.56,527.86" fill="#a0522d"/>
<polygon points="150.82,528.96 152.62,532.20 149.02,532.20" fill="#a0522d"/>
<polygon points="167.28,530.91 169.08,534.15 165.48,534.15" fill="#a0522d"/>
<polygon points="183.74,532.17 185.54,535.41 181.94,535.41" fill="#a0522d"/>
<polygon points="200.20,532.98 202.00,536.22 198.40,536.22" fill="#a0522d"/>
<polygon points="216.66,534.04 218.46,537.28 214.86,537.28" fill="#a0522d"/>
<polygon points="233.12,535.19 234.92,538.43 231.32,538.43" fill="#a0522d"/>
<polygon points="249.58,534.94 251.38,538.18 247.78,538.18" fill="#a0522d"/>
<polyline points="35.60,525.02 52.06,526.09 68.52,525.58 84.98,526.11 101.44,527.64 117.90,530.86 134.36,526.42 150.82,531.24 167.28,533.14 183.74,534.21 200.20,535.02 216.66,536.31 233.12,537.22 249.58,536.98" fill="none" stroke="#7030a0" stroke-width="0.8"/>
<circle cx="35.60" cy="525.02" r="1.56" fill="#7030a0"/>
<circle cx="52.06" cy="526.09" r="1.56" fill="#7030a0"/>
<circle cx="68.52" cy="525.58" r="1.56" fill="#7030a0"/>
<circle cx="84.98" cy="526.11" r="1.56" fill="#7030a0"/>
<circle cx="101.44" cy="527.64" r="1.56" fill="#7030a0"/>
<circle cx="117.90" cy="530.86" r="1.56" fill="#7030a0"/>
<circle cx="134.36" cy="526.42" r="1.56" fill="#7030a0"/>
<circle cx="150.82" cy="531.24" r="1.56" fill="#7030a0"/>
<circle cx="167.28" cy="533.14" r="1.56" fill="#7030a0"/>
<circle cx="183.74" cy="534.21" r="1.56" fill="#7030a0"/>
<circle cx="200.20" cy="535.02" r="1.56" fill="#7030a0"/>
<circle cx="216.66" cy="536.31" r="1.56" fill="#7030a0"/>
<circle cx="233.12" cy="537.22" r="1.56" fill="#7030a0"/>
<circle cx="249.58" cy="536.98" r="1.56" fill="#7030a0"/>
<polyline points="35.60,523.34 52.06,523.92 68.52,523.14 84.98,523.93 101.44,525.00 117.90,528.13 134.36,524.87 150.82,528.83 167.28,531.42 183.74,532.33 200.20,533.11 216.66,534.66 233.12,535.85 249.58,535.76" fill="none" stroke="#000000" stroke-width="0.8"/>
<polygon points="35.60,521.54 37.40,524.78 33.80,524.78" fill="#000000"/>
<polygon points="52.06,522.12 53.86,525.36 50.26,525.36" fill="#000000"/>
<polygon points="68.52,521.34 70.32,524.58 66.72,524.58" fill="#000000"/>
<polygon points="84.98,522.13 86.78,525.37 83.18,525.37" fill="#000000"/>
<polygon points="101.44,523.20 103.24,526.44 99.64,526.44" fill="#000000"/>
<polygon points="117.90,526.33 119.70,529.57 116.10,529.57" fill="#000000"/>
<polygon points="134.36,523.07 136.16,526.31 132.56,526.31" fill="#000000"/>
<polygon points="150.82,527.03 152.62,530.27 149.02,530.27" fill="#000000"/>
<polygon points="167.28,529.62 169.08,532.86 165.48,532.86" fill="#000000"/>
<polygon points="183.74,530.53 185.54,533.77 181.94,533.77" fill="#000000"/>
<polygon points="200.20,531.31 202.00,534.55 198.40,534.55" fill="#000000"/>
<polygon points="216.66,532.86 218.46,536.10 214.86,536.10" fill="#000000"/>
<polygon points="233.12,534.05 234.92,537.29 231.32,537.29" fill="#000000"/>
<polygon points="249.58,533.96 251.38,537.20 247.78,537.20" fill="#000000"/>
<polyline points="35.60,523.34 52.06,523.49 68.52,523.14 84.98,523.93 101.44,523.62 117.90,526.33 134.36,520.01 150.82,522.54 167.28,526.26 183.74,526.93 200.20,526.93 216.66,528.78 233.12,530.59 249.58,530.39" fill="none" stroke="#22dd22" stroke-width="0.8"/>
<polygon points="35.60,521.54 37.40,524.78 33.80,524.78" fill="#22dd22"/>
<polygon points="52.06,521.69 53.86,524.93 50.26,524.93" fill="#22dd22"/>
<polygon points="68.52,521.34 70.32,524.58 66.72,524.58" fill="#22dd22"/>
<polygon points="84.98,522.13 86.78,525.37 83.18,525.37" fill="#22dd22"/>
<polygon points="101.44,521.82 103.24,525.06 99.64,525.06" fill="#22dd22"/>
<polygon points="117.90,524.53 119.70,527.77 116.10,527.77" fill="#22dd22"/>
<polygon points="134.36,518.21 136.16,521.45 132.56,521.45" fill="#22dd22"/>
<polygon points="150.82,520.74 152.62,523.98 149.02,523.98" fill="#22dd22"/>
<polygon points="167.28,524.46 169.08,527.70 165.48,527.70" fill="#22dd22"/>
<polygon points="183.74,525.13 185.54,528.37 181.94,528.37" fill="#22dd22"/>
<polygon points="200.20,525.13 202.00,528.37 198.40,528.37" fill="#22dd22"/>
<polygon points="216.66,526.98 218.46,530.22 214.86,530.22" fill="#22dd22"/>
<polygon points="233.12,528.79 234.92,532.03 231.32,532.03" fill="#22dd22"/>
<polygon points="249.58,528.59 251.38,531.83 247.78,531.83" fill="#22dd22"/>
<polyline points="35.60,513.70 52.06,514.47 68.52,515.00 84.98,517.24 101.44,520.17 117.90,526.59 134.36,520.48 150.82,526.07 167.28,529.49 183.74,531.16 200.20,531.92 216.66,533.72 233.12,535.39 249.58,535.03" fill="none" stroke="#00ee00" stroke-width="0.8"/>
<rect x="34.16" y="512.26" width="2.88" height="2.88" fill="#00ee00"/>
<rect x="50.62" y="513.03" width="2.88" height="2.88" fill="#00ee00"/>
<rect x="67.08" y="513.56" width="2.88" height="2.88" fill="#00ee00"/>
<rect x="83.54" y="515.80" width="2.88" height="2.88" fill="#00ee00"/>
<rect x="100.00" y="518.73" width="2.88" height="2.88" fill="#00ee00"/>
<rect x="116.46" y="525.15" width="2.88" height="2.88" fill="#00ee00"/>
<rect x="132.92" y="519.04" width="2.88" height="2.88" fill="#00ee00"/>
<rect x="149.38" y="524.63" width="2.88" height="2.88" fill="#00ee00"/>
<rect x="165.84" y="528.05" width="2.88" height="2.88" fill="#00ee00"/>
<rect x="182.30" y="529.72" width="2.88" height="2.88" fill="#00ee00"/>
<rect x="198.76" y="530.48" width="2.88" height="2.88" fill="#00ee00"/>
<rect x="215.22" y="532.28" width="2.88" height="2.88" fill="#00ee00"/>
<rect x="231.68" y="533.95" width="2.88" height="2.88" fill="#00ee00"/>
<rect x="248.14" y="533.59" width="2.88" height="2.88" fill="#00ee00"/>
<polyline points="35.60,517.47 52.06,519.15 68.52,517.68 84.98,518.76 101.44,519.02 117.90,524.57 134.36,519.18 150.82,524.96 167.28,528.20 183.74,530.22 200.20,530.97 216.66,532.78 233.12,534.25 249.58,534.05" fill="none" stroke="#e6007e" stroke-width="0.8"/>
<circle cx="35.60" cy="517.47" r="1.56" fill="#e6007e"/>
<circle cx="52.06" cy="519.15" r="1.56" fill="#e6007e"/>
<circle cx="68.52" cy="517.68" r="1.56" fill="#e6007e"/>
<circle cx="84.98" cy="518.76" r="1.56" fill="#e6007e"/>
<circle cx="101.44" cy="519.02" r="1.56" fill="#e6007e"/>
<circle cx="117.90" cy="524.57" r="1.56" fill="#e6007e"/>
<circle cx="134.36" cy="519.18" r="1.56" fill="#e6007e"/>
<circle cx="150.82" cy="524.96" r="1.56" fill="#e6007e"/>
<circle cx="167.28" cy="528.20" r="1.56" fill="#e6007e"/>
<circle cx="183.74" cy="530.22" r="1.56" fill="#e6007e"/>
<circle cx="200.20" cy="530.97" r="1.56" fill="#e6007e"/>
<circle cx="216.66" cy="532.78" r="1.56" fill="#e6007e"/>
<circle cx="233.12" cy="534.25" r="1.56" fill="#e6007e"/>
<circle cx="249.58" cy="534.05" r="1.56" fill="#e6007e"/>
<polyline points="35.60,514.96 52.06,515.68 68.52,514.59 84.98,516.29 101.44,517.07 117.90,522.99 134.36,516.96 150.82,523.94 167.28,527.12 183.74,528.81 200.20,530.02 216.66,532.07 233.12,533.56 249.58,533.56" fill="none" stroke="#ff3399" stroke-width="0.8"/>
<path d="M33.92,514.96L37.28,514.96M35.60,513.28L35.60,516.64" stroke="#ff3399" stroke-width="0.8"/>
<path d="M50.38,515.68L53.74,515.68M52.06,514.00L52.06,517.36" stroke="#ff3399" stroke-width="0.8"/>
<path d="M66.84,514.59L70.20,514.59M68.52,512.91L68.52,516.27" stroke="#ff3399" stroke-width="0.8"/>
<path d="M83.30,516.29L86.66,516.29M84.98,514.61L84.98,517.97" stroke="#ff3399" stroke-width="0.8"/>
<path d="M99.76,517.07L103.12,517.07M101.44,515.39L101.44,518.75" stroke="#ff3399" stroke-width="0.8"/>
<path d="M116.22,522.99L119.58,522.99M117.90,521.31L117.90,524.67" stroke="#ff3399" stroke-width="0.8"/>
<path d="M132.68,516.96L136.04,516.96M134.36,515.28L134.36,518.64" stroke="#ff3399" stroke-width="0.8"/>
<path d="M149.14,523.94L152.50,523.94M150.82,522.26L150.82,525.62" stroke="#ff3399" stroke-width="0.8"/>
<path d="M165.60,527.12L168.96,527.12M167.28,525.44L167.28,528.80" stroke="#ff3399" stroke-width="0.8"/>
<path d="M182.06,528.81L185.42,528.81M183.74,527.13L183.74,530.49" stroke="#ff3399" stroke-width="0.8"/>
<path d="M198.52,530.02L201.88,530.02M200.20,528.34L200.20,531.70" stroke="#ff3399" stroke-width="0.8"/>
<path d="M214.98,532.07L218.34,532.07M216.66,530.39L216.66,533.75" stroke="#ff3399" stroke-width="0.8"/>
<path d="M231.44,533.56L234.80,533.56M233.12,531.88L233.12,535.24" stroke="#ff3399" stroke-width="0.8"/>
<path d="M247.90,533.56L251.26,533.56M249.58,531.88L249.58,535.24" stroke="#ff3399" stroke-width="0.8"/>
<polyline points="35.60,522.50 52.06,523.31 68.52,522.40 84.98,522.77 101.44,521.32 117.90,521.84 134.36,515.36 150.82,520.32 167.28,523.00 183.74,524.12 200.20,524.55 216.66,526.43 233.12,528.31 249.58,527.71" fill="none" stroke="#262626" stroke-width="0.8"/>
<rect x="34.16" y="521.06" width="2.88" height="2.88" fill="#262626"/>
<rect x="50.62" y="521.87" width="2.88" height="2.88" fill="#262626"/>
<rect x="67.08" y="520.96" width="2.88" height="2.88" fill="#262626"/>
<rect x="83.54" y="521.33" width="2.88" height="2.88" fill="#262626"/>
<rect x="100.00" y="519.88" width="2.88" height="2.88" fill="#262626"/>
<rect x="116.46" y="520.40" width="2.88" height="2.88" fill="#262626"/>
<rect x="132.92" y="513.92" width="2.88" height="2.88" fill="#262626"/>
<rect x="149.38" y="518.88" width="2.88" height="2.88" fill="#262626"/>
<rect x="165.84" y="521.56" width="2.88" height="2.88" fill="#262626"/>
<rect x="182.30" y="522.68" width="2.88" height="2.88" fill="#262626"/>
<rect x="198.76" y="523.11" width="2.88" height="2.88" fill="#262626"/>
<rect x="215.22" y="524.99" width="2.88" height="2.88" fill="#262626"/>
<rect x="231.68" y="526.87" width="2.88" height="2.88" fill="#262626"/>
<rect x="248.14" y="526.27" width="2.88" height="2.88" fill="#262626"/>
<polyline points="35.60,506.57 52.06,511.61 68.52,509.30 84.98,511.42 101.44,513.62 117.90,521.16 134.36,512.47 150.82,520.12 167.28,523.26 183.74,524.59 200.20,525.74 216.66,527.37 233.12,529.68 249.58,529.17" fill="none" stroke="#3a76b0" stroke-width="0.8"/>
<polygon points="35.60,504.77 37.40,506.57 35.60,508.37 33.80,506.57" fill="#3a76b0"/>
<polygon points="52.06,509.81 53.86,511.61 52.06,513.41 50.26,511.61" fill="#3a76b0"/>
<polygon points="68.52,507.50 70.32,509.30 68.52,511.10 66.72,509.30" fill="#3a76b0"/>
<polygon points="84.98,509.62 86.78,511.42 84.98,513.22 83.18,511.42" fill="#3a76b0"/>
<polygon points="101.44,511.82 103.24,513.62 101.44,515.42 99.64,513.62" fill="#3a76b0"/>
<polygon points="117.90,519.36 119.70,521.16 117.90,522.96 116.10,521.16" fill="#3a76b0"/>
<polygon points="134.36,510.67 136.16,512.47 134.36,514.27 132.56,512.47" fill="#3a76b0"/>
<polygon points="150.82,518.32 152.62,520.12 150.82,521.92 149.02,520.12" fill="#3a76b0"/>
<polygon points="167.28,521.46 169.08,523.26 167.28,525.06 165.48,523.26" fill="#3a76b0"/>
<polygon points="183.74,522.79 185.54,524.59 183.74,526.39 181.94,524.59" fill="#3a76b0"/>
<polygon points="200.20,523.94 202.00,525.74 200.20,527.54 198.40,525.74" fill="#3a76b0"/>
<polygon points="216.66,525.57 218.46,527.37 216.66,529.17 214.86,527.37" fill="#3a76b0"/>
<polygon points="233.12,527.88 234.92,529.68 233.12,531.48 231.32,529.68" fill="#3a76b0"/>
<polygon points="249.58,527.37 251.38,529.17 249.58,530.97 247.78,529.17" fill="#3a76b0"/>
<polyline points="35.60,509.09 52.06,501.20 68.52,507.51 84.98,509.09 101.44,510.69 117.90,518.79 134.36,511.38 150.82,518.72 167.28,523.04 183.74,525.53 200.20,526.69 216.66,529.25 233.12,531.05 249.58,530.88" fill="none" stroke="#c00000" stroke-width="0.8"/>
<polygon points="35.60,507.29 37.40,509.09 35.60,510.89 33.80,509.09" fill="#c00000"/>
<polygon points="52.06,499.40 53.86,501.20 52.06,503.00 50.26,501.20" fill="#c00000"/>
<polygon points="68.52,505.71 70.32,507.51 68.52,509.31 66.72,507.51" fill="#c00000"/>
<polygon points="84.98,507.29 86.78,509.09 84.98,510.89 83.18,509.09" fill="#c00000"/>
<polygon points="101.44,508.89 103.24,510.69 101.44,512.49 99.64,510.69" fill="#c00000"/>
<polygon points="117.90,516.99 119.70,518.79 117.90,520.59 116.10,518.79" fill="#c00000"/>
<polygon points="134.36,509.58 136.16,511.38 134.36,513.18 132.56,511.38" fill="#c00000"/>
<polygon points="150.82,516.92 152.62,518.72 150.82,520.52 149.02,518.72" fill="#c00000"/>
<polygon points="167.28,521.24 169.08,523.04 167.28,524.84 165.48,523.04" fill="#c00000"/>
<polygon points="183.74,523.73 185.54,525.53 183.74,527.33 181.94,525.53" fill="#c00000"/>
<polygon points="200.20,524.89 202.00,526.69 200.20,528.49 198.40,526.69" fill="#c00000"/>
<polygon points="216.66,527.45 218.46,529.25 216.66,531.05 214.86,529.25" fill="#c00000"/>
<polygon points="233.12,529.25 234.92,531.05 233.12,532.85 231.32,531.05" fill="#c00000"/>
<polygon points="249.58,529.08 251.38,530.88 249.58,532.68 247.78,530.88" fill="#c00000"/>
<polyline points="35.60,504.06 52.06,497.12 68.52,504.01 84.98,507.42 101.44,510.69 117.90,519.69 134.36,511.74 150.82,519.16 167.28,523.26 183.74,525.53 200.20,526.69 216.66,529.25 233.12,531.28 249.58,531.13" fill="none" stroke="#ffc000" stroke-width="0.8"/>
<polygon points="35.60,502.26 37.40,505.50 33.80,505.50" fill="#ffc000"/>
<polygon points="52.06,495.32 53.86,498.56 50.26,498.56" fill="#ffc000"/>
<polygon points="68.52,502.21 70.32,505.45 66.72,505.45" fill="#ffc000"/>
<polygon points="84.98,505.62 86.78,508.86 83.18,508.86" fill="#ffc000"/>
<polygon points="101.44,508.89 103.24,512.13 99.64,512.13" fill="#ffc000"/>
<polygon points="117.90,517.89 119.70,521.13 116.10,521.13" fill="#ffc000"/>
<polygon points="134.36,509.94 136.16,513.18 132.56,513.18" fill="#ffc000"/>
<polygon points="150.82,517.36 152.62,520.60 149.02,520.60" fill="#ffc000"/>
<polygon points="167.28,521.46 169.08,524.70 165.48,524.70" fill="#ffc000"/>
<polygon points="183.74,523.73 185.54,526.97 181.94,526.97" fill="#ffc000"/>
<polygon points="200.20,524.89 202.00,528.13 198.40,528.13" fill="#ffc000"/>
<polygon points="216.66,527.45 218.46,530.69 214.86,530.69" fill="#ffc000"/>
<polygon points="233.12,529.48 234.92,532.72 231.32,532.72" fill="#ffc000"/>
<polygon points="249.58,529.33 251.38,532.57 247.78,532.57" fill="#ffc000"/>
<polyline points="35.60,488.97 52.06,490.18 68.52,498.39 84.98,501.38 101.44,504.09 117.90,515.73 134.36,504.51 150.82,512.92 167.28,517.25 183.74,519.43 200.20,520.50 216.66,523.14 233.12,526.02 249.58,526.25" fill="none" stroke="#ff0000" stroke-width="0.8"/>
<circle cx="35.60" cy="488.97" r="1.56" fill="#ff0000"/>
<circle cx="52.06" cy="490.18" r="1.56" fill="#ff0000"/>
<circle cx="68.52" cy="498.39" r="1.56" fill="#ff0000"/>
<circle cx="84.98" cy="501.38" r="1.56" fill="#ff0000"/>
<circle cx="101.44" cy="504.09" r="1.56" fill="#ff0000"/>
<circle cx="117.90" cy="515.73" r="1.56" fill="#ff0000"/>
<circle cx="134.36" cy="504.51" r="1.56" fill="#ff0000"/>
<circle cx="150.82" cy="512.92" r="1.56" fill="#ff0000"/>
<circle cx="167.28" cy="517.25" r="1.56" fill="#ff0000"/>
<circle cx="183.74" cy="519.43" r="1.56" fill="#ff0000"/>
<circle cx="200.20" cy="520.50" r="1.56" fill="#ff0000"/>
<circle cx="216.66" cy="523.14" r="1.56" fill="#ff0000"/>
<circle cx="233.12" cy="526.02" r="1.56" fill="#ff0000"/>
<circle cx="249.58" cy="526.25" r="1.56" fill="#ff0000"/>
<polyline points="35.60,475.55 52.06,476.66 68.52,488.13 84.98,491.56 101.44,495.76 117.90,510.16 134.36,497.27 150.82,508.04 167.28,513.38 183.74,516.14 200.20,517.41 216.66,520.32 233.12,523.05 249.58,522.83" fill="none" stroke="#8b4513" stroke-width="0.8"/>
<rect x="33.80" y="473.75" width="3.60" height="3.60" fill="#8b4513"/>
<rect x="50.26" y="474.86" width="3.60" height="3.60" fill="#8b4513"/>
<rect x="66.72" y="486.33" width="3.60" height="3.60" fill="#8b4513"/>
<rect x="83.18" y="489.76" width="3.60" height="3.60" fill="#8b4513"/>
<rect x="99.64" y="493.96" width="3.60" height="3.60" fill="#8b4513"/>
<rect x="116.10" y="508.36" width="3.60" height="3.60" fill="#8b4513"/>
<rect x="132.56" y="495.47" width="3.60" height="3.60" fill="#8b4513"/>
<rect x="149.02" y="506.24" width="3.60" height="3.60" fill="#8b4513"/>
<rect x="165.48" y="511.58" width="3.60" height="3.60" fill="#8b4513"/>
<rect x="181.94" y="514.34" width="3.60" height="3.60" fill="#8b4513"/>
<rect x="198.40" y="515.61" width="3.60" height="3.60" fill="#8b4513"/>
<rect x="214.86" y="518.52" width="3.60" height="3.60" fill="#8b4513"/>
<rect x="231.32" y="521.25" width="3.60" height="3.60" fill="#8b4513"/>
<rect x="247.78" y="521.03" width="3.60" height="3.60" fill="#8b4513"/>
<polyline points="35.60,438.66 52.06,440.23 68.52,459.24 84.98,466.46 101.44,475.36 117.90,502.98 134.36,479.70 150.82,494.98 167.28,502.86 183.74,506.28 200.20,507.65 216.66,511.62 233.12,515.51 249.58,516.49" fill="none" stroke="#0000ff" stroke-width="0.8"/>
<polygon points="35.60,436.86 37.40,438.66 35.60,440.46 33.80,438.66" fill="#0000ff"/>
<polygon points="52.06,438.43 53.86,440.23 52.06,442.03 50.26,440.23" fill="#0000ff"/>
<polygon points="68.52,457.44 70.32,459.24 68.52,461.04 66.72,459.24" fill="#0000ff"/>
<polygon points="84.98,464.66 86.78,466.46 84.98,468.26 83.18,466.46" fill="#0000ff"/>
<polygon points="101.44,473.56 103.24,475.36 101.44,477.16 99.64,475.36" fill="#0000ff"/>
<polygon points="117.90,501.18 119.70,502.98 117.90,504.78 116.10,502.98" fill="#0000ff"/>
<polygon points="134.36,477.90 136.16,479.70 134.36,481.50 132.56,479.70" fill="#0000ff"/>
<polygon points="150.82,493.18 152.62,494.98 150.82,496.78 149.02,494.98" fill="#0000ff"/>
<polygon points="167.28,501.06 169.08,502.86 167.28,504.66 165.48,502.86" fill="#0000ff"/>
<polygon points="183.74,504.48 185.54,506.28 183.74,508.08 181.94,506.28" fill="#0000ff"/>
<polygon points="200.20,505.85 202.00,507.65 200.20,509.45 198.40,507.65" fill="#0000ff"/>
<polygon points="216.66,509.82 218.46,511.62 216.66,513.42 214.86,511.62" fill="#0000ff"/>
<polygon points="233.12,513.71 234.92,515.51 233.12,517.31 231.32,515.51" fill="#0000ff"/>
<polygon points="249.58,514.69 251.38,516.49 249.58,518.29 247.78,516.49" fill="#0000ff"/>
<text x="36.60" y="553.80" font-size="5.2" text-anchor="middle" dominant-baseline="central" transform="rotate(45 36.60 553.80)" fill="#262626" stroke="#262626" stroke-width="0.25">La</text>
<text x="53.06" y="553.80" font-size="5.2" text-anchor="middle" dominant-baseline="central" transform="rotate(45 53.06 553.80)" fill="#262626" stroke="#262626" stroke-width="0.25">Ce</text>
<text x="69.52" y="553.80" font-size="5.2" text-anchor="middle" dominant-baseline="central" transform="rotate(45 69.52 553.80)" fill="#262626" stroke="#262626" stroke-width="0.25">Pr</text>
<text x="85.98" y="553.80" font-size="5.2" text-anchor="middle" dominant-baseline="central" transform="rotate(45 85.98 553.80)" fill="#262626" stroke="#262626" stroke-width="0.25">Nd</text>
<text x="102.44" y="553.80" font-size="5.2" text-anchor="middle" dominant-baseline="central" transform="rotate(45 102.44 553.80)" fill="#262626" stroke="#262626" stroke-width="0.25">Sm</text>
<text x="118.90" y="553.80" font-size="5.2" text-anchor="middle" dominant-baseline="central" transform="rotate(45 118.90 553.80)" fill="#262626" stroke="#262626" stroke-width="0.25">Eu</text>
<text x="135.36" y="553.80" font-size="5.2" text-anchor="middle" dominant-baseline="central" transform="rotate(45 135.36 553.80)" fill="#262626" stroke="#262626" stroke-width="0.25">Gd</text>
<text x="151.82" y="553.80" font-size="5.2" text-anchor="middle" dominant-baseline="central" transform="rotate(45 151.82 553.80)" fill="#262626" stroke="#262626" stroke-width="0.25">Tb</text>
<text x="168.28" y="553.80" font-size="5.2" text-anchor="middle" dominant-baseline="central" transform="rotate(45 168.28 553.80)" fill="#262626" stroke="#262626" stroke-width="0.25">Dy</text>
<text x="184.74" y="553.80" font-size="5.2" text-anchor="middle" dominant-baseline="central" transform="rotate(45 184.74 553.80)" fill="#262626" stroke="#262626" stroke-width="0.25">Ho</text>
<text x="201.20" y="553.80" font-size="5.2" text-anchor="middle" dominant-baseline="central" transform="rotate(45 201.20 553.80)" fill="#262626" stroke="#262626" stroke-width="0.25">Er</text>
<text x="217.66" y="553.80" font-size="5.2" text-anchor="middle" dominant-baseline="central" transform="rotate(45 217.66 553.80)" fill="#262626" stroke="#262626" stroke-width="0.25">Tm</text>
<text x="234.12" y="553.80" font-size="5.2" text-anchor="middle" dominant-baseline="central" transform="rotate(45 234.12 553.80)" fill="#262626" stroke="#262626" stroke-width="0.25">Yb</text>
<text x="250.58" y="553.80" font-size="5.2" text-anchor="middle" dominant-baseline="central" transform="rotate(45 250.58 553.80)" fill="#262626" stroke="#262626" stroke-width="0.25">Lu</text>
<path d="M77,437.4h11" stroke="#ff0000" stroke-width="0.8"/>
<circle cx="82.50" cy="437.40" r="1.56" fill="#ff0000"/>
<text x="89.2" y="439.02" font-size="5.4" fill="#262626" stroke="#262626" stroke-width="0.12" font-style="normal" font-family='"Liberation Serif", serif'>Sbx1</text>
<path d="M112,437.4h11" stroke="#0000ff" stroke-width="0.8"/>
<polygon points="117.50,435.60 119.30,437.40 117.50,439.20 115.70,437.40" fill="#0000ff"/>
<text x="124.2" y="439.02" font-size="5.4" fill="#262626" stroke="#262626" stroke-width="0.12" font-style="normal" font-family='"Liberation Serif", serif'>Sbx2</text>
<path d="M147,437.4h11" stroke="#262626" stroke-width="0.8"/>
<rect x="151.06" y="435.96" width="2.88" height="2.88" fill="#262626"/>
<text x="159.2" y="439.02" font-size="5.4" fill="#262626" stroke="#262626" stroke-width="0.12" font-style="normal" font-family='"Liberation Serif", serif'>Sbx3</text>
<path d="M182,437.4h11" stroke="#22dd22" stroke-width="0.8"/>
<polygon points="187.50,435.60 189.30,438.84 185.70,438.84" fill="#22dd22"/>
<text x="194.2" y="439.02" font-size="5.4" fill="#262626" stroke="#262626" stroke-width="0.12" font-style="normal" font-family='"Liberation Serif", serif'>Sbx4</text>
<path d="M217,437.4h11" stroke="#8b4513" stroke-width="0.8"/>
<rect x="220.70" y="435.60" width="3.60" height="3.60" fill="#8b4513"/>
<text x="229.2" y="439.02" font-size="5.4" fill="#262626" stroke="#262626" stroke-width="0.12" font-style="normal" font-family='"Liberation Serif", serif'>Sbx5</text>
<path d="M77,447.6h11" stroke="#ffc000" stroke-width="0.8"/>
<polygon points="82.50,445.80 84.30,449.04 80.70,449.04" fill="#ffc000"/>
<text x="89.2" y="449.22" font-size="5.4" fill="#262626" stroke="#262626" stroke-width="0.12" font-style="normal" font-family='"Liberation Serif", serif'>Sbx6</text>
<path d="M112,447.6h11" stroke="#3a76b0" stroke-width="0.8"/>
<polygon points="117.50,445.80 119.30,447.60 117.50,449.40 115.70,447.60" fill="#3a76b0"/>
<text x="124.2" y="449.22" font-size="5.4" fill="#262626" stroke="#262626" stroke-width="0.12" font-style="normal" font-family='"Liberation Serif", serif'>Sbx7</text>
<path d="M147,447.6h11" stroke="#00ee00" stroke-width="0.8"/>
<rect x="151.06" y="446.16" width="2.88" height="2.88" fill="#00ee00"/>
<text x="159.2" y="449.22" font-size="5.4" fill="#262626" stroke="#262626" stroke-width="0.12" font-style="normal" font-family='"Liberation Serif", serif'>Sbx8</text>
<path d="M182,447.6h11" stroke="#000000" stroke-width="0.8"/>
<polygon points="187.50,445.80 189.30,449.04 185.70,449.04" fill="#000000"/>
<text x="194.2" y="449.22" font-size="5.4" fill="#262626" stroke="#262626" stroke-width="0.12" font-style="normal" font-family='"Liberation Serif", serif'>Sbx9</text>
<path d="M217,447.6h11" stroke="#2f5f1f" stroke-width="0.8"/>
<rect x="220.70" y="445.80" width="3.60" height="3.60" fill="#2f5f1f"/>
<text x="229.2" y="449.22" font-size="5.4" fill="#262626" stroke="#262626" stroke-width="0.12" font-style="normal" font-family='"Liberation Serif", serif'>Sbx10</text>
<path d="M77,458h11" stroke="#7030a0" stroke-width="0.8"/>
<circle cx="82.50" cy="458.00" r="1.56" fill="#7030a0"/>
<text x="89.2" y="459.62" font-size="5.4" fill="#262626" stroke="#262626" stroke-width="0.12" font-style="normal" font-family='"Liberation Serif", serif'>Sbx11</text>
<path d="M112,458h11" stroke="#c00000" stroke-width="0.8"/>
<polygon points="117.50,456.20 119.30,458.00 117.50,459.80 115.70,458.00" fill="#c00000"/>
<text x="124.2" y="459.62" font-size="5.4" fill="#262626" stroke="#262626" stroke-width="0.12" font-style="normal" font-family='"Liberation Serif", serif'>Sbx12</text>
<path d="M147,458h11" stroke="#ff3399" stroke-width="0.8"/>
<path d="M150.82,458.00L154.18,458.00M152.50,456.32L152.50,459.68" stroke="#ff3399" stroke-width="0.8"/>
<text x="159.2" y="459.62" font-size="5.4" fill="#262626" stroke="#262626" stroke-width="0.12" font-style="normal" font-family='"Liberation Serif", serif'>Sbx13</text>
<path d="M182,458h11" stroke="#a0522d" stroke-width="0.8"/>
<polygon points="187.50,456.20 189.30,459.44 185.70,459.44" fill="#a0522d"/>
<text x="194.2" y="459.62" font-size="5.4" fill="#262626" stroke="#262626" stroke-width="0.12" font-style="normal" font-family='"Liberation Serif", serif'>Sbx14</text>
<path d="M217,458h11" stroke="#e6007e" stroke-width="0.8"/>
<circle cx="222.50" cy="458.00" r="1.56" fill="#e6007e"/>
<text x="229.2" y="459.62" font-size="5.4" fill="#262626" stroke="#262626" stroke-width="0.12" font-style="normal" font-family='"Liberation Serif", serif'>Sbx15</text>
<text x="252.4" y="440.6" font-size="7.8" font-weight="bold" text-anchor="middle" dominant-baseline="central" fill="#111" font-family='"Liberation Serif", serif'>g</text>
<text x="12.5" y="487.9" font-size="5.7" text-anchor="middle" dominant-baseline="central" transform="rotate(-90 12.5 487.9)" fill="#262626" stroke="#262626" stroke-width="0.08" font-weight="normal">Sample/BCC</text>
<path d="M281.9,427.1H544.0M281.9,567H544.0" fill="none" stroke="#e0e0e0" stroke-width="1.5"/>
<path d="M282.5,427.1V567M543.4,427.1V567" fill="none" stroke="#e6e6e6" stroke-width="1.1"/>
<path d="M305.3,433.5V542.3" fill="none" stroke="#a0a0a0" stroke-width="1.0"/>
<path d="M304.8,542.3H538.8" fill="none" stroke="#6e6e6e" stroke-width="1.1"/>
<path d="M303.8,434.00H305.3" stroke="#8c8c8c" stroke-width="0.6"/>
<text x="300" y="435.94" font-size="5.4" text-anchor="end" fill="#3a3a3a" stroke="#3a3a3a" stroke-width="0.0">2.5</text>
<path d="M303.8,455.66H305.3" stroke="#8c8c8c" stroke-width="0.6"/>
<text x="300" y="457.60" font-size="5.4" text-anchor="end" fill="#3a3a3a" stroke="#3a3a3a" stroke-width="0.0">2.0</text>
<path d="M303.8,477.32H305.3" stroke="#8c8c8c" stroke-width="0.6"/>
<text x="300" y="479.26" font-size="5.4" text-anchor="end" fill="#3a3a3a" stroke="#3a3a3a" stroke-width="0.0">1.5</text>
<path d="M303.8,498.98H305.3" stroke="#8c8c8c" stroke-width="0.6"/>
<text x="300" y="500.92" font-size="5.4" text-anchor="end" fill="#3a3a3a" stroke="#3a3a3a" stroke-width="0.0">1.0</text>
<path d="M303.8,520.64H305.3" stroke="#8c8c8c" stroke-width="0.6"/>
<text x="300" y="522.58" font-size="5.4" text-anchor="end" fill="#3a3a3a" stroke="#3a3a3a" stroke-width="0.0">0.5</text>
<path d="M303.8,542.30H305.3" stroke="#8c8c8c" stroke-width="0.6"/>
<text x="300" y="544.24" font-size="5.4" text-anchor="end" fill="#3a3a3a" stroke="#3a3a3a" stroke-width="0.0">0.0</text>
<polyline points="313.40,528.69 330.08,530.15 346.76,529.91 363.44,529.94 380.12,530.66 396.80,532.74 413.48,529.44 430.16,531.92 446.84,533.13 463.52,533.55 480.20,534.05 496.88,534.79 513.56,535.81 530.24,535.42" fill="none" stroke="#8b4513" stroke-width="0.8"/>
<circle cx="313.40" cy="528.69" r="1.56" fill="#8b4513"/>
<circle cx="330.08" cy="530.15" r="1.56" fill="#8b4513"/>
<circle cx="346.76" cy="529.91" r="1.56" fill="#8b4513"/>
<circle cx="363.44" cy="529.94" r="1.56" fill="#8b4513"/>
<circle cx="380.12" cy="530.66" r="1.56" fill="#8b4513"/>
<circle cx="396.80" cy="532.74" r="1.56" fill="#8b4513"/>
<circle cx="413.48" cy="529.44" r="1.56" fill="#8b4513"/>
<circle cx="430.16" cy="531.92" r="1.56" fill="#8b4513"/>
<circle cx="446.84" cy="533.13" r="1.56" fill="#8b4513"/>
<circle cx="463.52" cy="533.55" r="1.56" fill="#8b4513"/>
<circle cx="480.20" cy="534.05" r="1.56" fill="#8b4513"/>
<circle cx="496.88" cy="534.79" r="1.56" fill="#8b4513"/>
<circle cx="513.56" cy="535.81" r="1.56" fill="#8b4513"/>
<circle cx="530.24" cy="535.42" r="1.56" fill="#8b4513"/>
<polyline points="313.40,517.75 330.08,518.84 346.76,517.28 363.44,518.28 380.12,518.62 396.80,524.83 413.48,519.00 430.16,524.71 446.84,527.24 463.52,528.69 480.20,529.75 496.88,531.17 513.56,532.61 530.24,532.43" fill="none" stroke="#ff00cc" stroke-width="0.8"/>
<circle cx="313.40" cy="517.75" r="1.56" fill="#ff00cc"/>
<circle cx="330.08" cy="518.84" r="1.56" fill="#ff00cc"/>
<circle cx="346.76" cy="517.28" r="1.56" fill="#ff00cc"/>
<circle cx="363.44" cy="518.28" r="1.56" fill="#ff00cc"/>
<circle cx="380.12" cy="518.62" r="1.56" fill="#ff00cc"/>
<circle cx="396.80" cy="524.83" r="1.56" fill="#ff00cc"/>
<circle cx="413.48" cy="519.00" r="1.56" fill="#ff00cc"/>
<circle cx="430.16" cy="524.71" r="1.56" fill="#ff00cc"/>
<circle cx="446.84" cy="527.24" r="1.56" fill="#ff00cc"/>
<circle cx="463.52" cy="528.69" r="1.56" fill="#ff00cc"/>
<circle cx="480.20" cy="529.75" r="1.56" fill="#ff00cc"/>
<circle cx="496.88" cy="531.17" r="1.56" fill="#ff00cc"/>
<circle cx="513.56" cy="532.61" r="1.56" fill="#ff00cc"/>
<circle cx="530.24" cy="532.43" r="1.56" fill="#ff00cc"/>
<polyline points="313.40,512.97 330.08,513.90 346.76,513.57 363.44,515.69 380.12,517.74 396.80,526.22 413.48,518.75 430.16,524.21 446.84,526.59 463.52,527.72 480.20,528.04 496.88,529.57 513.56,530.95 530.24,530.76" fill="none" stroke="#0000ff" stroke-width="0.8"/>
<polygon points="313.40,511.17 315.20,512.97 313.40,514.77 311.60,512.97" fill="#0000ff"/>
<polygon points="330.08,512.10 331.88,513.90 330.08,515.70 328.28,513.90" fill="#0000ff"/>
<polygon points="346.76,511.77 348.56,513.57 346.76,515.37 344.96,513.57" fill="#0000ff"/>
<polygon points="363.44,513.89 365.24,515.69 363.44,517.49 361.64,515.69" fill="#0000ff"/>
<polygon points="380.12,515.94 381.92,517.74 380.12,519.54 378.32,517.74" fill="#0000ff"/>
<polygon points="396.80,524.42 398.60,526.22 396.80,528.02 395.00,526.22" fill="#0000ff"/>
<polygon points="413.48,516.95 415.28,518.75 413.48,520.55 411.68,518.75" fill="#0000ff"/>
<polygon points="430.16,522.41 431.96,524.21 430.16,526.01 428.36,524.21" fill="#0000ff"/>
<polygon points="446.84,524.79 448.64,526.59 446.84,528.39 445.04,526.59" fill="#0000ff"/>
<polygon points="463.52,525.92 465.32,527.72 463.52,529.52 461.72,527.72" fill="#0000ff"/>
<polygon points="480.20,526.24 482.00,528.04 480.20,529.84 478.40,528.04" fill="#0000ff"/>
<polygon points="496.88,527.77 498.68,529.57 496.88,531.37 495.08,529.57" fill="#0000ff"/>
<polygon points="513.56,529.15 515.36,530.95 513.56,532.75 511.76,530.95" fill="#0000ff"/>
<polygon points="530.24,528.96 532.04,530.76 530.24,532.56 528.44,530.76" fill="#0000ff"/>
<polyline points="313.40,511.60 330.08,511.97 346.76,511.04 363.44,512.60 380.12,514.24 396.80,522.09 413.48,515.88 430.16,522.60 446.84,526.59 463.52,527.67 480.20,527.77 496.88,529.93 513.56,531.21 530.24,530.98" fill="none" stroke="#7030a0" stroke-width="0.8"/>
<circle cx="313.40" cy="511.60" r="1.56" fill="#7030a0"/>
<circle cx="330.08" cy="511.97" r="1.56" fill="#7030a0"/>
<circle cx="346.76" cy="511.04" r="1.56" fill="#7030a0"/>
<circle cx="363.44" cy="512.60" r="1.56" fill="#7030a0"/>
<circle cx="380.12" cy="514.24" r="1.56" fill="#7030a0"/>
<circle cx="396.80" cy="522.09" r="1.56" fill="#7030a0"/>
<circle cx="413.48" cy="515.88" r="1.56" fill="#7030a0"/>
<circle cx="430.16" cy="522.60" r="1.56" fill="#7030a0"/>
<circle cx="446.84" cy="526.59" r="1.56" fill="#7030a0"/>
<circle cx="463.52" cy="527.67" r="1.56" fill="#7030a0"/>
<circle cx="480.20" cy="527.77" r="1.56" fill="#7030a0"/>
<circle cx="496.88" cy="529.93" r="1.56" fill="#7030a0"/>
<circle cx="513.56" cy="531.21" r="1.56" fill="#7030a0"/>
<circle cx="530.24" cy="530.98" r="1.56" fill="#7030a0"/>
<polyline points="313.40,508.44 330.08,510.13 346.76,508.20 363.44,509.37 380.12,510.25 396.80,518.34 413.48,510.64 430.16,518.33 446.84,522.25 463.52,524.45 480.20,525.71 496.88,528.03 513.56,530.01 530.24,529.62" fill="none" stroke="#ffb000" stroke-width="0.8"/>
<polygon points="313.40,506.64 315.20,509.88 311.60,509.88" fill="#ffb000"/>
<polygon points="330.08,508.33 331.88,511.57 328.28,511.57" fill="#ffb000"/>
<polygon points="346.76,506.40 348.56,509.64 344.96,509.64" fill="#ffb000"/>
<polygon points="363.44,507.57 365.24,510.81 361.64,510.81" fill="#ffb000"/>
<polygon points="380.12,508.45 381.92,511.69 378.32,511.69" fill="#ffb000"/>
<polygon points="396.80,516.54 398.60,519.78 395.00,519.78" fill="#ffb000"/>
<polygon points="413.48,508.84 415.28,512.08 411.68,512.08" fill="#ffb000"/>
<polygon points="430.16,516.53 431.96,519.77 428.36,519.77" fill="#ffb000"/>
<polygon points="446.84,520.45 448.64,523.69 445.04,523.69" fill="#ffb000"/>
<polygon points="463.52,522.65 465.32,525.89 461.72,525.89" fill="#ffb000"/>
<polygon points="480.20,523.91 482.00,527.15 478.40,527.15" fill="#ffb000"/>
<polygon points="496.88,526.23 498.68,529.47 495.08,529.47" fill="#ffb000"/>
<polygon points="513.56,528.21 515.36,531.45 511.76,531.45" fill="#ffb000"/>
<polygon points="530.24,527.82 532.04,531.06 528.44,531.06" fill="#ffb000"/>
<polyline points="313.40,481.79 330.08,483.65 346.76,494.39 363.44,498.06 380.12,503.37 396.80,518.58 413.48,505.25 430.16,513.28 446.84,516.32 463.52,516.50 480.20,516.30 496.88,517.86 513.56,520.62 530.24,519.94" fill="none" stroke="#ff0000" stroke-width="0.8"/>
<circle cx="313.40" cy="481.79" r="1.56" fill="#ff0000"/>
<circle cx="330.08" cy="483.65" r="1.56" fill="#ff0000"/>
<circle cx="346.76" cy="494.39" r="1.56" fill="#ff0000"/>
<circle cx="363.44" cy="498.06" r="1.56" fill="#ff0000"/>
<circle cx="380.12" cy="503.37" r="1.56" fill="#ff0000"/>
<circle cx="396.80" cy="518.58" r="1.56" fill="#ff0000"/>
<circle cx="413.48" cy="505.25" r="1.56" fill="#ff0000"/>
<circle cx="430.16" cy="513.28" r="1.56" fill="#ff0000"/>
<circle cx="446.84" cy="516.32" r="1.56" fill="#ff0000"/>
<circle cx="463.52" cy="516.50" r="1.56" fill="#ff0000"/>
<circle cx="480.20" cy="516.30" r="1.56" fill="#ff0000"/>
<circle cx="496.88" cy="517.86" r="1.56" fill="#ff0000"/>
<circle cx="513.56" cy="520.62" r="1.56" fill="#ff0000"/>
<circle cx="530.24" cy="519.94" r="1.56" fill="#ff0000"/>
<polyline points="313.40,469.96 330.08,471.59 346.76,484.84 363.44,489.56 380.12,495.45 396.80,513.41 413.48,498.17 430.16,509.74 446.84,515.59 463.52,518.66 480.20,519.97 496.88,523.26 513.56,525.74 530.24,526.23" fill="none" stroke="#333333" stroke-width="0.8"/>
<circle cx="313.40" cy="469.96" r="1.56" fill="#333333"/>
<circle cx="330.08" cy="471.59" r="1.56" fill="#333333"/>
<circle cx="346.76" cy="484.84" r="1.56" fill="#333333"/>
<circle cx="363.44" cy="489.56" r="1.56" fill="#333333"/>
<circle cx="380.12" cy="495.45" r="1.56" fill="#333333"/>
<circle cx="396.80" cy="513.41" r="1.56" fill="#333333"/>
<circle cx="413.48" cy="498.17" r="1.56" fill="#333333"/>
<circle cx="430.16" cy="509.74" r="1.56" fill="#333333"/>
<circle cx="446.84" cy="515.59" r="1.56" fill="#333333"/>
<circle cx="463.52" cy="518.66" r="1.56" fill="#333333"/>
<circle cx="480.20" cy="519.97" r="1.56" fill="#333333"/>
<circle cx="496.88" cy="523.26" r="1.56" fill="#333333"/>
<circle cx="513.56" cy="525.74" r="1.56" fill="#333333"/>
<circle cx="530.24" cy="526.23" r="1.56" fill="#333333"/>
<polyline points="313.40,454.00 330.08,456.34 346.76,472.37 363.44,477.98 380.12,484.19 396.80,503.88 413.48,486.60 430.16,500.28 446.84,507.31 463.52,511.02 480.20,512.93 496.88,517.25 513.56,520.62 530.24,521.48" fill="none" stroke="#22ee22" stroke-width="0.8"/>
<polygon points="313.40,452.20 315.20,455.44 311.60,455.44" fill="#22ee22"/>
<polygon points="330.08,454.54 331.88,457.78 328.28,457.78" fill="#22ee22"/>
<polygon points="346.76,470.57 348.56,473.81 344.96,473.81" fill="#22ee22"/>
<polygon points="363.44,476.18 365.24,479.42 361.64,479.42" fill="#22ee22"/>
<polygon points="380.12,482.39 381.92,485.63 378.32,485.63" fill="#22ee22"/>
<polygon points="396.80,502.08 398.60,505.32 395.00,505.32" fill="#22ee22"/>
<polygon points="413.48,484.80 415.28,488.04 411.68,488.04" fill="#22ee22"/>
<polygon points="430.16,498.48 431.96,501.72 428.36,501.72" fill="#22ee22"/>
<polygon points="446.84,505.51 448.64,508.75 445.04,508.75" fill="#22ee22"/>
<polygon points="463.52,509.22 465.32,512.46 461.72,512.46" fill="#22ee22"/>
<polygon points="480.20,511.13 482.00,514.37 478.40,514.37" fill="#22ee22"/>
<polygon points="496.88,515.45 498.68,518.69 495.08,518.69" fill="#22ee22"/>
<polygon points="513.56,518.82 515.36,522.06 511.76,522.06" fill="#22ee22"/>
<polygon points="530.24,519.68 532.04,522.92 528.44,522.92" fill="#22ee22"/>
<text x="314.40" y="551.00" font-size="5.0" text-anchor="middle" dominant-baseline="central" transform="rotate(45 314.40 551.00)" fill="#262626" stroke="#262626" stroke-width="0.25">La</text>
<text x="331.08" y="551.00" font-size="5.0" text-anchor="middle" dominant-baseline="central" transform="rotate(45 331.08 551.00)" fill="#262626" stroke="#262626" stroke-width="0.25">Ce</text>
<text x="347.76" y="551.00" font-size="5.0" text-anchor="middle" dominant-baseline="central" transform="rotate(45 347.76 551.00)" fill="#262626" stroke="#262626" stroke-width="0.25">Pr</text>
<text x="364.44" y="551.00" font-size="5.0" text-anchor="middle" dominant-baseline="central" transform="rotate(45 364.44 551.00)" fill="#262626" stroke="#262626" stroke-width="0.25">Nd</text>
<text x="381.12" y="551.00" font-size="5.0" text-anchor="middle" dominant-baseline="central" transform="rotate(45 381.12 551.00)" fill="#262626" stroke="#262626" stroke-width="0.25">Sm</text>
<text x="397.80" y="551.00" font-size="5.0" text-anchor="middle" dominant-baseline="central" transform="rotate(45 397.80 551.00)" fill="#262626" stroke="#262626" stroke-width="0.25">Eu</text>
<text x="414.48" y="551.00" font-size="5.0" text-anchor="middle" dominant-baseline="central" transform="rotate(45 414.48 551.00)" fill="#262626" stroke="#262626" stroke-width="0.25">Gd</text>
<text x="431.16" y="551.00" font-size="5.0" text-anchor="middle" dominant-baseline="central" transform="rotate(45 431.16 551.00)" fill="#262626" stroke="#262626" stroke-width="0.25">Tb</text>
<text x="447.84" y="551.00" font-size="5.0" text-anchor="middle" dominant-baseline="central" transform="rotate(45 447.84 551.00)" fill="#262626" stroke="#262626" stroke-width="0.25">Dy</text>
<text x="464.52" y="551.00" font-size="5.0" text-anchor="middle" dominant-baseline="central" transform="rotate(45 464.52 551.00)" fill="#262626" stroke="#262626" stroke-width="0.25">Ho</text>
<text x="481.20" y="551.00" font-size="5.0" text-anchor="middle" dominant-baseline="central" transform="rotate(45 481.20 551.00)" fill="#262626" stroke="#262626" stroke-width="0.25">Er</text>
<text x="497.88" y="551.00" font-size="5.0" text-anchor="middle" dominant-baseline="central" transform="rotate(45 497.88 551.00)" fill="#262626" stroke="#262626" stroke-width="0.25">Tm</text>
<text x="514.56" y="551.00" font-size="5.0" text-anchor="middle" dominant-baseline="central" transform="rotate(45 514.56 551.00)" fill="#262626" stroke="#262626" stroke-width="0.25">Yb</text>
<text x="531.24" y="551.00" font-size="5.0" text-anchor="middle" dominant-baseline="central" transform="rotate(45 531.24 551.00)" fill="#262626" stroke="#262626" stroke-width="0.25">Lu</text>
<path d="M315,440.2h11" stroke="#ff0000" stroke-width="0.8"/>
<circle cx="320.50" cy="440.20" r="1.56" fill="#ff0000"/>
<text x="327.2" y="442.17" font-size="4.7" fill="#262626" stroke="#262626" stroke-width="0" font-style="italic" font-family='"Liberation Sans", sans-serif'>Zn1</text>
<path d="M338,440.2h11" stroke="#0000ff" stroke-width="0.8"/>
<polygon points="343.50,438.40 345.30,440.20 343.50,442.00 341.70,440.20" fill="#0000ff"/>
<text x="350.2" y="442.17" font-size="4.7" fill="#262626" stroke="#262626" stroke-width="0" font-style="italic" font-family='"Liberation Sans", sans-serif'>Zn2</text>
<path d="M360.6,440.2h11" stroke="#333333" stroke-width="0.8"/>
<circle cx="366.10" cy="440.20" r="1.56" fill="#333333"/>
<text x="372.8" y="442.17" font-size="4.7" fill="#262626" stroke="#262626" stroke-width="0" font-style="italic" font-family='"Liberation Sans", sans-serif'>Zn3</text>
<path d="M383.7,440.2h11" stroke="#22ee22" stroke-width="0.8"/>
<polygon points="389.20,438.40 391.00,441.64 387.40,441.64" fill="#22ee22"/>
<text x="395.9" y="442.17" font-size="4.7" fill="#262626" stroke="#262626" stroke-width="0" font-style="italic" font-family='"Liberation Sans", sans-serif'>Zn4</text>
<path d="M406,440.2h11" stroke="#8b4513" stroke-width="0.8"/>
<circle cx="411.50" cy="440.20" r="1.56" fill="#8b4513"/>
<text x="418.2" y="442.17" font-size="4.7" fill="#262626" stroke="#262626" stroke-width="0" font-style="italic" font-family='"Liberation Sans", sans-serif'>Zn5</text>
<path d="M429.2,440.2h11" stroke="#7030a0" stroke-width="0.8"/>
<circle cx="434.70" cy="440.20" r="1.56" fill="#7030a0"/>
<text x="441.4" y="442.17" font-size="4.7" fill="#262626" stroke="#262626" stroke-width="0" font-style="italic" font-family='"Liberation Sans", sans-serif'>Zn6</text>
<path d="M452.3,440.2h11" stroke="#ff00cc" stroke-width="0.8"/>
<circle cx="457.80" cy="440.20" r="1.56" fill="#ff00cc"/>
<text x="464.5" y="442.17" font-size="4.7" fill="#262626" stroke="#262626" stroke-width="0" font-style="italic" font-family='"Liberation Sans", sans-serif'>Zn7</text>
<path d="M475,440.2h11" stroke="#ffb000" stroke-width="0.8"/>
<polygon points="480.50,438.40 482.30,441.64 478.70,441.64" fill="#ffb000"/>
<text x="487.2" y="442.17" font-size="4.7" fill="#262626" stroke="#262626" stroke-width="0" font-style="italic" font-family='"Liberation Sans", sans-serif'>Zn8</text>
<text x="529.3" y="438.4" font-size="7.8" font-weight="bold" text-anchor="middle" dominant-baseline="central" fill="#111" font-family='"Liberation Sans", sans-serif'>h</text>
<text x="288.5" y="488.3" font-size="4.9" text-anchor="middle" dominant-baseline="central" transform="rotate(-90 288.5 488.3)" fill="#262626" stroke="#262626" stroke-width="0.08" font-weight="normal">Sample/BCC</text>
</svg>
</body></html>
